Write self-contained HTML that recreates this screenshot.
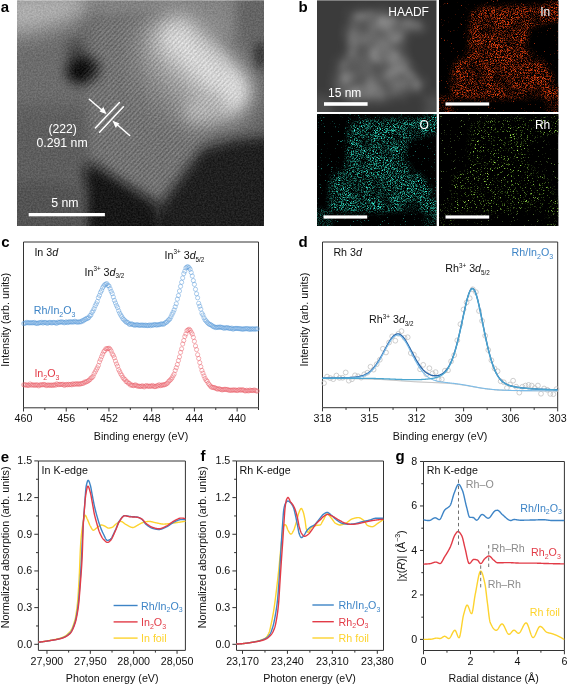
<!DOCTYPE html><html><head><meta charset="utf-8"><style>html,body{margin:0;padding:0;background:#fff;}svg{display:block}</style></head><body><svg width="567" height="685" viewBox="0 0 567 685" font-family="Liberation Sans, Arial, sans-serif"><defs><clipPath id="ca"><rect x="17" y="0" width="247" height="226"/></clipPath><filter id="b6" x="-50%" y="-50%" width="200%" height="200%"><feGaussianBlur stdDeviation="6"/></filter><filter id="b8" x="-50%" y="-50%" width="200%" height="200%"><feGaussianBlur stdDeviation="8"/></filter><filter id="b10" x="-50%" y="-50%" width="200%" height="200%"><feGaussianBlur stdDeviation="10"/></filter><filter id="b2" x="-50%" y="-50%" width="200%" height="200%"><feGaussianBlur stdDeviation="2.2"/></filter><filter id="b3" x="-50%" y="-50%" width="200%" height="200%"><feGaussianBlur stdDeviation="3"/></filter><filter id="b4" x="-50%" y="-50%" width="200%" height="200%"><feGaussianBlur stdDeviation="4"/></filter><filter id="b15" x="-50%" y="-50%" width="200%" height="200%"><feGaussianBlur stdDeviation="15"/></filter><linearGradient id="frg" x1="0" x2="1" y1="0" y2="0"><stop offset="0" stop-color="#fff" stop-opacity="0.2"/><stop offset="0.5" stop-color="#000" stop-opacity="0.2"/><stop offset="1" stop-color="#fff" stop-opacity="0.2"/></linearGradient><pattern id="fr" width="3.45" height="10" patternUnits="userSpaceOnUse" patternTransform="rotate(43.5)"><rect width="3.45" height="10" fill="url(#frg)"/></pattern><filter id="grain" x="0" y="0" width="1" height="1" color-interpolation-filters="sRGB"><feTurbulence type="fractalNoise" baseFrequency="0.6" numOctaves="2" seed="5"/><feColorMatrix type="matrix" values="2 0 0 0 -0.5  2 0 0 0 -0.5  2 0 0 0 -0.5  0 0 0 0 0.09"/></filter></defs><defs><mask id="mcry" maskUnits="userSpaceOnUse" x="0" y="0" width="300" height="240"><path d="M92,20L160,13L205,30L240,92L200,146L161,198L91,167L86,90Z" fill="#fff" filter="url(#b6)"/></mask></defs><g clip-path="url(#ca)"><rect x="17" y="0" width="247" height="226" fill="#5e5e5e"/><path d="M0,25H95V110H0Z" fill="#6a6a6a" filter="url(#b10)"/><path d="M0,110H95V178H0Z" fill="#5a5a5a" filter="url(#b10)"/><path d="M0,-10H100L92,10L70,24L40,32L0,38Z" fill="#b2b2b2" filter="url(#b10)"/><path d="M80,-10H250L250,40L215,40L170,18L100,22Z" fill="#848484" filter="url(#b8)"/><path d="M236,-5H280V145H236Z" fill="#626262" filter="url(#b6)"/><ellipse cx="260" cy="56" rx="7" ry="14" fill="#2e2e2e" filter="url(#b4)"/><path d="M92,20L160,13L205,30L240,92L200,146L161,198L91,167L86,90Z" fill="#6e6e6e" filter="url(#b6)"/><ellipse cx="192" cy="72" rx="64" ry="42" transform="rotate(45 192 72)" fill="#a0a0a0" filter="url(#b15)"/><rect x="-26" y="-60" width="52" height="120" rx="24" transform="translate(200,67) rotate(-45)" fill="#c4c4c4" filter="url(#b10)"/><rect x="-15" y="-52" width="30" height="104" rx="15" transform="translate(203,65) rotate(-45)" fill="#f6f6f6" filter="url(#b8)"/><ellipse cx="203" cy="108" rx="20" ry="13" transform="rotate(-30 203 108)" fill="#c8c8c8" filter="url(#b8)"/><ellipse cx="76" cy="52" rx="10" ry="13" fill="#444" filter="url(#b6)"/><ellipse cx="83" cy="70" rx="17" ry="13.5" transform="rotate(-15 83 70)" fill="#000" filter="url(#b6)"/><path d="M161,206L180,180L202,150L236,140L280,136V240H150Z" fill="#141414" filter="url(#b6)"/><path d="M85,167L93,162L125,184L158,205L165,240H85Z" fill="#101010" filter="url(#b6)"/><path d="M0,182L50,180L84,188L84,240H0Z" fill="#505050" filter="url(#b6)"/><rect x="17" y="0" width="247" height="226" fill="url(#fr)" mask="url(#mcry)"/><rect x="17" y="0" width="247" height="226" filter="url(#grain)"/></g><rect x="17" y="0" width="247" height="1" fill="#fff" fill-opacity="0.3"/><g stroke="#fff" stroke-width="1.5" fill="none" stroke-linecap="round"><path d="M95.3,127.9L119.4,102.5M99.6,132.3L123.4,106.7"/><path d="M89.3,99.3L103.5,111.5M129.7,135.5L115.6,123.3"/></g><path d="M106.6,114.2L99.6,111.4L103.4,107.0Z M112.4,120.6L119.4,123.4L115.6,127.8Z" fill="#fff"/><rect x="28.7" y="213" width="76.2" height="3.3" fill="#fff"/><text x="51.2" y="206.8" font-size="12.3" fill="#fff">5 nm</text><text x="48.4" y="132.6" font-size="12.2" fill="#fff">(222)</text><text x="36.4" y="147" font-size="12.3" fill="#fff">0.291 nm</text><defs><filter id="lfh" x="0" y="0" width="1" height="1" color-interpolation-filters="sRGB"><feTurbulence type="fractalNoise" baseFrequency="0.08" numOctaves="2" seed="8"/><feColorMatrix type="matrix" values="0 0 0 0 0  0 0 0 0 0  0 0 0 0 0  3.0 0 0 0 -1.38"/></filter><mask id="mk0" maskUnits="userSpaceOnUse" x="317" y="1" width="122" height="113"><g transform="translate(317,1)" filter="url(#b4)"><path d="M34,11L66,9L87,18L106,22L105,27L89,31L85,53L92,67L106,82L102,93L66,98L28,99L16,86L22,62L30,49L31,27Z" fill="#fff" fill-opacity="1.0"/><path d="M-5,96H14V118H-5Z" fill="#fff" fill-opacity="0.55"/><path d="M108,95H125V118H108Z" fill="#fff" fill-opacity="0.55"/><ellipse cx="58" cy="74" rx="3.5" ry="12" fill="#000" fill-opacity="0.75"/><ellipse cx="44" cy="52" rx="5" ry="5" fill="#000" fill-opacity="0.5"/><ellipse cx="75" cy="90" rx="8" ry="4" fill="#000" fill-opacity="0.4"/><ellipse cx="38" cy="78" rx="5" ry="6" fill="#000" fill-opacity="0.35"/><ellipse cx="100" cy="88" rx="6" ry="6" fill="#000" fill-opacity="0.3"/><ellipse cx="70" cy="30" rx="6" ry="5" fill="#000" fill-opacity="0.3"/><ellipse cx="52" cy="20" rx="4" ry="5" fill="#000" fill-opacity="0.3"/><ellipse cx="80" cy="62" rx="5" ry="5" fill="#000" fill-opacity="0.35"/><rect x="-5" y="-5" width="130" height="125" filter="url(#lfh)"/></g></mask><mask id="mk1" maskUnits="userSpaceOnUse" x="439" y="1" width="122" height="113"><g transform="translate(439,1)" filter="url(#b2)"><path d="M32,12L45,6L80,5L100,6L110,2L122,0L122,18L104,22L90,27L86,48L98,56L110,70L118,84L122,96L100,97L60,97L25,97L13,95L12,82L15,64L28,56L31,35Z" fill="#fff" fill-opacity="1.0"/><path d="M-5,96H14V118H-5Z" fill="#fff" fill-opacity="0.55"/><path d="M108,95H125V118H108Z" fill="#fff" fill-opacity="0.55"/><ellipse cx="58" cy="74" rx="3.5" ry="12" fill="#000" fill-opacity="0.75"/><ellipse cx="44" cy="52" rx="5" ry="5" fill="#000" fill-opacity="0.5"/><ellipse cx="75" cy="90" rx="8" ry="4" fill="#000" fill-opacity="0.4"/><ellipse cx="38" cy="78" rx="5" ry="6" fill="#000" fill-opacity="0.35"/><ellipse cx="100" cy="88" rx="6" ry="6" fill="#000" fill-opacity="0.3"/><ellipse cx="70" cy="30" rx="6" ry="5" fill="#000" fill-opacity="0.3"/><ellipse cx="52" cy="20" rx="4" ry="5" fill="#000" fill-opacity="0.3"/><ellipse cx="80" cy="62" rx="5" ry="5" fill="#000" fill-opacity="0.35"/><rect x="-5" y="-5" width="130" height="125" filter="url(#lfh)"/></g></mask><mask id="mk2" maskUnits="userSpaceOnUse" x="317" y="114" width="122" height="113"><g transform="translate(317,114)" filter="url(#b2)"><path d="M32,12L45,6L80,5L100,6L110,2L122,0L122,18L104,22L90,27L86,48L98,56L110,70L118,84L122,96L100,97L60,97L25,97L13,95L12,82L15,64L28,56L31,35Z" fill="#fff" fill-opacity="1.0"/><path d="M-5,96H14V118H-5Z" fill="#fff" fill-opacity="0.55"/><path d="M108,95H125V118H108Z" fill="#fff" fill-opacity="0.55"/><ellipse cx="58" cy="74" rx="3.5" ry="12" fill="#000" fill-opacity="0.75"/><ellipse cx="44" cy="52" rx="5" ry="5" fill="#000" fill-opacity="0.5"/><ellipse cx="75" cy="90" rx="8" ry="4" fill="#000" fill-opacity="0.4"/><ellipse cx="38" cy="78" rx="5" ry="6" fill="#000" fill-opacity="0.35"/><ellipse cx="100" cy="88" rx="6" ry="6" fill="#000" fill-opacity="0.3"/><ellipse cx="70" cy="30" rx="6" ry="5" fill="#000" fill-opacity="0.3"/><ellipse cx="52" cy="20" rx="4" ry="5" fill="#000" fill-opacity="0.3"/><ellipse cx="80" cy="62" rx="5" ry="5" fill="#000" fill-opacity="0.35"/><rect x="-5" y="-5" width="130" height="125" filter="url(#lfh)"/></g></mask><mask id="mk3" maskUnits="userSpaceOnUse" x="439" y="114" width="122" height="113"><g transform="translate(439,114)" filter="url(#b2)"><path d="M32,12L45,6L80,5L100,6L110,2L122,0L122,18L104,22L90,27L86,48L98,56L110,70L118,84L122,96L100,97L60,97L25,97L13,95L12,82L15,64L28,56L31,35Z" fill="#fff" fill-opacity="1.0"/><path d="M-5,96H14V118H-5Z" fill="#fff" fill-opacity="0.55"/><path d="M108,95H125V118H108Z" fill="#fff" fill-opacity="0.55"/><ellipse cx="58" cy="74" rx="3.5" ry="12" fill="#000" fill-opacity="0.75"/><ellipse cx="44" cy="52" rx="5" ry="5" fill="#000" fill-opacity="0.5"/><ellipse cx="75" cy="90" rx="8" ry="4" fill="#000" fill-opacity="0.4"/><ellipse cx="38" cy="78" rx="5" ry="6" fill="#000" fill-opacity="0.35"/><ellipse cx="100" cy="88" rx="6" ry="6" fill="#000" fill-opacity="0.3"/><ellipse cx="70" cy="30" rx="6" ry="5" fill="#000" fill-opacity="0.3"/><ellipse cx="52" cy="20" rx="4" ry="5" fill="#000" fill-opacity="0.3"/><ellipse cx="80" cy="62" rx="5" ry="5" fill="#000" fill-opacity="0.35"/><rect x="-5" y="-5" width="130" height="125" filter="url(#lfh)"/></g></mask><filter id="nIn" x="0" y="0" width="1" height="1" color-interpolation-filters="sRGB"><feTurbulence type="fractalNoise" baseFrequency="1.3" numOctaves="2" seed="11"/><feColorMatrix type="matrix" values="3.3 0 0 0 -1.4  0.9 0 0 0 -0.385  0.2 0 0 0 -0.085  0 0 0 0 1"/></filter><filter id="nO" x="0" y="0" width="1" height="1" color-interpolation-filters="sRGB"><feTurbulence type="fractalNoise" baseFrequency="1.3" numOctaves="2" seed="23"/><feColorMatrix type="matrix" values="0.5 0 0 0 -0.2  2.8 0 0 0 -1.2  2.5 0 0 0 -1.08  0 0 0 0 1"/></filter><filter id="nRh" x="0" y="0" width="1" height="1" color-interpolation-filters="sRGB"><feTurbulence type="fractalNoise" baseFrequency="1.7" numOctaves="2" seed="31"/><feColorMatrix type="matrix" values="3.4 0 0 0 -2.04  5.0 0 0 0 -2.98  1.8 0 0 0 -1.1  0 0 0 0 1"/></filter><filter id="nInBg" x="0" y="0" width="1" height="1" color-interpolation-filters="sRGB"><feTurbulence type="fractalNoise" baseFrequency="1.7" numOctaves="2" seed="12"/><feColorMatrix type="matrix" values="0.7 0 0 0 0  0.19 0 0 0 0  0.05 0 0 0 0  9 0 0 0 -6.4"/></filter><filter id="nOBg" x="0" y="0" width="1" height="1" color-interpolation-filters="sRGB"><feTurbulence type="fractalNoise" baseFrequency="1.7" numOctaves="2" seed="24"/><feColorMatrix type="matrix" values="0.12 0 0 0 0  0.55 0 0 0 0  0.5 0 0 0 0  9 0 0 0 -6.2"/></filter><filter id="nRhBg" x="0" y="0" width="1" height="1" color-interpolation-filters="sRGB"><feTurbulence type="fractalNoise" baseFrequency="1.7" numOctaves="2" seed="32"/><feColorMatrix type="matrix" values="0.4 0 0 0 0  0.55 0 0 0 0  0.25 0 0 0 0  9 0 0 0 -6.25"/></filter><filter id="haadf" x="0" y="0" width="1" height="1" color-interpolation-filters="sRGB"><feTurbulence type="fractalNoise" baseFrequency="0.06" numOctaves="1" seed="3"/><feColorMatrix type="matrix" values="0 0 0 0 0.55  0 0 0 0 0.55  0 0 0 0 0.55  1.4 0 0 0 -0.45"/></filter></defs><clipPath id="cb0"><rect x="317" y="0" width="119.7" height="112"/></clipPath><g clip-path="url(#cb0)"><rect x="317" y="0" width="119.7" height="112" fill="#3b3b3b"/><g mask="url(#mk0)"><rect x="317" y="0" width="119.7" height="112" fill="#666666"/><g filter="url(#b3)"><ellipse cx="390.6" cy="76.2" rx="7.1" ry="7.5" fill="rgb(137,137,137)"/><ellipse cx="393.1" cy="56.8" rx="6.4" ry="7.8" fill="rgb(138,138,138)"/><ellipse cx="392.8" cy="90.9" rx="6.1" ry="7.6" fill="rgb(115,115,115)"/><ellipse cx="369.7" cy="17.4" rx="5.0" ry="5.7" fill="rgb(119,119,119)"/><ellipse cx="361.0" cy="92.3" rx="6.2" ry="7.3" fill="rgb(136,136,136)"/><ellipse cx="343.2" cy="64.8" rx="5.4" ry="5.0" fill="rgb(126,126,126)"/><ellipse cx="411.9" cy="27.3" rx="7.9" ry="5.5" fill="rgb(118,118,118)"/><ellipse cx="351.3" cy="36.9" rx="6.6" ry="7.0" fill="rgb(118,118,118)"/><ellipse cx="354.6" cy="94.6" rx="5.6" ry="7.9" fill="rgb(134,134,134)"/><ellipse cx="370.0" cy="10.0" rx="5.5" ry="5.4" fill="rgb(125,125,125)"/><ellipse cx="395.3" cy="39.1" rx="6.1" ry="5.9" fill="rgb(121,121,121)"/><ellipse cx="396.9" cy="25.0" rx="7.1" ry="5.2" fill="rgb(127,127,127)"/><ellipse cx="401.5" cy="85.7" rx="6.6" ry="6.3" fill="rgb(112,112,112)"/><ellipse cx="369.4" cy="85.4" rx="5.1" ry="5.5" fill="rgb(126,126,126)"/><ellipse cx="419.1" cy="26.1" rx="5.7" ry="7.5" fill="rgb(136,136,136)"/><ellipse cx="376.7" cy="55.1" rx="6.6" ry="7.3" fill="rgb(140,140,140)"/><ellipse cx="346.3" cy="76.9" rx="6.1" ry="5.9" fill="rgb(137,137,137)"/><ellipse cx="374.2" cy="98.0" rx="6.0" ry="6.8" fill="rgb(118,118,118)"/><ellipse cx="363.9" cy="37.1" rx="7.4" ry="6.9" fill="rgb(117,117,117)"/><ellipse cx="399.0" cy="36.5" rx="5.5" ry="5.1" fill="rgb(127,127,127)"/><ellipse cx="371.9" cy="29.8" rx="6.0" ry="5.8" fill="rgb(131,131,131)"/><ellipse cx="393.0" cy="21.4" rx="5.1" ry="6.5" fill="rgb(132,132,132)"/><ellipse cx="409.1" cy="20.0" rx="6.7" ry="5.4" fill="rgb(135,135,135)"/><ellipse cx="351.5" cy="42.3" rx="7.5" ry="5.9" fill="rgb(113,113,113)"/><ellipse cx="376.0" cy="52.9" rx="6.0" ry="5.8" fill="rgb(135,135,135)"/><ellipse cx="377.4" cy="91.0" rx="6.1" ry="8.0" fill="rgb(115,115,115)"/><ellipse cx="379.9" cy="39.1" rx="6.5" ry="6.5" fill="rgb(114,114,114)"/><ellipse cx="384.1" cy="54.3" rx="7.4" ry="7.3" fill="rgb(114,114,114)"/><ellipse cx="396.7" cy="69.1" rx="5.9" ry="6.7" fill="rgb(136,136,136)"/><ellipse cx="394.5" cy="84.8" rx="7.3" ry="7.1" fill="rgb(120,120,120)"/><ellipse cx="362.3" cy="95.0" rx="5.5" ry="7.6" fill="rgb(132,132,132)"/><ellipse cx="377.8" cy="79.2" rx="7.0" ry="6.4" fill="rgb(122,122,122)"/><ellipse cx="407.2" cy="67.6" rx="6.1" ry="5.8" fill="rgb(137,137,137)"/><ellipse cx="366.7" cy="94.3" rx="6.1" ry="7.5" fill="rgb(125,125,125)"/><ellipse cx="411.8" cy="71.3" rx="7.9" ry="6.6" fill="rgb(123,123,123)"/><ellipse cx="382.5" cy="23.3" rx="6.1" ry="7.6" fill="rgb(138,138,138)"/><ellipse cx="361.3" cy="15.3" rx="7.2" ry="5.5" fill="rgb(133,133,133)"/><ellipse cx="404.1" cy="61.4" rx="7.8" ry="5.9" fill="rgb(133,133,133)"/><ellipse cx="384.6" cy="87.8" rx="7.2" ry="5.1" fill="rgb(120,120,120)"/><ellipse cx="350.8" cy="48.6" rx="5.5" ry="7.3" fill="rgb(132,132,132)"/><ellipse cx="352.5" cy="74.1" rx="7.9" ry="5.5" fill="rgb(127,127,127)"/><ellipse cx="384.2" cy="46.2" rx="6.1" ry="6.8" fill="rgb(123,123,123)"/><ellipse cx="387.8" cy="29.9" rx="6.1" ry="6.1" fill="rgb(140,140,140)"/><ellipse cx="418.9" cy="86.7" rx="5.3" ry="7.5" fill="rgb(139,139,139)"/><ellipse cx="369.2" cy="11.3" rx="5.9" ry="5.9" fill="rgb(131,131,131)"/><ellipse cx="381.1" cy="95.5" rx="7.9" ry="7.5" fill="rgb(121,121,121)"/><ellipse cx="373.0" cy="82.8" rx="6.6" ry="6.4" fill="rgb(132,132,132)"/><ellipse cx="350.5" cy="43.2" rx="7.9" ry="7.9" fill="rgb(127,127,127)"/><ellipse cx="389.3" cy="40.3" rx="7.0" ry="6.1" fill="rgb(140,140,140)"/><ellipse cx="365.0" cy="92.3" rx="5.4" ry="6.9" fill="rgb(129,129,129)"/></g></g></g><rect x="317" y="0" width="119.7" height="1" fill="#fff" fill-opacity="0.35"/><text x="428.9" y="15.6" font-size="12" fill="#fff" text-anchor="end">HAADF</text><text x="328" y="96.8" font-size="12" fill="#fff">15 nm</text><rect x="324" y="102.2" width="43.6" height="3.6" fill="#fff"/><clipPath id="cb1"><rect x="439" y="0" width="119.5" height="112"/></clipPath><g clip-path="url(#cb1)"><rect x="439" y="0" width="119.5" height="112" fill="#000"/><rect x="439" y="0" width="119.5" height="112" filter="url(#nInBg)"/><rect x="439" y="0" width="119.5" height="112" filter="url(#nIn)" mask="url(#mk1)"/></g><text x="550.3" y="15.8" font-size="12" fill="#fff" text-anchor="end">In</text><rect x="445.5" y="102.4" width="43.7" height="3.2" fill="#fff"/><clipPath id="cb2"><rect x="317" y="114" width="119.7" height="112"/></clipPath><g clip-path="url(#cb2)"><rect x="317" y="114" width="119.7" height="112" fill="#000"/><rect x="317" y="114" width="119.7" height="112" filter="url(#nOBg)"/><rect x="317" y="114" width="119.7" height="112" filter="url(#nO)" mask="url(#mk2)"/></g><text x="428.9" y="128.8" font-size="12" fill="#fff" text-anchor="end">O</text><rect x="323.5" y="215.4" width="43.7" height="3.2" fill="#fff"/><clipPath id="cb3"><rect x="439" y="114" width="119.5" height="112"/></clipPath><g clip-path="url(#cb3)"><rect x="439" y="114" width="119.5" height="112" fill="#000"/><rect x="439" y="114" width="119.5" height="112" filter="url(#nRhBg)"/><rect x="439" y="114" width="119.5" height="112" filter="url(#nRh)" mask="url(#mk3)"/></g><text x="550.3" y="128.8" font-size="12" fill="#fff" text-anchor="end">Rh</text><rect x="445.5" y="215.4" width="43.7" height="3.2" fill="#fff"/><text x="0.8" y="11.6" font-size="15" font-weight="bold" fill="#000">a</text><text x="298.6" y="11.9" font-size="15" font-weight="bold" fill="#000">b</text><text x="1.2" y="246.6" font-size="15" font-weight="bold" fill="#000">c</text><text x="298.4" y="246.6" font-size="15" font-weight="bold" fill="#000">d</text><text x="0.8" y="462" font-size="15" font-weight="bold" fill="#000">e</text><text x="200.6" y="461.2" font-size="15" font-weight="bold" fill="#000">f</text><text x="395.4" y="461.4" font-size="15" font-weight="bold" fill="#000">g</text><path d="M23.5,242V407.8H258.5V242H23.5" fill="none" stroke="#333333" stroke-width="1"/><path d="M23.5,407.8v3.7M66.23,407.8v3.7M108.95,407.8v3.7M151.68,407.8v3.7M194.41,407.8v3.7M237.14,407.8v3.7M44.86,407.8v2.2M87.59,407.8v2.2M130.32,407.8v2.2M173.05,407.8v2.2M215.77,407.8v2.2M258.5,407.8v2.2" stroke="#333333" stroke-width="1" fill="none"/><text x="23.5" y="422.3" font-size="10.7" text-anchor="middle" fill="#111111" >460</text><text x="66.23" y="422.3" font-size="10.7" text-anchor="middle" fill="#111111" >456</text><text x="108.95" y="422.3" font-size="10.7" text-anchor="middle" fill="#111111" >452</text><text x="151.68" y="422.3" font-size="10.7" text-anchor="middle" fill="#111111" >448</text><text x="194.41" y="422.3" font-size="10.7" text-anchor="middle" fill="#111111" >444</text><text x="237.14" y="422.3" font-size="10.7" text-anchor="middle" fill="#111111" >440</text><text x="141" y="439.6" font-size="10.7" text-anchor="middle" fill="#111111" >Binding energy (eV)</text><text transform="translate(8.5,319.8) rotate(-90)" font-size="10.7" text-anchor="middle" fill="#111111">Intensity (arb. units)</text><text x="34.4" y="256.2" font-size="10.7" text-anchor="start" fill="#111111" >In 3<tspan font-style="italic">d</tspan></text><text x="164.6" y="258.9" font-size="10.7" text-anchor="start" fill="#111111" >In<tspan font-size="6.3" dy="-4.6">3+</tspan><tspan dy="4.6"> 3</tspan><tspan font-style="italic">d</tspan><tspan font-size="6.3" dy="2.8">5/2</tspan></text><text x="84.5" y="275.6" font-size="10.7" text-anchor="start" fill="#111111" >In<tspan font-size="6.3" dy="-4.6">3+</tspan><tspan dy="4.6"> 3</tspan><tspan font-style="italic">d</tspan><tspan font-size="6.3" dy="2.8">3/2</tspan></text><text x="33.8" y="314" font-size="10.7" text-anchor="start" fill="#3d84c6" >Rh/In<tspan font-size="7" dy="2.6">2</tspan><tspan dy="-2.6">O</tspan><tspan font-size="7" dy="2.6">3</tspan></text><text x="34.4" y="377" font-size="10.7" text-anchor="start" fill="#e23b47" >In<tspan font-size="7" dy="2.6">2</tspan><tspan dy="-2.6">O</tspan><tspan font-size="7" dy="2.6">3</tspan></text><path d="M21.6,323.58a2.1,2.1 0 1,0 4.2,0a2.1,2.1 0 1,0 -4.2,0M22.67,323.11a2.1,2.1 0 1,0 4.2,0a2.1,2.1 0 1,0 -4.2,0M23.73,322.98a2.1,2.1 0 1,0 4.2,0a2.1,2.1 0 1,0 -4.2,0M24.8,322.29a2.1,2.1 0 1,0 4.2,0a2.1,2.1 0 1,0 -4.2,0M25.87,322.84a2.1,2.1 0 1,0 4.2,0a2.1,2.1 0 1,0 -4.2,0M26.93,322.81a2.1,2.1 0 1,0 4.2,0a2.1,2.1 0 1,0 -4.2,0M28,322.89a2.1,2.1 0 1,0 4.2,0a2.1,2.1 0 1,0 -4.2,0M29.07,322.7a2.1,2.1 0 1,0 4.2,0a2.1,2.1 0 1,0 -4.2,0M30.14,322.89a2.1,2.1 0 1,0 4.2,0a2.1,2.1 0 1,0 -4.2,0M31.2,322.74a2.1,2.1 0 1,0 4.2,0a2.1,2.1 0 1,0 -4.2,0M32.27,322.43a2.1,2.1 0 1,0 4.2,0a2.1,2.1 0 1,0 -4.2,0M33.34,323.2a2.1,2.1 0 1,0 4.2,0a2.1,2.1 0 1,0 -4.2,0M34.4,323.19a2.1,2.1 0 1,0 4.2,0a2.1,2.1 0 1,0 -4.2,0M35.47,323.47a2.1,2.1 0 1,0 4.2,0a2.1,2.1 0 1,0 -4.2,0M36.54,322.88a2.1,2.1 0 1,0 4.2,0a2.1,2.1 0 1,0 -4.2,0M37.6,322.71a2.1,2.1 0 1,0 4.2,0a2.1,2.1 0 1,0 -4.2,0M38.67,322.65a2.1,2.1 0 1,0 4.2,0a2.1,2.1 0 1,0 -4.2,0M39.74,322.29a2.1,2.1 0 1,0 4.2,0a2.1,2.1 0 1,0 -4.2,0M40.81,323.17a2.1,2.1 0 1,0 4.2,0a2.1,2.1 0 1,0 -4.2,0M41.87,322.43a2.1,2.1 0 1,0 4.2,0a2.1,2.1 0 1,0 -4.2,0M42.94,322.39a2.1,2.1 0 1,0 4.2,0a2.1,2.1 0 1,0 -4.2,0M44.01,322.72a2.1,2.1 0 1,0 4.2,0a2.1,2.1 0 1,0 -4.2,0M45.07,323.3a2.1,2.1 0 1,0 4.2,0a2.1,2.1 0 1,0 -4.2,0M46.14,322.85a2.1,2.1 0 1,0 4.2,0a2.1,2.1 0 1,0 -4.2,0M47.21,322.39a2.1,2.1 0 1,0 4.2,0a2.1,2.1 0 1,0 -4.2,0M48.27,322.49a2.1,2.1 0 1,0 4.2,0a2.1,2.1 0 1,0 -4.2,0M49.34,322.94a2.1,2.1 0 1,0 4.2,0a2.1,2.1 0 1,0 -4.2,0M50.41,322.65a2.1,2.1 0 1,0 4.2,0a2.1,2.1 0 1,0 -4.2,0M51.48,322.42a2.1,2.1 0 1,0 4.2,0a2.1,2.1 0 1,0 -4.2,0M52.54,322.59a2.1,2.1 0 1,0 4.2,0a2.1,2.1 0 1,0 -4.2,0M53.61,322.91a2.1,2.1 0 1,0 4.2,0a2.1,2.1 0 1,0 -4.2,0M54.68,323.33a2.1,2.1 0 1,0 4.2,0a2.1,2.1 0 1,0 -4.2,0M55.74,322.18a2.1,2.1 0 1,0 4.2,0a2.1,2.1 0 1,0 -4.2,0M56.81,322.37a2.1,2.1 0 1,0 4.2,0a2.1,2.1 0 1,0 -4.2,0M57.88,322.29a2.1,2.1 0 1,0 4.2,0a2.1,2.1 0 1,0 -4.2,0M58.95,321.7a2.1,2.1 0 1,0 4.2,0a2.1,2.1 0 1,0 -4.2,0M60.01,322.2a2.1,2.1 0 1,0 4.2,0a2.1,2.1 0 1,0 -4.2,0M61.08,322.13a2.1,2.1 0 1,0 4.2,0a2.1,2.1 0 1,0 -4.2,0M62.15,322.86a2.1,2.1 0 1,0 4.2,0a2.1,2.1 0 1,0 -4.2,0M63.21,322.39a2.1,2.1 0 1,0 4.2,0a2.1,2.1 0 1,0 -4.2,0M64.28,321.83a2.1,2.1 0 1,0 4.2,0a2.1,2.1 0 1,0 -4.2,0M65.35,322.59a2.1,2.1 0 1,0 4.2,0a2.1,2.1 0 1,0 -4.2,0M66.41,322.21a2.1,2.1 0 1,0 4.2,0a2.1,2.1 0 1,0 -4.2,0M67.48,321.68a2.1,2.1 0 1,0 4.2,0a2.1,2.1 0 1,0 -4.2,0M68.55,322.04a2.1,2.1 0 1,0 4.2,0a2.1,2.1 0 1,0 -4.2,0M69.62,321.99a2.1,2.1 0 1,0 4.2,0a2.1,2.1 0 1,0 -4.2,0M70.68,321.84a2.1,2.1 0 1,0 4.2,0a2.1,2.1 0 1,0 -4.2,0M71.75,322.09a2.1,2.1 0 1,0 4.2,0a2.1,2.1 0 1,0 -4.2,0M72.82,321.23a2.1,2.1 0 1,0 4.2,0a2.1,2.1 0 1,0 -4.2,0M73.88,321.84a2.1,2.1 0 1,0 4.2,0a2.1,2.1 0 1,0 -4.2,0M74.95,322.19a2.1,2.1 0 1,0 4.2,0a2.1,2.1 0 1,0 -4.2,0M76.02,322.02a2.1,2.1 0 1,0 4.2,0a2.1,2.1 0 1,0 -4.2,0M77.08,321.97a2.1,2.1 0 1,0 4.2,0a2.1,2.1 0 1,0 -4.2,0M78.15,321.81a2.1,2.1 0 1,0 4.2,0a2.1,2.1 0 1,0 -4.2,0M79.22,321.72a2.1,2.1 0 1,0 4.2,0a2.1,2.1 0 1,0 -4.2,0M80.29,320.53a2.1,2.1 0 1,0 4.2,0a2.1,2.1 0 1,0 -4.2,0M81.35,320.87a2.1,2.1 0 1,0 4.2,0a2.1,2.1 0 1,0 -4.2,0M82.42,319.49a2.1,2.1 0 1,0 4.2,0a2.1,2.1 0 1,0 -4.2,0M83.49,319.39a2.1,2.1 0 1,0 4.2,0a2.1,2.1 0 1,0 -4.2,0M84.55,318.25a2.1,2.1 0 1,0 4.2,0a2.1,2.1 0 1,0 -4.2,0M85.62,318.45a2.1,2.1 0 1,0 4.2,0a2.1,2.1 0 1,0 -4.2,0M86.69,317.53a2.1,2.1 0 1,0 4.2,0a2.1,2.1 0 1,0 -4.2,0M87.75,315.77a2.1,2.1 0 1,0 4.2,0a2.1,2.1 0 1,0 -4.2,0M88.82,315.02a2.1,2.1 0 1,0 4.2,0a2.1,2.1 0 1,0 -4.2,0M89.89,312.47a2.1,2.1 0 1,0 4.2,0a2.1,2.1 0 1,0 -4.2,0M90.96,310.83a2.1,2.1 0 1,0 4.2,0a2.1,2.1 0 1,0 -4.2,0M92.02,308.65a2.1,2.1 0 1,0 4.2,0a2.1,2.1 0 1,0 -4.2,0M93.09,305.82a2.1,2.1 0 1,0 4.2,0a2.1,2.1 0 1,0 -4.2,0M94.16,303.75a2.1,2.1 0 1,0 4.2,0a2.1,2.1 0 1,0 -4.2,0M95.22,301.52a2.1,2.1 0 1,0 4.2,0a2.1,2.1 0 1,0 -4.2,0M96.29,297.64a2.1,2.1 0 1,0 4.2,0a2.1,2.1 0 1,0 -4.2,0M97.36,295.45a2.1,2.1 0 1,0 4.2,0a2.1,2.1 0 1,0 -4.2,0M98.42,292.31a2.1,2.1 0 1,0 4.2,0a2.1,2.1 0 1,0 -4.2,0M99.49,290.41a2.1,2.1 0 1,0 4.2,0a2.1,2.1 0 1,0 -4.2,0M100.56,287.7a2.1,2.1 0 1,0 4.2,0a2.1,2.1 0 1,0 -4.2,0M101.63,285.97a2.1,2.1 0 1,0 4.2,0a2.1,2.1 0 1,0 -4.2,0M102.69,284.74a2.1,2.1 0 1,0 4.2,0a2.1,2.1 0 1,0 -4.2,0M103.76,284.05a2.1,2.1 0 1,0 4.2,0a2.1,2.1 0 1,0 -4.2,0M104.83,283.64a2.1,2.1 0 1,0 4.2,0a2.1,2.1 0 1,0 -4.2,0M105.89,285.5a2.1,2.1 0 1,0 4.2,0a2.1,2.1 0 1,0 -4.2,0M106.96,286.07a2.1,2.1 0 1,0 4.2,0a2.1,2.1 0 1,0 -4.2,0M108.03,288.73a2.1,2.1 0 1,0 4.2,0a2.1,2.1 0 1,0 -4.2,0M109.09,291.38a2.1,2.1 0 1,0 4.2,0a2.1,2.1 0 1,0 -4.2,0M110.16,293.68a2.1,2.1 0 1,0 4.2,0a2.1,2.1 0 1,0 -4.2,0M111.23,297a2.1,2.1 0 1,0 4.2,0a2.1,2.1 0 1,0 -4.2,0M112.3,300.4a2.1,2.1 0 1,0 4.2,0a2.1,2.1 0 1,0 -4.2,0M113.36,302.98a2.1,2.1 0 1,0 4.2,0a2.1,2.1 0 1,0 -4.2,0M114.43,305.57a2.1,2.1 0 1,0 4.2,0a2.1,2.1 0 1,0 -4.2,0M115.5,307.58a2.1,2.1 0 1,0 4.2,0a2.1,2.1 0 1,0 -4.2,0M116.56,310.76a2.1,2.1 0 1,0 4.2,0a2.1,2.1 0 1,0 -4.2,0M117.63,313.15a2.1,2.1 0 1,0 4.2,0a2.1,2.1 0 1,0 -4.2,0M118.7,315.18a2.1,2.1 0 1,0 4.2,0a2.1,2.1 0 1,0 -4.2,0M119.76,316.77a2.1,2.1 0 1,0 4.2,0a2.1,2.1 0 1,0 -4.2,0M120.83,318.74a2.1,2.1 0 1,0 4.2,0a2.1,2.1 0 1,0 -4.2,0M121.9,319.68a2.1,2.1 0 1,0 4.2,0a2.1,2.1 0 1,0 -4.2,0M122.97,320.9a2.1,2.1 0 1,0 4.2,0a2.1,2.1 0 1,0 -4.2,0M124.03,322.05a2.1,2.1 0 1,0 4.2,0a2.1,2.1 0 1,0 -4.2,0M125.1,322.23a2.1,2.1 0 1,0 4.2,0a2.1,2.1 0 1,0 -4.2,0M126.17,323a2.1,2.1 0 1,0 4.2,0a2.1,2.1 0 1,0 -4.2,0M127.23,324.32a2.1,2.1 0 1,0 4.2,0a2.1,2.1 0 1,0 -4.2,0M128.3,324.24a2.1,2.1 0 1,0 4.2,0a2.1,2.1 0 1,0 -4.2,0M129.37,323.77a2.1,2.1 0 1,0 4.2,0a2.1,2.1 0 1,0 -4.2,0M130.43,324.43a2.1,2.1 0 1,0 4.2,0a2.1,2.1 0 1,0 -4.2,0M131.5,324.84a2.1,2.1 0 1,0 4.2,0a2.1,2.1 0 1,0 -4.2,0M132.57,325.22a2.1,2.1 0 1,0 4.2,0a2.1,2.1 0 1,0 -4.2,0M133.64,324.96a2.1,2.1 0 1,0 4.2,0a2.1,2.1 0 1,0 -4.2,0M134.7,324.81a2.1,2.1 0 1,0 4.2,0a2.1,2.1 0 1,0 -4.2,0M135.77,324.82a2.1,2.1 0 1,0 4.2,0a2.1,2.1 0 1,0 -4.2,0M136.84,325.36a2.1,2.1 0 1,0 4.2,0a2.1,2.1 0 1,0 -4.2,0M137.9,325.29a2.1,2.1 0 1,0 4.2,0a2.1,2.1 0 1,0 -4.2,0M138.97,325.04a2.1,2.1 0 1,0 4.2,0a2.1,2.1 0 1,0 -4.2,0M140.04,325.19a2.1,2.1 0 1,0 4.2,0a2.1,2.1 0 1,0 -4.2,0M141.1,325.13a2.1,2.1 0 1,0 4.2,0a2.1,2.1 0 1,0 -4.2,0M142.17,325.54a2.1,2.1 0 1,0 4.2,0a2.1,2.1 0 1,0 -4.2,0M143.24,325.05a2.1,2.1 0 1,0 4.2,0a2.1,2.1 0 1,0 -4.2,0M144.31,325.46a2.1,2.1 0 1,0 4.2,0a2.1,2.1 0 1,0 -4.2,0M145.37,325.58a2.1,2.1 0 1,0 4.2,0a2.1,2.1 0 1,0 -4.2,0M146.44,325.44a2.1,2.1 0 1,0 4.2,0a2.1,2.1 0 1,0 -4.2,0M147.51,324.96a2.1,2.1 0 1,0 4.2,0a2.1,2.1 0 1,0 -4.2,0M148.57,325.7a2.1,2.1 0 1,0 4.2,0a2.1,2.1 0 1,0 -4.2,0M149.64,324.95a2.1,2.1 0 1,0 4.2,0a2.1,2.1 0 1,0 -4.2,0M150.71,325.3a2.1,2.1 0 1,0 4.2,0a2.1,2.1 0 1,0 -4.2,0M151.77,324.83a2.1,2.1 0 1,0 4.2,0a2.1,2.1 0 1,0 -4.2,0M152.84,324.42a2.1,2.1 0 1,0 4.2,0a2.1,2.1 0 1,0 -4.2,0M153.91,325.04a2.1,2.1 0 1,0 4.2,0a2.1,2.1 0 1,0 -4.2,0M154.98,324.97a2.1,2.1 0 1,0 4.2,0a2.1,2.1 0 1,0 -4.2,0M156.04,324.73a2.1,2.1 0 1,0 4.2,0a2.1,2.1 0 1,0 -4.2,0M157.11,324.72a2.1,2.1 0 1,0 4.2,0a2.1,2.1 0 1,0 -4.2,0M158.18,324.23a2.1,2.1 0 1,0 4.2,0a2.1,2.1 0 1,0 -4.2,0M159.24,323.99a2.1,2.1 0 1,0 4.2,0a2.1,2.1 0 1,0 -4.2,0M160.31,323.93a2.1,2.1 0 1,0 4.2,0a2.1,2.1 0 1,0 -4.2,0M161.38,324.32a2.1,2.1 0 1,0 4.2,0a2.1,2.1 0 1,0 -4.2,0M162.44,323.5a2.1,2.1 0 1,0 4.2,0a2.1,2.1 0 1,0 -4.2,0M163.51,322.49a2.1,2.1 0 1,0 4.2,0a2.1,2.1 0 1,0 -4.2,0M164.58,322.17a2.1,2.1 0 1,0 4.2,0a2.1,2.1 0 1,0 -4.2,0M165.65,320.93a2.1,2.1 0 1,0 4.2,0a2.1,2.1 0 1,0 -4.2,0M166.71,319.84a2.1,2.1 0 1,0 4.2,0a2.1,2.1 0 1,0 -4.2,0M167.78,318.95a2.1,2.1 0 1,0 4.2,0a2.1,2.1 0 1,0 -4.2,0M168.85,316.81a2.1,2.1 0 1,0 4.2,0a2.1,2.1 0 1,0 -4.2,0M169.91,314.42a2.1,2.1 0 1,0 4.2,0a2.1,2.1 0 1,0 -4.2,0M170.98,312.34a2.1,2.1 0 1,0 4.2,0a2.1,2.1 0 1,0 -4.2,0M172.05,309.95a2.1,2.1 0 1,0 4.2,0a2.1,2.1 0 1,0 -4.2,0M173.11,306.83a2.1,2.1 0 1,0 4.2,0a2.1,2.1 0 1,0 -4.2,0M174.18,303.71a2.1,2.1 0 1,0 4.2,0a2.1,2.1 0 1,0 -4.2,0M175.25,299.16a2.1,2.1 0 1,0 4.2,0a2.1,2.1 0 1,0 -4.2,0M176.32,295.52a2.1,2.1 0 1,0 4.2,0a2.1,2.1 0 1,0 -4.2,0M177.38,291.04a2.1,2.1 0 1,0 4.2,0a2.1,2.1 0 1,0 -4.2,0M178.45,286.37a2.1,2.1 0 1,0 4.2,0a2.1,2.1 0 1,0 -4.2,0M179.52,282.29a2.1,2.1 0 1,0 4.2,0a2.1,2.1 0 1,0 -4.2,0M180.58,277.96a2.1,2.1 0 1,0 4.2,0a2.1,2.1 0 1,0 -4.2,0M181.65,273.67a2.1,2.1 0 1,0 4.2,0a2.1,2.1 0 1,0 -4.2,0M182.72,271.15a2.1,2.1 0 1,0 4.2,0a2.1,2.1 0 1,0 -4.2,0M183.78,267.97a2.1,2.1 0 1,0 4.2,0a2.1,2.1 0 1,0 -4.2,0M184.85,267.04a2.1,2.1 0 1,0 4.2,0a2.1,2.1 0 1,0 -4.2,0M185.92,266.76a2.1,2.1 0 1,0 4.2,0a2.1,2.1 0 1,0 -4.2,0M186.99,267.78a2.1,2.1 0 1,0 4.2,0a2.1,2.1 0 1,0 -4.2,0M188.05,269.33a2.1,2.1 0 1,0 4.2,0a2.1,2.1 0 1,0 -4.2,0M189.12,272.46a2.1,2.1 0 1,0 4.2,0a2.1,2.1 0 1,0 -4.2,0M190.19,276.04a2.1,2.1 0 1,0 4.2,0a2.1,2.1 0 1,0 -4.2,0M191.25,280.57a2.1,2.1 0 1,0 4.2,0a2.1,2.1 0 1,0 -4.2,0M192.32,284.4a2.1,2.1 0 1,0 4.2,0a2.1,2.1 0 1,0 -4.2,0M193.39,289.3a2.1,2.1 0 1,0 4.2,0a2.1,2.1 0 1,0 -4.2,0M194.45,293.75a2.1,2.1 0 1,0 4.2,0a2.1,2.1 0 1,0 -4.2,0M195.52,297.79a2.1,2.1 0 1,0 4.2,0a2.1,2.1 0 1,0 -4.2,0M196.59,303.34a2.1,2.1 0 1,0 4.2,0a2.1,2.1 0 1,0 -4.2,0M197.66,306.2a2.1,2.1 0 1,0 4.2,0a2.1,2.1 0 1,0 -4.2,0M198.72,309.17a2.1,2.1 0 1,0 4.2,0a2.1,2.1 0 1,0 -4.2,0M199.79,313.24a2.1,2.1 0 1,0 4.2,0a2.1,2.1 0 1,0 -4.2,0M200.86,315.04a2.1,2.1 0 1,0 4.2,0a2.1,2.1 0 1,0 -4.2,0M201.92,317.82a2.1,2.1 0 1,0 4.2,0a2.1,2.1 0 1,0 -4.2,0M202.99,319.91a2.1,2.1 0 1,0 4.2,0a2.1,2.1 0 1,0 -4.2,0M204.06,320.98a2.1,2.1 0 1,0 4.2,0a2.1,2.1 0 1,0 -4.2,0M205.12,322.37a2.1,2.1 0 1,0 4.2,0a2.1,2.1 0 1,0 -4.2,0M206.19,323.39a2.1,2.1 0 1,0 4.2,0a2.1,2.1 0 1,0 -4.2,0M207.26,324.39a2.1,2.1 0 1,0 4.2,0a2.1,2.1 0 1,0 -4.2,0M208.33,324.55a2.1,2.1 0 1,0 4.2,0a2.1,2.1 0 1,0 -4.2,0M209.39,325.24a2.1,2.1 0 1,0 4.2,0a2.1,2.1 0 1,0 -4.2,0M210.46,326.06a2.1,2.1 0 1,0 4.2,0a2.1,2.1 0 1,0 -4.2,0M211.53,326.82a2.1,2.1 0 1,0 4.2,0a2.1,2.1 0 1,0 -4.2,0M212.59,326.96a2.1,2.1 0 1,0 4.2,0a2.1,2.1 0 1,0 -4.2,0M213.66,327.58a2.1,2.1 0 1,0 4.2,0a2.1,2.1 0 1,0 -4.2,0M214.73,327.41a2.1,2.1 0 1,0 4.2,0a2.1,2.1 0 1,0 -4.2,0M215.79,327.15a2.1,2.1 0 1,0 4.2,0a2.1,2.1 0 1,0 -4.2,0M216.86,327.42a2.1,2.1 0 1,0 4.2,0a2.1,2.1 0 1,0 -4.2,0M217.93,326.88a2.1,2.1 0 1,0 4.2,0a2.1,2.1 0 1,0 -4.2,0M219,327.36a2.1,2.1 0 1,0 4.2,0a2.1,2.1 0 1,0 -4.2,0M220.06,327.43a2.1,2.1 0 1,0 4.2,0a2.1,2.1 0 1,0 -4.2,0M221.13,327.97a2.1,2.1 0 1,0 4.2,0a2.1,2.1 0 1,0 -4.2,0M222.2,328.18a2.1,2.1 0 1,0 4.2,0a2.1,2.1 0 1,0 -4.2,0M223.26,327.83a2.1,2.1 0 1,0 4.2,0a2.1,2.1 0 1,0 -4.2,0M224.33,327.88a2.1,2.1 0 1,0 4.2,0a2.1,2.1 0 1,0 -4.2,0M225.4,327.61a2.1,2.1 0 1,0 4.2,0a2.1,2.1 0 1,0 -4.2,0M226.46,328.16a2.1,2.1 0 1,0 4.2,0a2.1,2.1 0 1,0 -4.2,0M227.53,328.34a2.1,2.1 0 1,0 4.2,0a2.1,2.1 0 1,0 -4.2,0M228.6,328.46a2.1,2.1 0 1,0 4.2,0a2.1,2.1 0 1,0 -4.2,0M229.67,328.07a2.1,2.1 0 1,0 4.2,0a2.1,2.1 0 1,0 -4.2,0M230.73,329.08a2.1,2.1 0 1,0 4.2,0a2.1,2.1 0 1,0 -4.2,0M231.8,328.84a2.1,2.1 0 1,0 4.2,0a2.1,2.1 0 1,0 -4.2,0M232.87,328.43a2.1,2.1 0 1,0 4.2,0a2.1,2.1 0 1,0 -4.2,0M233.93,328.31a2.1,2.1 0 1,0 4.2,0a2.1,2.1 0 1,0 -4.2,0M235,328.42a2.1,2.1 0 1,0 4.2,0a2.1,2.1 0 1,0 -4.2,0M236.07,328.61a2.1,2.1 0 1,0 4.2,0a2.1,2.1 0 1,0 -4.2,0M237.13,328.58a2.1,2.1 0 1,0 4.2,0a2.1,2.1 0 1,0 -4.2,0M238.2,328.78a2.1,2.1 0 1,0 4.2,0a2.1,2.1 0 1,0 -4.2,0M239.27,328.91a2.1,2.1 0 1,0 4.2,0a2.1,2.1 0 1,0 -4.2,0M240.34,329.14a2.1,2.1 0 1,0 4.2,0a2.1,2.1 0 1,0 -4.2,0M241.4,329.09a2.1,2.1 0 1,0 4.2,0a2.1,2.1 0 1,0 -4.2,0M242.47,328.67a2.1,2.1 0 1,0 4.2,0a2.1,2.1 0 1,0 -4.2,0M243.54,328.86a2.1,2.1 0 1,0 4.2,0a2.1,2.1 0 1,0 -4.2,0M244.6,328.61a2.1,2.1 0 1,0 4.2,0a2.1,2.1 0 1,0 -4.2,0M245.67,328.56a2.1,2.1 0 1,0 4.2,0a2.1,2.1 0 1,0 -4.2,0M246.74,329.45a2.1,2.1 0 1,0 4.2,0a2.1,2.1 0 1,0 -4.2,0M247.8,328.64a2.1,2.1 0 1,0 4.2,0a2.1,2.1 0 1,0 -4.2,0M248.87,329.51a2.1,2.1 0 1,0 4.2,0a2.1,2.1 0 1,0 -4.2,0M249.94,328.71a2.1,2.1 0 1,0 4.2,0a2.1,2.1 0 1,0 -4.2,0M251.01,328.93a2.1,2.1 0 1,0 4.2,0a2.1,2.1 0 1,0 -4.2,0M252.07,329.24a2.1,2.1 0 1,0 4.2,0a2.1,2.1 0 1,0 -4.2,0M253.14,328.88a2.1,2.1 0 1,0 4.2,0a2.1,2.1 0 1,0 -4.2,0M254.21,329.02a2.1,2.1 0 1,0 4.2,0a2.1,2.1 0 1,0 -4.2,0M255.27,328.81a2.1,2.1 0 1,0 4.2,0a2.1,2.1 0 1,0 -4.2,0" fill="none" stroke="#5b9bd8" stroke-width="0.5"/><path d="M21.6,384.8a2.1,2.1 0 1,0 4.2,0a2.1,2.1 0 1,0 -4.2,0M22.67,384.9a2.1,2.1 0 1,0 4.2,0a2.1,2.1 0 1,0 -4.2,0M23.73,384.73a2.1,2.1 0 1,0 4.2,0a2.1,2.1 0 1,0 -4.2,0M24.8,385.52a2.1,2.1 0 1,0 4.2,0a2.1,2.1 0 1,0 -4.2,0M25.87,384.89a2.1,2.1 0 1,0 4.2,0a2.1,2.1 0 1,0 -4.2,0M26.93,385.54a2.1,2.1 0 1,0 4.2,0a2.1,2.1 0 1,0 -4.2,0M28,383.99a2.1,2.1 0 1,0 4.2,0a2.1,2.1 0 1,0 -4.2,0M29.07,384.93a2.1,2.1 0 1,0 4.2,0a2.1,2.1 0 1,0 -4.2,0M30.14,385.12a2.1,2.1 0 1,0 4.2,0a2.1,2.1 0 1,0 -4.2,0M31.2,384.81a2.1,2.1 0 1,0 4.2,0a2.1,2.1 0 1,0 -4.2,0M32.27,385.29a2.1,2.1 0 1,0 4.2,0a2.1,2.1 0 1,0 -4.2,0M33.34,385.12a2.1,2.1 0 1,0 4.2,0a2.1,2.1 0 1,0 -4.2,0M34.4,384.8a2.1,2.1 0 1,0 4.2,0a2.1,2.1 0 1,0 -4.2,0M35.47,385.04a2.1,2.1 0 1,0 4.2,0a2.1,2.1 0 1,0 -4.2,0M36.54,385.86a2.1,2.1 0 1,0 4.2,0a2.1,2.1 0 1,0 -4.2,0M37.6,384.96a2.1,2.1 0 1,0 4.2,0a2.1,2.1 0 1,0 -4.2,0M38.67,384.96a2.1,2.1 0 1,0 4.2,0a2.1,2.1 0 1,0 -4.2,0M39.74,384.7a2.1,2.1 0 1,0 4.2,0a2.1,2.1 0 1,0 -4.2,0M40.81,384.89a2.1,2.1 0 1,0 4.2,0a2.1,2.1 0 1,0 -4.2,0M41.87,384.38a2.1,2.1 0 1,0 4.2,0a2.1,2.1 0 1,0 -4.2,0M42.94,384.75a2.1,2.1 0 1,0 4.2,0a2.1,2.1 0 1,0 -4.2,0M44.01,385.67a2.1,2.1 0 1,0 4.2,0a2.1,2.1 0 1,0 -4.2,0M45.07,385.17a2.1,2.1 0 1,0 4.2,0a2.1,2.1 0 1,0 -4.2,0M46.14,385.01a2.1,2.1 0 1,0 4.2,0a2.1,2.1 0 1,0 -4.2,0M47.21,385.16a2.1,2.1 0 1,0 4.2,0a2.1,2.1 0 1,0 -4.2,0M48.27,385.42a2.1,2.1 0 1,0 4.2,0a2.1,2.1 0 1,0 -4.2,0M49.34,384.95a2.1,2.1 0 1,0 4.2,0a2.1,2.1 0 1,0 -4.2,0M50.41,385.46a2.1,2.1 0 1,0 4.2,0a2.1,2.1 0 1,0 -4.2,0M51.48,385.09a2.1,2.1 0 1,0 4.2,0a2.1,2.1 0 1,0 -4.2,0M52.54,384.76a2.1,2.1 0 1,0 4.2,0a2.1,2.1 0 1,0 -4.2,0M53.61,385.29a2.1,2.1 0 1,0 4.2,0a2.1,2.1 0 1,0 -4.2,0M54.68,383.84a2.1,2.1 0 1,0 4.2,0a2.1,2.1 0 1,0 -4.2,0M55.74,384.45a2.1,2.1 0 1,0 4.2,0a2.1,2.1 0 1,0 -4.2,0M56.81,384.72a2.1,2.1 0 1,0 4.2,0a2.1,2.1 0 1,0 -4.2,0M57.88,384.29a2.1,2.1 0 1,0 4.2,0a2.1,2.1 0 1,0 -4.2,0M58.95,384.53a2.1,2.1 0 1,0 4.2,0a2.1,2.1 0 1,0 -4.2,0M60.01,384.34a2.1,2.1 0 1,0 4.2,0a2.1,2.1 0 1,0 -4.2,0M61.08,384.31a2.1,2.1 0 1,0 4.2,0a2.1,2.1 0 1,0 -4.2,0M62.15,385.46a2.1,2.1 0 1,0 4.2,0a2.1,2.1 0 1,0 -4.2,0M63.21,384.7a2.1,2.1 0 1,0 4.2,0a2.1,2.1 0 1,0 -4.2,0M64.28,384.43a2.1,2.1 0 1,0 4.2,0a2.1,2.1 0 1,0 -4.2,0M65.35,384.88a2.1,2.1 0 1,0 4.2,0a2.1,2.1 0 1,0 -4.2,0M66.41,384.3a2.1,2.1 0 1,0 4.2,0a2.1,2.1 0 1,0 -4.2,0M67.48,384.66a2.1,2.1 0 1,0 4.2,0a2.1,2.1 0 1,0 -4.2,0M68.55,384.43a2.1,2.1 0 1,0 4.2,0a2.1,2.1 0 1,0 -4.2,0M69.62,384.84a2.1,2.1 0 1,0 4.2,0a2.1,2.1 0 1,0 -4.2,0M70.68,383.72a2.1,2.1 0 1,0 4.2,0a2.1,2.1 0 1,0 -4.2,0M71.75,384.44a2.1,2.1 0 1,0 4.2,0a2.1,2.1 0 1,0 -4.2,0M72.82,384.15a2.1,2.1 0 1,0 4.2,0a2.1,2.1 0 1,0 -4.2,0M73.88,383.64a2.1,2.1 0 1,0 4.2,0a2.1,2.1 0 1,0 -4.2,0M74.95,384.34a2.1,2.1 0 1,0 4.2,0a2.1,2.1 0 1,0 -4.2,0M76.02,383.57a2.1,2.1 0 1,0 4.2,0a2.1,2.1 0 1,0 -4.2,0M77.08,384.33a2.1,2.1 0 1,0 4.2,0a2.1,2.1 0 1,0 -4.2,0M78.15,383.8a2.1,2.1 0 1,0 4.2,0a2.1,2.1 0 1,0 -4.2,0M79.22,383.7a2.1,2.1 0 1,0 4.2,0a2.1,2.1 0 1,0 -4.2,0M80.29,383.28a2.1,2.1 0 1,0 4.2,0a2.1,2.1 0 1,0 -4.2,0M81.35,383.31a2.1,2.1 0 1,0 4.2,0a2.1,2.1 0 1,0 -4.2,0M82.42,382.02a2.1,2.1 0 1,0 4.2,0a2.1,2.1 0 1,0 -4.2,0M83.49,382.29a2.1,2.1 0 1,0 4.2,0a2.1,2.1 0 1,0 -4.2,0M84.55,381.54a2.1,2.1 0 1,0 4.2,0a2.1,2.1 0 1,0 -4.2,0M85.62,381.24a2.1,2.1 0 1,0 4.2,0a2.1,2.1 0 1,0 -4.2,0M86.69,380.36a2.1,2.1 0 1,0 4.2,0a2.1,2.1 0 1,0 -4.2,0M87.75,379.67a2.1,2.1 0 1,0 4.2,0a2.1,2.1 0 1,0 -4.2,0M88.82,378.05a2.1,2.1 0 1,0 4.2,0a2.1,2.1 0 1,0 -4.2,0M89.89,377.69a2.1,2.1 0 1,0 4.2,0a2.1,2.1 0 1,0 -4.2,0M90.96,376.34a2.1,2.1 0 1,0 4.2,0a2.1,2.1 0 1,0 -4.2,0M92.02,373.72a2.1,2.1 0 1,0 4.2,0a2.1,2.1 0 1,0 -4.2,0M93.09,371.83a2.1,2.1 0 1,0 4.2,0a2.1,2.1 0 1,0 -4.2,0M94.16,369.78a2.1,2.1 0 1,0 4.2,0a2.1,2.1 0 1,0 -4.2,0M95.22,367.77a2.1,2.1 0 1,0 4.2,0a2.1,2.1 0 1,0 -4.2,0M96.29,365.5a2.1,2.1 0 1,0 4.2,0a2.1,2.1 0 1,0 -4.2,0M97.36,361.82a2.1,2.1 0 1,0 4.2,0a2.1,2.1 0 1,0 -4.2,0M98.42,359.4a2.1,2.1 0 1,0 4.2,0a2.1,2.1 0 1,0 -4.2,0M99.49,356.66a2.1,2.1 0 1,0 4.2,0a2.1,2.1 0 1,0 -4.2,0M100.56,354.19a2.1,2.1 0 1,0 4.2,0a2.1,2.1 0 1,0 -4.2,0M101.63,351.81a2.1,2.1 0 1,0 4.2,0a2.1,2.1 0 1,0 -4.2,0M102.69,350.66a2.1,2.1 0 1,0 4.2,0a2.1,2.1 0 1,0 -4.2,0M103.76,348.75a2.1,2.1 0 1,0 4.2,0a2.1,2.1 0 1,0 -4.2,0M104.83,348.86a2.1,2.1 0 1,0 4.2,0a2.1,2.1 0 1,0 -4.2,0M105.89,348.46a2.1,2.1 0 1,0 4.2,0a2.1,2.1 0 1,0 -4.2,0M106.96,348.23a2.1,2.1 0 1,0 4.2,0a2.1,2.1 0 1,0 -4.2,0M108.03,349.3a2.1,2.1 0 1,0 4.2,0a2.1,2.1 0 1,0 -4.2,0M109.09,351.06a2.1,2.1 0 1,0 4.2,0a2.1,2.1 0 1,0 -4.2,0M110.16,353.83a2.1,2.1 0 1,0 4.2,0a2.1,2.1 0 1,0 -4.2,0M111.23,355.43a2.1,2.1 0 1,0 4.2,0a2.1,2.1 0 1,0 -4.2,0M112.3,357.81a2.1,2.1 0 1,0 4.2,0a2.1,2.1 0 1,0 -4.2,0M113.36,361.04a2.1,2.1 0 1,0 4.2,0a2.1,2.1 0 1,0 -4.2,0M114.43,363.94a2.1,2.1 0 1,0 4.2,0a2.1,2.1 0 1,0 -4.2,0M115.5,366.27a2.1,2.1 0 1,0 4.2,0a2.1,2.1 0 1,0 -4.2,0M116.56,369.64a2.1,2.1 0 1,0 4.2,0a2.1,2.1 0 1,0 -4.2,0M117.63,371.58a2.1,2.1 0 1,0 4.2,0a2.1,2.1 0 1,0 -4.2,0M118.7,373.87a2.1,2.1 0 1,0 4.2,0a2.1,2.1 0 1,0 -4.2,0M119.76,375.41a2.1,2.1 0 1,0 4.2,0a2.1,2.1 0 1,0 -4.2,0M120.83,377.47a2.1,2.1 0 1,0 4.2,0a2.1,2.1 0 1,0 -4.2,0M121.9,378.97a2.1,2.1 0 1,0 4.2,0a2.1,2.1 0 1,0 -4.2,0M122.97,379.56a2.1,2.1 0 1,0 4.2,0a2.1,2.1 0 1,0 -4.2,0M124.03,381.58a2.1,2.1 0 1,0 4.2,0a2.1,2.1 0 1,0 -4.2,0M125.1,381.8a2.1,2.1 0 1,0 4.2,0a2.1,2.1 0 1,0 -4.2,0M126.17,383.19a2.1,2.1 0 1,0 4.2,0a2.1,2.1 0 1,0 -4.2,0M127.23,383.32a2.1,2.1 0 1,0 4.2,0a2.1,2.1 0 1,0 -4.2,0M128.3,385.06a2.1,2.1 0 1,0 4.2,0a2.1,2.1 0 1,0 -4.2,0M129.37,384.88a2.1,2.1 0 1,0 4.2,0a2.1,2.1 0 1,0 -4.2,0M130.43,385.4a2.1,2.1 0 1,0 4.2,0a2.1,2.1 0 1,0 -4.2,0M131.5,385.68a2.1,2.1 0 1,0 4.2,0a2.1,2.1 0 1,0 -4.2,0M132.57,385.11a2.1,2.1 0 1,0 4.2,0a2.1,2.1 0 1,0 -4.2,0M133.64,384.94a2.1,2.1 0 1,0 4.2,0a2.1,2.1 0 1,0 -4.2,0M134.7,385.75a2.1,2.1 0 1,0 4.2,0a2.1,2.1 0 1,0 -4.2,0M135.77,386.29a2.1,2.1 0 1,0 4.2,0a2.1,2.1 0 1,0 -4.2,0M136.84,386.09a2.1,2.1 0 1,0 4.2,0a2.1,2.1 0 1,0 -4.2,0M137.9,386.4a2.1,2.1 0 1,0 4.2,0a2.1,2.1 0 1,0 -4.2,0M138.97,386.5a2.1,2.1 0 1,0 4.2,0a2.1,2.1 0 1,0 -4.2,0M140.04,385.69a2.1,2.1 0 1,0 4.2,0a2.1,2.1 0 1,0 -4.2,0M141.1,386.34a2.1,2.1 0 1,0 4.2,0a2.1,2.1 0 1,0 -4.2,0M142.17,386.95a2.1,2.1 0 1,0 4.2,0a2.1,2.1 0 1,0 -4.2,0M143.24,386.08a2.1,2.1 0 1,0 4.2,0a2.1,2.1 0 1,0 -4.2,0M144.31,385.57a2.1,2.1 0 1,0 4.2,0a2.1,2.1 0 1,0 -4.2,0M145.37,386.2a2.1,2.1 0 1,0 4.2,0a2.1,2.1 0 1,0 -4.2,0M146.44,386.12a2.1,2.1 0 1,0 4.2,0a2.1,2.1 0 1,0 -4.2,0M147.51,386.41a2.1,2.1 0 1,0 4.2,0a2.1,2.1 0 1,0 -4.2,0M148.57,385.93a2.1,2.1 0 1,0 4.2,0a2.1,2.1 0 1,0 -4.2,0M149.64,386.25a2.1,2.1 0 1,0 4.2,0a2.1,2.1 0 1,0 -4.2,0M150.71,385.41a2.1,2.1 0 1,0 4.2,0a2.1,2.1 0 1,0 -4.2,0M151.77,386.44a2.1,2.1 0 1,0 4.2,0a2.1,2.1 0 1,0 -4.2,0M152.84,386.65a2.1,2.1 0 1,0 4.2,0a2.1,2.1 0 1,0 -4.2,0M153.91,386.48a2.1,2.1 0 1,0 4.2,0a2.1,2.1 0 1,0 -4.2,0M154.98,385.42a2.1,2.1 0 1,0 4.2,0a2.1,2.1 0 1,0 -4.2,0M156.04,385.97a2.1,2.1 0 1,0 4.2,0a2.1,2.1 0 1,0 -4.2,0M157.11,384.7a2.1,2.1 0 1,0 4.2,0a2.1,2.1 0 1,0 -4.2,0M158.18,385.71a2.1,2.1 0 1,0 4.2,0a2.1,2.1 0 1,0 -4.2,0M159.24,385.41a2.1,2.1 0 1,0 4.2,0a2.1,2.1 0 1,0 -4.2,0M160.31,384.86a2.1,2.1 0 1,0 4.2,0a2.1,2.1 0 1,0 -4.2,0M161.38,385.05a2.1,2.1 0 1,0 4.2,0a2.1,2.1 0 1,0 -4.2,0M162.44,384.63a2.1,2.1 0 1,0 4.2,0a2.1,2.1 0 1,0 -4.2,0M163.51,384.46a2.1,2.1 0 1,0 4.2,0a2.1,2.1 0 1,0 -4.2,0M164.58,383.6a2.1,2.1 0 1,0 4.2,0a2.1,2.1 0 1,0 -4.2,0M165.65,382.92a2.1,2.1 0 1,0 4.2,0a2.1,2.1 0 1,0 -4.2,0M166.71,381.26a2.1,2.1 0 1,0 4.2,0a2.1,2.1 0 1,0 -4.2,0M167.78,380.42a2.1,2.1 0 1,0 4.2,0a2.1,2.1 0 1,0 -4.2,0M168.85,379.29a2.1,2.1 0 1,0 4.2,0a2.1,2.1 0 1,0 -4.2,0M169.91,377.91a2.1,2.1 0 1,0 4.2,0a2.1,2.1 0 1,0 -4.2,0M170.98,375.83a2.1,2.1 0 1,0 4.2,0a2.1,2.1 0 1,0 -4.2,0M172.05,374.05a2.1,2.1 0 1,0 4.2,0a2.1,2.1 0 1,0 -4.2,0M173.11,370.54a2.1,2.1 0 1,0 4.2,0a2.1,2.1 0 1,0 -4.2,0M174.18,367.72a2.1,2.1 0 1,0 4.2,0a2.1,2.1 0 1,0 -4.2,0M175.25,364.51a2.1,2.1 0 1,0 4.2,0a2.1,2.1 0 1,0 -4.2,0M176.32,360.63a2.1,2.1 0 1,0 4.2,0a2.1,2.1 0 1,0 -4.2,0M177.38,356.91a2.1,2.1 0 1,0 4.2,0a2.1,2.1 0 1,0 -4.2,0M178.45,352.38a2.1,2.1 0 1,0 4.2,0a2.1,2.1 0 1,0 -4.2,0M179.52,348.83a2.1,2.1 0 1,0 4.2,0a2.1,2.1 0 1,0 -4.2,0M180.58,344.03a2.1,2.1 0 1,0 4.2,0a2.1,2.1 0 1,0 -4.2,0M181.65,340.53a2.1,2.1 0 1,0 4.2,0a2.1,2.1 0 1,0 -4.2,0M182.72,336.51a2.1,2.1 0 1,0 4.2,0a2.1,2.1 0 1,0 -4.2,0M183.78,333.99a2.1,2.1 0 1,0 4.2,0a2.1,2.1 0 1,0 -4.2,0M184.85,330.68a2.1,2.1 0 1,0 4.2,0a2.1,2.1 0 1,0 -4.2,0M185.92,329.97a2.1,2.1 0 1,0 4.2,0a2.1,2.1 0 1,0 -4.2,0M186.99,329.28a2.1,2.1 0 1,0 4.2,0a2.1,2.1 0 1,0 -4.2,0M188.05,330.22a2.1,2.1 0 1,0 4.2,0a2.1,2.1 0 1,0 -4.2,0M189.12,332.28a2.1,2.1 0 1,0 4.2,0a2.1,2.1 0 1,0 -4.2,0M190.19,334.08a2.1,2.1 0 1,0 4.2,0a2.1,2.1 0 1,0 -4.2,0M191.25,337.35a2.1,2.1 0 1,0 4.2,0a2.1,2.1 0 1,0 -4.2,0M192.32,341.34a2.1,2.1 0 1,0 4.2,0a2.1,2.1 0 1,0 -4.2,0M193.39,345.98a2.1,2.1 0 1,0 4.2,0a2.1,2.1 0 1,0 -4.2,0M194.45,349.61a2.1,2.1 0 1,0 4.2,0a2.1,2.1 0 1,0 -4.2,0M195.52,354.7a2.1,2.1 0 1,0 4.2,0a2.1,2.1 0 1,0 -4.2,0M196.59,358.5a2.1,2.1 0 1,0 4.2,0a2.1,2.1 0 1,0 -4.2,0M197.66,362.62a2.1,2.1 0 1,0 4.2,0a2.1,2.1 0 1,0 -4.2,0M198.72,366.69a2.1,2.1 0 1,0 4.2,0a2.1,2.1 0 1,0 -4.2,0M199.79,370.41a2.1,2.1 0 1,0 4.2,0a2.1,2.1 0 1,0 -4.2,0M200.86,373.16a2.1,2.1 0 1,0 4.2,0a2.1,2.1 0 1,0 -4.2,0M201.92,375.93a2.1,2.1 0 1,0 4.2,0a2.1,2.1 0 1,0 -4.2,0M202.99,378.45a2.1,2.1 0 1,0 4.2,0a2.1,2.1 0 1,0 -4.2,0M204.06,380.39a2.1,2.1 0 1,0 4.2,0a2.1,2.1 0 1,0 -4.2,0M205.12,381.24a2.1,2.1 0 1,0 4.2,0a2.1,2.1 0 1,0 -4.2,0M206.19,383.43a2.1,2.1 0 1,0 4.2,0a2.1,2.1 0 1,0 -4.2,0M207.26,384.77a2.1,2.1 0 1,0 4.2,0a2.1,2.1 0 1,0 -4.2,0M208.33,386.06a2.1,2.1 0 1,0 4.2,0a2.1,2.1 0 1,0 -4.2,0M209.39,387.15a2.1,2.1 0 1,0 4.2,0a2.1,2.1 0 1,0 -4.2,0M210.46,387.28a2.1,2.1 0 1,0 4.2,0a2.1,2.1 0 1,0 -4.2,0M211.53,387.57a2.1,2.1 0 1,0 4.2,0a2.1,2.1 0 1,0 -4.2,0M212.59,387.6a2.1,2.1 0 1,0 4.2,0a2.1,2.1 0 1,0 -4.2,0M213.66,388.29a2.1,2.1 0 1,0 4.2,0a2.1,2.1 0 1,0 -4.2,0M214.73,388.79a2.1,2.1 0 1,0 4.2,0a2.1,2.1 0 1,0 -4.2,0M215.79,389.18a2.1,2.1 0 1,0 4.2,0a2.1,2.1 0 1,0 -4.2,0M216.86,388.61a2.1,2.1 0 1,0 4.2,0a2.1,2.1 0 1,0 -4.2,0M217.93,389.15a2.1,2.1 0 1,0 4.2,0a2.1,2.1 0 1,0 -4.2,0M219,389.49a2.1,2.1 0 1,0 4.2,0a2.1,2.1 0 1,0 -4.2,0M220.06,389.97a2.1,2.1 0 1,0 4.2,0a2.1,2.1 0 1,0 -4.2,0M221.13,389.51a2.1,2.1 0 1,0 4.2,0a2.1,2.1 0 1,0 -4.2,0M222.2,389.32a2.1,2.1 0 1,0 4.2,0a2.1,2.1 0 1,0 -4.2,0M223.26,389.35a2.1,2.1 0 1,0 4.2,0a2.1,2.1 0 1,0 -4.2,0M224.33,389.54a2.1,2.1 0 1,0 4.2,0a2.1,2.1 0 1,0 -4.2,0M225.4,389.51a2.1,2.1 0 1,0 4.2,0a2.1,2.1 0 1,0 -4.2,0M226.46,390.09a2.1,2.1 0 1,0 4.2,0a2.1,2.1 0 1,0 -4.2,0M227.53,390.23a2.1,2.1 0 1,0 4.2,0a2.1,2.1 0 1,0 -4.2,0M228.6,390.17a2.1,2.1 0 1,0 4.2,0a2.1,2.1 0 1,0 -4.2,0M229.67,390.38a2.1,2.1 0 1,0 4.2,0a2.1,2.1 0 1,0 -4.2,0M230.73,389.85a2.1,2.1 0 1,0 4.2,0a2.1,2.1 0 1,0 -4.2,0M231.8,390.19a2.1,2.1 0 1,0 4.2,0a2.1,2.1 0 1,0 -4.2,0M232.87,389.96a2.1,2.1 0 1,0 4.2,0a2.1,2.1 0 1,0 -4.2,0M233.93,390.15a2.1,2.1 0 1,0 4.2,0a2.1,2.1 0 1,0 -4.2,0M235,390.6a2.1,2.1 0 1,0 4.2,0a2.1,2.1 0 1,0 -4.2,0M236.07,390.19a2.1,2.1 0 1,0 4.2,0a2.1,2.1 0 1,0 -4.2,0M237.13,389.58a2.1,2.1 0 1,0 4.2,0a2.1,2.1 0 1,0 -4.2,0M238.2,390.18a2.1,2.1 0 1,0 4.2,0a2.1,2.1 0 1,0 -4.2,0M239.27,390.04a2.1,2.1 0 1,0 4.2,0a2.1,2.1 0 1,0 -4.2,0M240.34,389.79a2.1,2.1 0 1,0 4.2,0a2.1,2.1 0 1,0 -4.2,0M241.4,390.07a2.1,2.1 0 1,0 4.2,0a2.1,2.1 0 1,0 -4.2,0M242.47,390.7a2.1,2.1 0 1,0 4.2,0a2.1,2.1 0 1,0 -4.2,0M243.54,390.98a2.1,2.1 0 1,0 4.2,0a2.1,2.1 0 1,0 -4.2,0M244.6,390.24a2.1,2.1 0 1,0 4.2,0a2.1,2.1 0 1,0 -4.2,0M245.67,390.78a2.1,2.1 0 1,0 4.2,0a2.1,2.1 0 1,0 -4.2,0M246.74,390.86a2.1,2.1 0 1,0 4.2,0a2.1,2.1 0 1,0 -4.2,0M247.8,390.06a2.1,2.1 0 1,0 4.2,0a2.1,2.1 0 1,0 -4.2,0M248.87,390.47a2.1,2.1 0 1,0 4.2,0a2.1,2.1 0 1,0 -4.2,0M249.94,390.48a2.1,2.1 0 1,0 4.2,0a2.1,2.1 0 1,0 -4.2,0M251.01,390.57a2.1,2.1 0 1,0 4.2,0a2.1,2.1 0 1,0 -4.2,0M252.07,389.97a2.1,2.1 0 1,0 4.2,0a2.1,2.1 0 1,0 -4.2,0M253.14,390.42a2.1,2.1 0 1,0 4.2,0a2.1,2.1 0 1,0 -4.2,0M254.21,390.93a2.1,2.1 0 1,0 4.2,0a2.1,2.1 0 1,0 -4.2,0M255.27,391.01a2.1,2.1 0 1,0 4.2,0a2.1,2.1 0 1,0 -4.2,0" fill="none" stroke="#e8606a" stroke-width="0.5"/><path d="M322.5,242V407.7H557.7V242H322.5" fill="none" stroke="#333333" stroke-width="1"/><path d="M322.5,407.7v3.7M369.54,407.7v3.7M416.58,407.7v3.7M463.62,407.7v3.7M510.66,407.7v3.7M557.7,407.7v3.7M346.02,407.7v2.2M393.06,407.7v2.2M440.1,407.7v2.2M487.14,407.7v2.2M534.18,407.7v2.2" stroke="#333333" stroke-width="1" fill="none"/><text x="322.5" y="422.3" font-size="10.7" text-anchor="middle" fill="#111111" >318</text><text x="369.54" y="422.3" font-size="10.7" text-anchor="middle" fill="#111111" >315</text><text x="416.58" y="422.3" font-size="10.7" text-anchor="middle" fill="#111111" >312</text><text x="463.62" y="422.3" font-size="10.7" text-anchor="middle" fill="#111111" >309</text><text x="510.66" y="422.3" font-size="10.7" text-anchor="middle" fill="#111111" >306</text><text x="557.7" y="422.3" font-size="10.7" text-anchor="middle" fill="#111111" >303</text><text x="440.1" y="439.6" font-size="10.7" text-anchor="middle" fill="#111111" >Binding energy (eV)</text><text transform="translate(307.6,319.6) rotate(-90)" font-size="10.7" text-anchor="middle" fill="#111111">Intensity (arb. units)</text><text x="333.4" y="256.2" font-size="10.7" text-anchor="start" fill="#111111" >Rh 3<tspan font-style="italic">d</tspan></text><text x="553.2" y="256" font-size="10.7" text-anchor="end" fill="#3d84c6" >Rh/In<tspan font-size="7" dy="2.6">2</tspan><tspan dy="-2.6">O</tspan><tspan font-size="7" dy="2.6">3</tspan></text><text x="445.3" y="271.7" font-size="10.7" text-anchor="start" fill="#111111" >Rh<tspan font-size="6.3" dy="-4.2">3+</tspan><tspan dy="4.2"> 3</tspan><tspan font-style="italic">d</tspan><tspan font-size="6.3" dy="3.4">5/2</tspan></text><text x="369.1" y="322.5" font-size="10.7" text-anchor="start" fill="#111111" >Rh<tspan font-size="6.3" dy="-4.0">3+</tspan><tspan dy="4.0"> 3</tspan><tspan font-style="italic">d</tspan><tspan font-size="6.3" dy="3.6">3/2</tspan></text><path d="M322.5,378.62L323,378.62L323.5,378.62L324,378.62L324.5,378.62L325,378.62L325.5,378.62L326,378.62L326.5,378.62L327,378.62L327.5,378.62L328,378.63L328.5,378.63L329,378.63L329.5,378.63L330,378.63L330.5,378.63L331,378.63L331.5,378.63L332,378.63L332.5,378.64L333,378.64L333.5,378.64L334,378.64L334.5,378.64L335,378.64L335.5,378.64L336,378.65L336.5,378.65L337,378.65L337.5,378.65L338,378.65L338.5,378.65L339,378.66L339.5,378.66L340,378.66L340.5,378.66L341,378.66L341.5,378.67L342,378.67L342.5,378.67L343,378.67L343.5,378.68L344,378.68L344.5,378.68L345,378.69L345.5,378.69L346,378.69L346.5,378.7L347,378.7L347.5,378.7L348,378.71L348.5,378.71L349,378.71L349.5,378.72L350,378.72L350.5,378.73L351,378.73L351.5,378.74L352,378.74L352.5,378.74L353,378.75L353.5,378.76L354,378.76L354.5,378.77L355,378.77L355.5,378.78L356,378.78L356.5,378.79L357,378.8L357.5,378.8L358,378.81L358.5,378.82L359,378.83L359.5,378.83L360,378.84L360.5,378.85L361,378.86L361.5,378.87L362,378.88L362.5,378.89L363,378.9L363.5,378.91L364,378.92L364.5,378.93L365,378.94L365.5,378.95L366,378.96L366.5,378.97L367,378.99L367.5,379L368,379.01L368.5,379.03L369,379.04L369.5,379.05L370,379.07L370.5,379.08L371,379.1L371.5,379.12L372,379.13L372.5,379.15L373,379.17L373.5,379.18L374,379.2L374.5,379.22L375,379.24L375.5,379.26L376,379.28L376.5,379.3L377,379.32L377.5,379.34L378,379.37L378.5,379.39L379,379.41L379.5,379.44L380,379.46L380.5,379.48L381,379.51L381.5,379.54L382,379.56L382.5,379.59L383,379.62L383.5,379.64L384,379.67L384.5,379.7L385,379.73L385.5,379.76L386,379.79L386.5,379.82L387,379.85L387.5,379.88L388,379.91L388.5,379.95L389,379.98L389.5,380.01L390,380.04L390.5,380.08L391,380.11L391.5,380.15L392,380.18L392.5,380.22L393,380.25L393.5,380.29L394,380.32L394.5,380.36L395,380.39L395.5,380.43L396,380.47L396.5,380.5L397,380.54L397.5,380.57L398,380.61L398.5,380.65L399,380.68L399.5,380.72L400,380.76L400.5,380.79L401,380.83L401.5,380.87L402,380.9L402.5,380.94L403,380.97L403.5,381.01L404,381.05L404.5,381.08L405,381.12L405.5,381.15L406,381.18L406.5,381.22L407,381.25L407.5,381.29L408,381.32L408.5,381.35L409,381.38L409.5,381.42L410,381.45L410.5,381.48L411,381.51L411.5,381.54L412,381.57L412.5,381.6L413,381.63L413.5,381.66L414,381.69L414.5,381.72L415,381.74L415.5,381.77L416,381.8L416.5,381.82L417,381.85L417.5,381.88L418,381.9L418.5,381.93L419,381.95L419.5,381.98L420,382L420.5,382.02L421,382.05L421.5,382.07L422,382.09L422.5,382.11L423,382.14L423.5,382.16L424,382.18L424.5,382.2L425,382.22L425.5,382.24L426,382.26L426.5,382.28L427,382.31L427.5,382.33L428,382.35L428.5,382.37L429,382.39L429.5,382.41L430,382.43L430.5,382.45L431,382.47L431.5,382.49L432,382.51L432.5,382.53L433,382.55L433.5,382.57L434,382.59L434.5,382.61L435,382.63L435.5,382.65L436,382.67L436.5,382.69L437,382.71L437.5,382.74L438,382.76L438.5,382.78L439,382.81L439.5,382.83L440,382.85L440.5,382.88L441,382.9L441.5,382.93L442,382.96L442.5,382.98L443,383.01L443.5,383.04L444,383.07L444.5,383.1L445,383.13L445.5,383.16L446,383.2L446.5,383.23L447,383.26L447.5,383.3L448,383.34L448.5,383.37L449,383.41L449.5,383.45L450,383.49L450.5,383.53L451,383.58L451.5,383.62L452,383.67L452.5,383.71L453,383.76L453.5,383.81L454,383.86L454.5,383.92L455,383.97L455.5,384.02L456,384.08L456.5,384.14L457,384.2L457.5,384.26L458,384.32L458.5,384.39L459,384.45L459.5,384.52L460,384.59L460.5,384.66L461,384.73L461.5,384.8L462,384.87L462.5,384.95L463,385.02L463.5,385.1L464,385.18L464.5,385.26L465,385.34L465.5,385.43L466,385.51L466.5,385.59L467,385.68L467.5,385.77L468,385.85L468.5,385.94L469,386.03L469.5,386.12L470,386.21L470.5,386.3L471,386.39L471.5,386.48L472,386.57L472.5,386.66L473,386.75L473.5,386.85L474,386.94L474.5,387.03L475,387.12L475.5,387.21L476,387.3L476.5,387.38L477,387.47L477.5,387.56L478,387.65L478.5,387.73L479,387.82L479.5,387.9L480,387.98L480.5,388.06L481,388.14L481.5,388.22L482,388.3L482.5,388.38L483,388.45L483.5,388.52L484,388.6L484.5,388.67L485,388.73L485.5,388.8L486,388.87L486.5,388.93L487,389L487.5,389.06L488,389.12L488.5,389.17L489,389.23L489.5,389.29L490,389.34L490.5,389.39L491,389.44L491.5,389.49L492,389.54L492.5,389.59L493,389.63L493.5,389.68L494,389.72L494.5,389.76L495,389.8L495.5,389.84L496,389.87L496.5,389.91L497,389.94L497.5,389.98L498,390.01L498.5,390.04L499,390.07L499.5,390.1L500,390.13L500.5,390.15L501,390.18L501.5,390.2L502,390.23L502.5,390.25L503,390.27L503.5,390.29L504,390.31L504.5,390.33L505,390.35L505.5,390.37L506,390.39L506.5,390.41L507,390.42L507.5,390.44L508,390.45L508.5,390.47L509,390.48L509.5,390.49L510,390.51L510.5,390.52L511,390.53L511.5,390.54L512,390.55L512.5,390.56L513,390.57L513.5,390.58L514,390.59L514.5,390.6L515,390.61L515.5,390.62L516,390.62L516.5,390.63L517,390.64L517.5,390.65L518,390.65L518.5,390.66L519,390.66L519.5,390.67L520,390.68L520.5,390.68L521,390.69L521.5,390.69L522,390.7L522.5,390.7L523,390.7L523.5,390.71L524,390.71L524.5,390.72L525,390.72L525.5,390.72L526,390.73L526.5,390.73L527,390.73L527.5,390.74L528,390.74L528.5,390.74L529,390.74L529.5,390.75L530,390.75L530.5,390.75L531,390.75L531.5,390.75L532,390.76L532.5,390.76L533,390.76L533.5,390.76L534,390.76L534.5,390.77L535,390.77L535.5,390.77L536,390.77L536.5,390.77L537,390.77L537.5,390.77L538,390.77L538.5,390.78L539,390.78L539.5,390.78L540,390.78L540.5,390.78L541,390.78L541.5,390.78L542,390.78L542.5,390.78L543,390.78L543.5,390.78L544,390.78L544.5,390.79L545,390.79L545.5,390.79L546,390.79L546.5,390.79L547,390.79L547.5,390.79L548,390.79L548.5,390.79L549,390.79L549.5,390.79L550,390.79L550.5,390.79L551,390.79L551.5,390.79L552,390.79L552.5,390.79L553,390.79L553.5,390.79L554,390.79L554.5,390.79L555,390.79L555.5,390.79L556,390.79L556.5,390.79L557,390.8L557.5,390.8" fill="none" stroke="#b4b4b4" stroke-width="1"/><path d="M321.6,383.11a2.4,2.4 0 1,0 4.8,0a2.4,2.4 0 1,0 -4.8,0M324.7,376.61a2.4,2.4 0 1,0 4.8,0a2.4,2.4 0 1,0 -4.8,0M327.8,378.07a2.4,2.4 0 1,0 4.8,0a2.4,2.4 0 1,0 -4.8,0M330.9,379.16a2.4,2.4 0 1,0 4.8,0a2.4,2.4 0 1,0 -4.8,0M334,375.53a2.4,2.4 0 1,0 4.8,0a2.4,2.4 0 1,0 -4.8,0M337.1,377.86a2.4,2.4 0 1,0 4.8,0a2.4,2.4 0 1,0 -4.8,0M340.2,377.79a2.4,2.4 0 1,0 4.8,0a2.4,2.4 0 1,0 -4.8,0M343.3,372.45a2.4,2.4 0 1,0 4.8,0a2.4,2.4 0 1,0 -4.8,0M346.4,380.67a2.4,2.4 0 1,0 4.8,0a2.4,2.4 0 1,0 -4.8,0M349.5,379.26a2.4,2.4 0 1,0 4.8,0a2.4,2.4 0 1,0 -4.8,0M352.6,375.32a2.4,2.4 0 1,0 4.8,0a2.4,2.4 0 1,0 -4.8,0M355.7,376.27a2.4,2.4 0 1,0 4.8,0a2.4,2.4 0 1,0 -4.8,0M358.8,377.62a2.4,2.4 0 1,0 4.8,0a2.4,2.4 0 1,0 -4.8,0M361.9,374.26a2.4,2.4 0 1,0 4.8,0a2.4,2.4 0 1,0 -4.8,0M365,372.71a2.4,2.4 0 1,0 4.8,0a2.4,2.4 0 1,0 -4.8,0M368.1,366.77a2.4,2.4 0 1,0 4.8,0a2.4,2.4 0 1,0 -4.8,0M371.2,369.63a2.4,2.4 0 1,0 4.8,0a2.4,2.4 0 1,0 -4.8,0M374.3,364.26a2.4,2.4 0 1,0 4.8,0a2.4,2.4 0 1,0 -4.8,0M377.4,359.77a2.4,2.4 0 1,0 4.8,0a2.4,2.4 0 1,0 -4.8,0M380.5,348.78a2.4,2.4 0 1,0 4.8,0a2.4,2.4 0 1,0 -4.8,0M383.6,352.49a2.4,2.4 0 1,0 4.8,0a2.4,2.4 0 1,0 -4.8,0M386.7,342.49a2.4,2.4 0 1,0 4.8,0a2.4,2.4 0 1,0 -4.8,0M389.8,336.35a2.4,2.4 0 1,0 4.8,0a2.4,2.4 0 1,0 -4.8,0M392.9,340.72a2.4,2.4 0 1,0 4.8,0a2.4,2.4 0 1,0 -4.8,0M396,333.77a2.4,2.4 0 1,0 4.8,0a2.4,2.4 0 1,0 -4.8,0M399.1,331.12a2.4,2.4 0 1,0 4.8,0a2.4,2.4 0 1,0 -4.8,0M402.2,337.84a2.4,2.4 0 1,0 4.8,0a2.4,2.4 0 1,0 -4.8,0M405.3,337.24a2.4,2.4 0 1,0 4.8,0a2.4,2.4 0 1,0 -4.8,0M408.4,353.07a2.4,2.4 0 1,0 4.8,0a2.4,2.4 0 1,0 -4.8,0M411.5,354.6a2.4,2.4 0 1,0 4.8,0a2.4,2.4 0 1,0 -4.8,0M414.6,359.12a2.4,2.4 0 1,0 4.8,0a2.4,2.4 0 1,0 -4.8,0M417.7,369.29a2.4,2.4 0 1,0 4.8,0a2.4,2.4 0 1,0 -4.8,0M420.8,364.87a2.4,2.4 0 1,0 4.8,0a2.4,2.4 0 1,0 -4.8,0M423.9,374.2a2.4,2.4 0 1,0 4.8,0a2.4,2.4 0 1,0 -4.8,0M427,368.24a2.4,2.4 0 1,0 4.8,0a2.4,2.4 0 1,0 -4.8,0M430.1,373.47a2.4,2.4 0 1,0 4.8,0a2.4,2.4 0 1,0 -4.8,0M433.2,372.14a2.4,2.4 0 1,0 4.8,0a2.4,2.4 0 1,0 -4.8,0M436.3,379.71a2.4,2.4 0 1,0 4.8,0a2.4,2.4 0 1,0 -4.8,0M439.4,379.35a2.4,2.4 0 1,0 4.8,0a2.4,2.4 0 1,0 -4.8,0M442.5,370.69a2.4,2.4 0 1,0 4.8,0a2.4,2.4 0 1,0 -4.8,0M445.6,370.29a2.4,2.4 0 1,0 4.8,0a2.4,2.4 0 1,0 -4.8,0M448.7,361.31a2.4,2.4 0 1,0 4.8,0a2.4,2.4 0 1,0 -4.8,0M451.8,355.2a2.4,2.4 0 1,0 4.8,0a2.4,2.4 0 1,0 -4.8,0M454.9,340.28a2.4,2.4 0 1,0 4.8,0a2.4,2.4 0 1,0 -4.8,0M458,324.2a2.4,2.4 0 1,0 4.8,0a2.4,2.4 0 1,0 -4.8,0M461.1,309.5a2.4,2.4 0 1,0 4.8,0a2.4,2.4 0 1,0 -4.8,0M464.2,302.45a2.4,2.4 0 1,0 4.8,0a2.4,2.4 0 1,0 -4.8,0M467.3,298.2a2.4,2.4 0 1,0 4.8,0a2.4,2.4 0 1,0 -4.8,0M470.4,289.29a2.4,2.4 0 1,0 4.8,0a2.4,2.4 0 1,0 -4.8,0M473.5,292.07a2.4,2.4 0 1,0 4.8,0a2.4,2.4 0 1,0 -4.8,0M476.6,311.01a2.4,2.4 0 1,0 4.8,0a2.4,2.4 0 1,0 -4.8,0M479.7,320.89a2.4,2.4 0 1,0 4.8,0a2.4,2.4 0 1,0 -4.8,0M482.8,335.78a2.4,2.4 0 1,0 4.8,0a2.4,2.4 0 1,0 -4.8,0M485.9,350.04a2.4,2.4 0 1,0 4.8,0a2.4,2.4 0 1,0 -4.8,0M489,360.25a2.4,2.4 0 1,0 4.8,0a2.4,2.4 0 1,0 -4.8,0M492.1,368.39a2.4,2.4 0 1,0 4.8,0a2.4,2.4 0 1,0 -4.8,0M495.2,371.22a2.4,2.4 0 1,0 4.8,0a2.4,2.4 0 1,0 -4.8,0M498.3,381.26a2.4,2.4 0 1,0 4.8,0a2.4,2.4 0 1,0 -4.8,0M501.4,382.26a2.4,2.4 0 1,0 4.8,0a2.4,2.4 0 1,0 -4.8,0M504.5,387.95a2.4,2.4 0 1,0 4.8,0a2.4,2.4 0 1,0 -4.8,0M507.6,384.48a2.4,2.4 0 1,0 4.8,0a2.4,2.4 0 1,0 -4.8,0M510.7,380.71a2.4,2.4 0 1,0 4.8,0a2.4,2.4 0 1,0 -4.8,0M513.8,386.75a2.4,2.4 0 1,0 4.8,0a2.4,2.4 0 1,0 -4.8,0M516.9,392.63a2.4,2.4 0 1,0 4.8,0a2.4,2.4 0 1,0 -4.8,0M520,386.77a2.4,2.4 0 1,0 4.8,0a2.4,2.4 0 1,0 -4.8,0M523.1,385.57a2.4,2.4 0 1,0 4.8,0a2.4,2.4 0 1,0 -4.8,0M526.2,384.92a2.4,2.4 0 1,0 4.8,0a2.4,2.4 0 1,0 -4.8,0M529.3,385.58a2.4,2.4 0 1,0 4.8,0a2.4,2.4 0 1,0 -4.8,0M532.4,388.02a2.4,2.4 0 1,0 4.8,0a2.4,2.4 0 1,0 -4.8,0M535.5,385.55a2.4,2.4 0 1,0 4.8,0a2.4,2.4 0 1,0 -4.8,0M538.6,393.73a2.4,2.4 0 1,0 4.8,0a2.4,2.4 0 1,0 -4.8,0M541.7,388.52a2.4,2.4 0 1,0 4.8,0a2.4,2.4 0 1,0 -4.8,0M544.8,389.81a2.4,2.4 0 1,0 4.8,0a2.4,2.4 0 1,0 -4.8,0M547.9,393.89a2.4,2.4 0 1,0 4.8,0a2.4,2.4 0 1,0 -4.8,0M551,394.18a2.4,2.4 0 1,0 4.8,0a2.4,2.4 0 1,0 -4.8,0M554.1,389.11a2.4,2.4 0 1,0 4.8,0a2.4,2.4 0 1,0 -4.8,0" fill="none" stroke="#c2c2c2" stroke-width="0.8"/><path d="M322.5,378.05L323,378.05L323.5,378.04L324,378.04L324.5,378.03L325,378.03L325.5,378.02L326,378.02L326.5,378.01L327,378.01L327.5,378L328,378L328.5,377.99L329,377.99L329.5,377.98L330,377.98L330.5,377.97L331,377.97L331.5,377.96L332,377.95L332.5,377.95L333,377.94L333.5,377.94L334,377.93L334.5,377.92L335,377.92L335.5,377.91L336,377.9L336.5,377.9L337,377.89L337.5,377.88L338,377.87L338.5,377.87L339,377.86L339.5,377.85L340,377.84L340.5,377.83L341,377.82L341.5,377.81L342,377.81L342.5,377.8L343,377.78L343.5,377.77L344,377.76L344.5,377.75L345,377.74L345.5,377.72L346,377.71L346.5,377.7L347,377.68L347.5,377.66L348,377.65L348.5,377.63L349,377.61L349.5,377.58L350,377.56L350.5,377.54L351,377.51L351.5,377.48L352,377.45L352.5,377.42L353,377.38L353.5,377.34L354,377.3L354.5,377.25L355,377.2L355.5,377.15L356,377.09L356.5,377.02L357,376.95L357.5,376.88L358,376.8L358.5,376.71L359,376.62L359.5,376.52L360,376.41L360.5,376.29L361,376.16L361.5,376.02L362,375.88L362.5,375.72L363,375.55L363.5,375.37L364,375.17L364.5,374.96L365,374.74L365.5,374.5L366,374.24L366.5,373.97L367,373.68L367.5,373.38L368,373.05L368.5,372.71L369,372.34L369.5,371.96L370,371.55L370.5,371.13L371,370.68L371.5,370.2L372,369.71L372.5,369.19L373,368.65L373.5,368.08L374,367.49L374.5,366.88L375,366.24L375.5,365.57L376,364.89L376.5,364.18L377,363.44L377.5,362.69L378,361.91L378.5,361.11L379,360.29L379.5,359.46L380,358.6L380.5,357.73L381,356.84L381.5,355.94L382,355.03L382.5,354.11L383,353.18L383.5,352.24L384,351.3L384.5,350.35L385,349.41L385.5,348.47L386,347.54L386.5,346.61L387,345.69L387.5,344.79L388,343.91L388.5,343.04L389,342.19L389.5,341.38L390,340.58L390.5,339.82L391,339.1L391.5,338.41L392,337.76L392.5,337.15L393,336.58L393.5,336.07L394,335.6L394.5,335.18L395,334.82L395.5,334.52L396,334.27L396.5,334.08L397,333.95L397.5,333.88L398,333.87L398.5,333.92L399,334.03L399.5,334.2L400,334.43L400.5,334.72L401,335.07L401.5,335.47L402,335.92L402.5,336.43L403,336.98L403.5,337.58L404,338.23L404.5,338.92L405,339.64L405.5,340.4L406,341.2L406.5,342.02L407,342.87L407.5,343.75L408,344.65L408.5,345.56L409,346.49L409.5,347.43L410,348.38L410.5,349.34L411,350.31L411.5,351.27L412,352.23L412.5,353.19L413,354.15L413.5,355.1L414,356.03L414.5,356.96L415,357.87L415.5,358.77L416,359.65L416.5,360.51L417,361.35L417.5,362.17L418,362.97L418.5,363.75L419,364.5L419.5,365.23L420,365.93L420.5,366.61L421,367.26L421.5,367.89L422,368.49L422.5,369.07L423,369.62L423.5,370.14L424,370.63L424.5,371.11L425,371.55L425.5,371.97L426,372.37L426.5,372.74L427,373.08L427.5,373.41L428,373.71L428.5,373.99L429,374.24L429.5,374.48L430,374.69L430.5,374.88L431,375.05L431.5,375.21L432,375.34L432.5,375.45L433,375.55L433.5,375.63L434,375.69L434.5,375.73L435,375.75L435.5,375.75L436,375.74L436.5,375.7L437,375.65L437.5,375.58L438,375.49L438.5,375.37L439,375.24L439.5,375.08L440,374.9L440.5,374.7L441,374.47L441.5,374.22L442,373.94L442.5,373.63L443,373.28L443.5,372.91L444,372.5L444.5,372.06L445,371.57L445.5,371.05L446,370.49L446.5,369.88L447,369.23L447.5,368.52L448,367.77L448.5,366.97L449,366.11L449.5,365.19L450,364.21L450.5,363.18L451,362.08L451.5,360.92L452,359.69L452.5,358.4L453,357.04L453.5,355.61L454,354.11L454.5,352.55L455,350.91L455.5,349.21L456,347.44L456.5,345.61L457,343.71L457.5,341.75L458,339.73L458.5,337.65L459,335.52L459.5,333.34L460,331.12L460.5,328.87L461,326.58L461.5,324.26L462,321.93L462.5,319.59L463,317.24L463.5,314.91L464,312.59L464.5,310.31L465,308.06L465.5,305.87L466,303.75L466.5,301.7L467,299.75L467.5,297.91L468,296.19L468.5,294.61L469,293.18L469.5,291.92L470,290.83L470.5,289.94L471,289.24L471.5,288.75L472,288.47L472.5,288.41L473,288.57L473.5,288.95L474,289.54L474.5,290.35L475,291.35L475.5,292.55L476,293.93L476.5,295.48L477,297.18L477.5,299.03L478,301L478.5,303.09L479,305.27L479.5,307.54L480,309.88L480.5,312.28L481,314.72L481.5,317.19L482,319.68L482.5,322.18L483,324.68L483.5,327.17L484,329.65L484.5,332.1L485,334.52L485.5,336.9L486,339.23L486.5,341.52L487,343.75L487.5,345.93L488,348.05L488.5,350.1L489,352.08L489.5,354L490,355.85L490.5,357.63L491,359.33L491.5,360.97L492,362.54L492.5,364.03L493,365.45L493.5,366.81L494,368.1L494.5,369.32L495,370.48L495.5,371.57L496,372.61L496.5,373.58L497,374.5L497.5,375.36L498,376.17L498.5,376.94L499,377.65L499.5,378.32L500,378.95L500.5,379.53L501,380.08L501.5,380.59L502,381.07L502.5,381.52L503,381.93L503.5,382.32L504,382.69L504.5,383.03L505,383.34L505.5,383.64L506,383.91L506.5,384.17L507,384.42L507.5,384.64L508,384.85L508.5,385.05L509,385.24L509.5,385.42L510,385.58L510.5,385.74L511,385.89L511.5,386.03L512,386.16L512.5,386.29L513,386.41L513.5,386.52L514,386.63L514.5,386.73L515,386.83L515.5,386.93L516,387.02L516.5,387.1L517,387.19L517.5,387.27L518,387.34L518.5,387.42L519,387.49L519.5,387.56L520,387.63L520.5,387.69L521,387.75L521.5,387.81L522,387.87L522.5,387.93L523,387.98L523.5,388.04L524,388.09L524.5,388.14L525,388.19L525.5,388.23L526,388.28L526.5,388.33L527,388.37L527.5,388.41L528,388.45L528.5,388.49L529,388.53L529.5,388.57L530,388.61L530.5,388.65L531,388.68L531.5,388.72L532,388.75L532.5,388.78L533,388.81L533.5,388.85L534,388.88L534.5,388.91L535,388.94L535.5,388.96L536,388.99L536.5,389.02L537,389.05L537.5,389.07L538,389.1L538.5,389.12L539,389.15L539.5,389.17L540,389.19L540.5,389.22L541,389.24L541.5,389.26L542,389.28L542.5,389.3L543,389.32L543.5,389.34L544,389.36L544.5,389.38L545,389.4L545.5,389.42L546,389.44L546.5,389.46L547,389.47L547.5,389.49L548,389.51L548.5,389.52L549,389.54L549.5,389.55L550,389.57L550.5,389.59L551,389.6L551.5,389.61L552,389.63L552.5,389.64L553,389.66L553.5,389.67L554,389.68L554.5,389.7L555,389.71L555.5,389.72L556,389.73L556.5,389.75L557,389.76L557.5,389.77" fill="none" stroke="#2b68ab" stroke-width="1.4"/><path d="M322.5,378.37L323,378.37L323.5,378.36L324,378.36L324.5,378.36L325,378.36L325.5,378.35L326,378.35L326.5,378.35L327,378.34L327.5,378.34L328,378.34L328.5,378.33L329,378.33L329.5,378.33L330,378.33L330.5,378.32L331,378.32L331.5,378.32L332,378.31L332.5,378.31L333,378.31L333.5,378.3L334,378.3L334.5,378.29L335,378.29L335.5,378.29L336,378.28L336.5,378.28L337,378.27L337.5,378.27L338,378.26L338.5,378.26L339,378.25L339.5,378.25L340,378.24L340.5,378.24L341,378.23L341.5,378.23L342,378.22L342.5,378.21L343,378.21L343.5,378.2L344,378.19L344.5,378.18L345,378.17L345.5,378.16L346,378.15L346.5,378.14L347,378.13L347.5,378.11L348,378.1L348.5,378.09L349,378.07L349.5,378.05L350,378.03L350.5,378.01L351,377.99L351.5,377.96L352,377.93L352.5,377.9L353,377.87L353.5,377.84L354,377.8L354.5,377.76L355,377.71L355.5,377.66L356,377.61L356.5,377.55L357,377.48L357.5,377.41L358,377.34L358.5,377.25L359,377.16L359.5,377.07L360,376.96L360.5,376.85L361,376.73L361.5,376.59L362,376.45L362.5,376.3L363,376.13L363.5,375.96L364,375.77L364.5,375.56L365,375.34L365.5,375.11L366,374.86L366.5,374.6L367,374.31L367.5,374.01L368,373.7L368.5,373.36L369,373L369.5,372.62L370,372.22L370.5,371.8L371,371.36L371.5,370.89L372,370.4L372.5,369.89L373,369.35L373.5,368.8L374,368.21L374.5,367.6L375,366.97L375.5,366.32L376,365.64L376.5,364.94L377,364.21L377.5,363.46L378,362.69L378.5,361.9L379,361.09L379.5,360.26L380,359.42L380.5,358.55L381,357.68L381.5,356.79L382,355.88L382.5,354.97L383,354.05L383.5,353.12L384,352.19L384.5,351.25L385,350.32L385.5,349.39L386,348.47L386.5,347.55L387,346.65L387.5,345.75L388,344.88L388.5,344.02L389,343.19L389.5,342.38L390,341.6L390.5,340.85L391,340.14L391.5,339.46L392,338.82L392.5,338.23L393,337.68L393.5,337.18L394,336.72L394.5,336.32L395,335.97L395.5,335.68L396,335.45L396.5,335.28L397,335.16L397.5,335.11L398,335.11L398.5,335.18L399,335.31L399.5,335.49L400,335.74L400.5,336.05L401,336.41L401.5,336.83L402,337.3L402.5,337.83L403,338.4L403.5,339.02L404,339.69L404.5,340.4L405,341.14L405.5,341.93L406,342.74L406.5,343.59L407,344.47L407.5,345.37L408,346.29L408.5,347.23L409,348.18L409.5,349.15L410,350.13L410.5,351.11L411,352.1L411.5,353.09L412,354.09L412.5,355.08L413,356.06L413.5,357.04L414,358.01L414.5,358.97L415,359.91L415.5,360.84L416,361.76L416.5,362.65L417,363.53L417.5,364.39L418,365.23L418.5,366.05L419,366.84L419.5,367.61L420,368.36L420.5,369.08L421,369.78L421.5,370.45L422,371.1L422.5,371.73L423,372.32L423.5,372.9L424,373.45L424.5,373.98L425,374.48L425.5,374.96L426,375.42L426.5,375.85L427,376.26L427.5,376.66L428,377.03L428.5,377.38L429,377.71L429.5,378.03L430,378.33L430.5,378.61L431,378.87L431.5,379.12L432,379.35L432.5,379.58L433,379.78L433.5,379.98L434,380.16L434.5,380.33L435,380.5L435.5,380.65L436,380.79L436.5,380.93L437,381.05L437.5,381.17L438,381.28L438.5,381.39L439,381.49L439.5,381.58L440,381.67L440.5,381.76L441,381.84L441.5,381.92L442,381.99L442.5,382.07L443,382.13L443.5,382.2L444,382.26L444.5,382.33L445,382.39L445.5,382.45L446,382.5L446.5,382.56L447,382.62L447.5,382.67L448,382.73L448.5,382.79L449,382.84L449.5,382.9L450,382.95L450.5,383.01L451,383.06L451.5,383.12L452,383.18L452.5,383.23L453,383.29L453.5,383.35L454,383.41L454.5,383.47L455,383.54L455.5,383.6L456,383.66L456.5,383.73L457,383.8L457.5,383.86L458,383.93L458.5,384L459,384.08L459.5,384.15L460,384.22L460.5,384.3L461,384.37L461.5,384.45L462,384.53L462.5,384.61L463,384.69L463.5,384.78L464,384.86L464.5,384.95L465,385.03L465.5,385.12L466,385.21L466.5,385.3L467,385.38L467.5,385.48L468,385.57L468.5,385.66L469,385.75L469.5,385.84L470,385.94L470.5,386.03L471,386.13L471.5,386.22L472,386.31L472.5,386.41L473,386.5L473.5,386.6L474,386.69L474.5,386.78L475,386.88L475.5,386.97L476,387.06L476.5,387.15L477,387.24L477.5,387.33L478,387.42L478.5,387.51L479,387.6L479.5,387.68L480,387.77L480.5,387.85L481,387.94L481.5,388.02L482,388.1L482.5,388.17L483,388.25L483.5,388.33L484,388.4L484.5,388.47L485,388.55L485.5,388.61L486,388.68L486.5,388.75L487,388.81L487.5,388.88L488,388.94L488.5,389L489,389.06L489.5,389.11L490,389.17L490.5,389.22L491,389.28L491.5,389.33L492,389.38L492.5,389.43L493,389.47L493.5,389.52L494,389.56L494.5,389.6L495,389.64L495.5,389.68L496,389.72L496.5,389.76L497,389.8L497.5,389.83L498,389.86L498.5,389.9L499,389.93L499.5,389.96L500,389.99L500.5,390.01L501,390.04L501.5,390.07L502,390.09L502.5,390.12L503,390.14L503.5,390.16L504,390.18L504.5,390.21L505,390.23L505.5,390.25L506,390.26L506.5,390.28L507,390.3L507.5,390.32L508,390.33L508.5,390.35L509,390.36L509.5,390.38L510,390.39L510.5,390.4L511,390.42L511.5,390.43L512,390.44L512.5,390.45L513,390.46L513.5,390.47L514,390.48L514.5,390.49L515,390.5L515.5,390.51L516,390.52L516.5,390.53L517,390.54L517.5,390.54L518,390.55L518.5,390.56L519,390.56L519.5,390.57L520,390.58L520.5,390.58L521,390.59L521.5,390.6L522,390.6L522.5,390.61L523,390.61L523.5,390.62L524,390.62L524.5,390.62L525,390.63L525.5,390.63L526,390.64L526.5,390.64L527,390.64L527.5,390.65L528,390.65L528.5,390.65L529,390.66L529.5,390.66L530,390.66L530.5,390.67L531,390.67L531.5,390.67L532,390.67L532.5,390.68L533,390.68L533.5,390.68L534,390.68L534.5,390.69L535,390.69L535.5,390.69L536,390.69L536.5,390.69L537,390.7L537.5,390.7L538,390.7L538.5,390.7L539,390.7L539.5,390.7L540,390.71L540.5,390.71L541,390.71L541.5,390.71L542,390.71L542.5,390.71L543,390.71L543.5,390.71L544,390.72L544.5,390.72L545,390.72L545.5,390.72L546,390.72L546.5,390.72L547,390.72L547.5,390.72L548,390.72L548.5,390.72L549,390.73L549.5,390.73L550,390.73L550.5,390.73L551,390.73L551.5,390.73L552,390.73L552.5,390.73L553,390.73L553.5,390.73L554,390.73L554.5,390.73L555,390.73L555.5,390.74L556,390.74L556.5,390.74L557,390.74L557.5,390.74" fill="none" stroke="#7dbde9" stroke-width="1.1"/><path d="M322.5,378.3L323,378.3L323.5,378.3L324,378.3L324.5,378.3L325,378.3L325.5,378.29L326,378.29L326.5,378.29L327,378.29L327.5,378.29L328,378.29L328.5,378.29L329,378.28L329.5,378.28L330,378.28L330.5,378.28L331,378.28L331.5,378.28L332,378.28L332.5,378.27L333,378.27L333.5,378.27L334,378.27L334.5,378.27L335,378.27L335.5,378.27L336,378.27L336.5,378.26L337,378.26L337.5,378.26L338,378.26L338.5,378.26L339,378.26L339.5,378.26L340,378.26L340.5,378.26L341,378.26L341.5,378.26L342,378.25L342.5,378.25L343,378.25L343.5,378.25L344,378.25L344.5,378.25L345,378.25L345.5,378.25L346,378.25L346.5,378.25L347,378.25L347.5,378.25L348,378.25L348.5,378.25L349,378.25L349.5,378.25L350,378.25L350.5,378.25L351,378.25L351.5,378.25L352,378.25L352.5,378.26L353,378.26L353.5,378.26L354,378.26L354.5,378.26L355,378.26L355.5,378.26L356,378.27L356.5,378.27L357,378.27L357.5,378.27L358,378.28L358.5,378.28L359,378.28L359.5,378.28L360,378.29L360.5,378.29L361,378.29L361.5,378.3L362,378.3L362.5,378.31L363,378.31L363.5,378.32L364,378.32L364.5,378.33L365,378.33L365.5,378.34L366,378.34L366.5,378.35L367,378.36L367.5,378.36L368,378.37L368.5,378.38L369,378.39L369.5,378.39L370,378.4L370.5,378.41L371,378.42L371.5,378.43L372,378.44L372.5,378.45L373,378.46L373.5,378.47L374,378.48L374.5,378.49L375,378.5L375.5,378.52L376,378.53L376.5,378.54L377,378.56L377.5,378.57L378,378.58L378.5,378.6L379,378.61L379.5,378.63L380,378.64L380.5,378.66L381,378.68L381.5,378.69L382,378.71L382.5,378.73L383,378.75L383.5,378.76L384,378.78L384.5,378.8L385,378.82L385.5,378.84L386,378.86L386.5,378.88L387,378.9L387.5,378.92L388,378.94L388.5,378.96L389,378.98L389.5,379L390,379.02L390.5,379.05L391,379.07L391.5,379.09L392,379.11L392.5,379.13L393,379.15L393.5,379.18L394,379.2L394.5,379.22L395,379.24L395.5,379.26L396,379.28L396.5,379.31L397,379.33L397.5,379.35L398,379.37L398.5,379.39L399,379.41L399.5,379.43L400,379.45L400.5,379.47L401,379.48L401.5,379.5L402,379.52L402.5,379.54L403,379.55L403.5,379.57L404,379.58L404.5,379.6L405,379.61L405.5,379.63L406,379.64L406.5,379.65L407,379.66L407.5,379.67L408,379.68L408.5,379.69L409,379.69L409.5,379.7L410,379.71L410.5,379.71L411,379.71L411.5,379.72L412,379.72L412.5,379.72L413,379.72L413.5,379.72L414,379.71L414.5,379.71L415,379.7L415.5,379.7L416,379.69L416.5,379.68L417,379.67L417.5,379.66L418,379.64L418.5,379.63L419,379.61L419.5,379.59L420,379.58L420.5,379.55L421,379.53L421.5,379.51L422,379.48L422.5,379.46L423,379.43L423.5,379.4L424,379.36L424.5,379.33L425,379.29L425.5,379.25L426,379.21L426.5,379.17L427,379.12L427.5,379.08L428,379.02L428.5,378.97L429,378.91L429.5,378.85L430,378.79L430.5,378.72L431,378.65L431.5,378.57L432,378.49L432.5,378.41L433,378.31L433.5,378.22L434,378.11L434.5,378L435,377.88L435.5,377.75L436,377.62L436.5,377.47L437,377.31L437.5,377.14L438,376.96L438.5,376.76L439,376.55L439.5,376.33L440,376.08L440.5,375.82L441,375.54L441.5,375.23L442,374.9L442.5,374.54L443,374.16L443.5,373.75L444,373.31L444.5,372.83L445,372.32L445.5,371.77L446,371.18L446.5,370.55L447,369.87L447.5,369.15L448,368.38L448.5,367.55L449,366.68L449.5,365.74L450,364.75L450.5,363.71L451,362.59L451.5,361.42L452,360.18L452.5,358.88L453,357.51L453.5,356.07L454,354.56L454.5,352.99L455,351.35L455.5,349.64L456,347.86L456.5,346.02L457,344.11L457.5,342.14L458,340.11L458.5,338.03L459,335.9L459.5,333.71L460,331.49L460.5,329.22L461,326.93L461.5,324.61L462,322.27L462.5,319.92L463,317.58L463.5,315.24L464,312.91L464.5,310.62L465,308.37L465.5,306.18L466,304.05L466.5,302L467,300.05L467.5,298.2L468,296.48L468.5,294.89L469,293.46L469.5,292.19L470,291.1L470.5,290.2L471,289.5L471.5,289.01L472,288.73L472.5,288.67L473,288.82L473.5,289.2L474,289.79L474.5,290.59L475,291.59L475.5,292.79L476,294.16L476.5,295.71L477,297.41L477.5,299.25L478,301.23L478.5,303.31L479,305.49L479.5,307.76L480,310.09L480.5,312.49L481,314.92L481.5,317.39L482,319.88L482.5,322.38L483,324.88L483.5,327.37L484,329.84L484.5,332.29L485,334.71L485.5,337.09L486,339.42L486.5,341.7L487,343.94L487.5,346.11L488,348.22L488.5,350.27L489,352.26L489.5,354.17L490,356.02L490.5,357.8L491,359.5L491.5,361.14L492,362.7L492.5,364.19L493,365.61L493.5,366.97L494,368.26L494.5,369.48L495,370.63L495.5,371.72L496,372.76L496.5,373.73L497,374.65L497.5,375.51L498,376.32L498.5,377.08L499,377.79L499.5,378.46L500,379.09L500.5,379.67L501,380.22L501.5,380.73L502,381.2L502.5,381.65L503,382.07L503.5,382.45L504,382.82L504.5,383.15L505,383.47L505.5,383.76L506,384.04L506.5,384.3L507,384.54L507.5,384.76L508,384.97L508.5,385.17L509,385.36L509.5,385.53L510,385.7L510.5,385.86L511,386L511.5,386.14L512,386.27L512.5,386.4L513,386.52L513.5,386.63L514,386.74L514.5,386.84L515,386.94L515.5,387.03L516,387.12L516.5,387.21L517,387.29L517.5,387.37L518,387.44L518.5,387.52L519,387.59L519.5,387.66L520,387.72L520.5,387.79L521,387.85L521.5,387.91L522,387.97L522.5,388.02L523,388.08L523.5,388.13L524,388.18L524.5,388.23L525,388.28L525.5,388.32L526,388.37L526.5,388.41L527,388.46L527.5,388.5L528,388.54L528.5,388.58L529,388.62L529.5,388.66L530,388.69L530.5,388.73L531,388.76L531.5,388.8L532,388.83L532.5,388.86L533,388.89L533.5,388.93L534,388.96L534.5,388.99L535,389.01L535.5,389.04L536,389.07L536.5,389.1L537,389.12L537.5,389.15L538,389.17L538.5,389.2L539,389.22L539.5,389.24L540,389.27L540.5,389.29L541,389.31L541.5,389.33L542,389.35L542.5,389.37L543,389.39L543.5,389.41L544,389.43L544.5,389.45L545,389.47L545.5,389.49L546,389.5L546.5,389.52L547,389.54L547.5,389.56L548,389.57L548.5,389.59L549,389.6L549.5,389.62L550,389.63L550.5,389.65L551,389.66L551.5,389.68L552,389.69L552.5,389.7L553,389.72L553.5,389.73L554,389.74L554.5,389.76L555,389.77L555.5,389.78L556,389.79L556.5,389.81L557,389.82L557.5,389.83" fill="none" stroke="#4ba6d0" stroke-width="1.3"/><path d="M38.4,461V650.4H185.4V461H38.4" fill="none" stroke="#333333" stroke-width="1"/><path d="M38.4,644.3h-4.1M38.4,607.62h-4.1M38.4,570.95h-4.1M38.4,534.27h-4.1M38.4,497.6h-4.1M38.4,460.92h-4.1M38.4,625.96h-2.4M38.4,589.29h-2.4M38.4,552.61h-2.4M38.4,515.94h-2.4M38.4,479.26h-2.4" stroke="#333333" stroke-width="1" fill="none"/><path d="M46.97,650.4v3.4M90.33,650.4v3.4M133.7,650.4v3.4M177.06,650.4v3.4M68.65,650.4v2.2M112.02,650.4v2.2M155.38,650.4v2.2" stroke="#333333" stroke-width="1" fill="none"/><text x="32.2" y="647.7" font-size="10.7" text-anchor="end" fill="#111111" >0.0</text><text x="32.2" y="611.02" font-size="10.7" text-anchor="end" fill="#111111" >0.3</text><text x="32.2" y="574.35" font-size="10.7" text-anchor="end" fill="#111111" >0.6</text><text x="32.2" y="537.67" font-size="10.7" text-anchor="end" fill="#111111" >0.9</text><text x="32.2" y="501" font-size="10.7" text-anchor="end" fill="#111111" >1.2</text><text x="32.2" y="464.32" font-size="10.7" text-anchor="end" fill="#111111" >1.5</text><text x="46.97" y="665" font-size="10.7" text-anchor="middle" fill="#111111" >27,900</text><text x="90.33" y="665" font-size="10.7" text-anchor="middle" fill="#111111" >27,950</text><text x="133.7" y="665" font-size="10.7" text-anchor="middle" fill="#111111" >28,000</text><text x="177.06" y="665" font-size="10.7" text-anchor="middle" fill="#111111" >28,050</text><text x="112.2" y="681.9" font-size="10.7" text-anchor="middle" fill="#111111" >Photon energy (eV)</text><text transform="translate(8.5,547.4) rotate(-90)" font-size="10.75" text-anchor="middle" fill="#111111">Normalized absorption (arb. units)</text><text x="41.6" y="474.3" font-size="10.7" text-anchor="start" fill="#111111" >In K-edge</text><path d="M38.4,642.2L38.65,642.17L38.9,642.14L39.15,642.11L39.4,642.08L39.65,642.05L39.9,642.02L40.15,641.99L40.4,641.96L40.65,641.92L40.9,641.89L41.15,641.86L41.4,641.82L41.65,641.79L41.9,641.75L42.15,641.72L42.4,641.68L42.65,641.64L42.9,641.61L43.15,641.57L43.4,641.53L43.65,641.49L43.9,641.45L44.15,641.42L44.4,641.38L44.65,641.34L44.9,641.3L45.15,641.26L45.4,641.21L45.65,641.17L45.9,641.13L46.15,641.09L46.4,641.05L46.65,641L46.9,640.96L47.15,640.92L47.4,640.87L47.65,640.83L47.9,640.79L48.15,640.74L48.4,640.7L48.65,640.65L48.9,640.6L49.15,640.56L49.4,640.51L49.65,640.47L49.9,640.42L50.15,640.37L50.4,640.33L50.65,640.28L50.9,640.23L51.15,640.19L51.4,640.14L51.65,640.09L51.9,640.05L52.15,640L52.4,639.96L52.65,639.91L52.9,639.86L53.15,639.82L53.4,639.77L53.65,639.72L53.9,639.67L54.15,639.63L54.4,639.58L54.65,639.53L54.9,639.48L55.15,639.43L55.4,639.37L55.65,639.32L55.9,639.27L56.15,639.21L56.4,639.16L56.65,639.1L56.9,639.04L57.15,638.98L57.4,638.92L57.65,638.86L57.9,638.8L58.15,638.74L58.4,638.67L58.65,638.6L58.9,638.54L59.15,638.47L59.4,638.39L59.65,638.32L59.9,638.25L60.15,638.17L60.4,638.09L60.65,638.01L60.9,637.93L61.15,637.84L61.4,637.75L61.65,637.67L61.9,637.57L62.15,637.48L62.4,637.38L62.65,637.28L62.9,637.17L63.15,637.06L63.4,636.94L63.65,636.82L63.9,636.69L64.15,636.56L64.4,636.42L64.65,636.28L64.9,636.13L65.15,635.97L65.4,635.81L65.65,635.64L65.9,635.46L66.15,635.28L66.4,635.09L66.65,634.9L66.9,634.7L67.15,634.49L67.4,634.28L67.65,634.06L67.9,633.83L68.15,633.59L68.4,633.35L68.65,633.1L68.9,632.84L69.15,632.58L69.4,632.3L69.65,632.02L69.9,631.74L70.15,631.44L70.4,631.12L70.65,630.77L70.9,630.39L71.15,629.98L71.4,629.54L71.65,629.07L71.9,628.57L72.15,628.04L72.4,627.47L72.65,626.88L72.9,626.25L73.15,625.58L73.4,624.89L73.65,624.16L73.9,623.4L74.15,622.6L74.4,621.77L74.65,620.9L74.9,620L75.15,619.01L75.4,617.89L75.65,616.63L75.9,615.23L76.15,613.7L76.4,612.02L76.65,610.21L76.9,608.26L77.15,606.17L77.4,603.93L77.65,601.47L77.9,598.48L78.15,594.99L78.4,591.1L78.65,586.88L78.9,582.43L79.15,577.81L79.4,573L79.65,567.15L79.9,560.65L80.15,554.21L80.4,548.53L80.65,544.27L80.9,540.88L81.15,537.86L81.4,535.17L81.65,532.76L81.9,530.59L82.15,528.62L82.4,526.78L82.65,525.07L82.9,523.5L83.15,522.09L83.4,520.85L83.65,519.8L83.9,518.78L84.15,517.78L84.4,516.86L84.65,516.09L84.9,515.55L85.15,515.31L85.4,515.36L85.65,515.61L85.9,516L86.15,516.49L86.4,517.06L86.65,517.66L86.9,518.25L87.15,518.8L87.4,519.31L87.65,519.87L87.9,520.45L88.15,521.05L88.4,521.67L88.65,522.3L88.9,522.93L89.15,523.54L89.4,524.14L89.65,524.71L89.9,525.24L90.15,525.73L90.4,526.18L90.65,526.63L90.9,527.1L91.15,527.58L91.4,528.05L91.65,528.49L91.9,528.91L92.15,529.29L92.4,529.62L92.65,529.89L92.9,530.08L93.15,530.18L93.4,530.2L93.65,530.15L93.9,530.05L94.15,529.92L94.4,529.76L94.65,529.57L94.9,529.36L95.15,529.14L95.4,528.91L95.65,528.69L95.9,528.47L96.15,528.27L96.4,528.1L96.65,527.93L96.9,527.75L97.15,527.57L97.4,527.37L97.65,527.17L97.9,526.97L98.15,526.77L98.4,526.57L98.65,526.37L98.9,526.18L99.15,525.99L99.4,525.82L99.65,525.65L99.9,525.5L100.15,525.37L100.4,525.25L100.65,525.15L100.9,525.08L101.15,525.03L101.4,525L101.65,525L101.9,525.03L102.15,525.07L102.4,525.13L102.65,525.2L102.9,525.29L103.15,525.39L103.4,525.49L103.65,525.6L103.9,525.7L104.15,525.81L104.4,525.92L104.65,526.02L104.9,526.14L105.15,526.27L105.4,526.42L105.65,526.58L105.9,526.76L106.15,526.93L106.4,527.11L106.65,527.28L106.9,527.45L107.15,527.6L107.4,527.75L107.65,527.87L107.9,527.97L108.15,528.04L108.4,528.09L108.65,528.1L108.9,528.09L109.15,528.08L109.4,528.05L109.65,528.01L109.9,527.97L110.15,527.92L110.4,527.87L110.65,527.8L110.9,527.74L111.15,527.67L111.4,527.59L111.65,527.51L111.9,527.43L112.15,527.34L112.4,527.22L112.65,527.07L112.9,526.89L113.15,526.69L113.4,526.46L113.65,526.23L113.9,525.98L114.15,525.72L114.4,525.46L114.65,525.2L114.9,524.95L115.15,524.7L115.4,524.47L115.65,524.26L115.9,524.07L116.15,523.9L116.4,523.72L116.65,523.54L116.9,523.35L117.15,523.17L117.4,522.98L117.65,522.8L117.9,522.61L118.15,522.44L118.4,522.27L118.65,522.11L118.9,521.97L119.15,521.83L119.4,521.71L119.65,521.61L119.9,521.52L120.15,521.46L120.4,521.42L120.65,521.4L120.9,521.41L121.15,521.45L121.4,521.51L121.65,521.59L121.9,521.7L122.15,521.82L122.4,521.96L122.65,522.12L122.9,522.29L123.15,522.47L123.4,522.65L123.65,522.84L123.9,523.04L124.15,523.23L124.4,523.43L124.65,523.62L124.9,523.81L125.15,523.98L125.4,524.15L125.65,524.31L125.9,524.45L126.15,524.58L126.4,524.71L126.65,524.85L126.9,524.99L127.15,525.13L127.4,525.28L127.65,525.42L127.9,525.57L128.15,525.72L128.4,525.87L128.65,526.01L128.9,526.15L129.15,526.29L129.4,526.43L129.65,526.56L129.9,526.69L130.15,526.81L130.4,526.92L130.65,527.03L130.9,527.12L131.15,527.21L131.4,527.29L131.65,527.35L131.9,527.41L132.15,527.45L132.4,527.48L132.65,527.5L132.9,527.5L133.15,527.48L133.4,527.44L133.65,527.38L133.9,527.3L134.15,527.21L134.4,527.11L134.65,526.99L134.9,526.86L135.15,526.72L135.4,526.58L135.65,526.42L135.9,526.27L136.15,526.11L136.4,525.95L136.65,525.79L136.9,525.63L137.15,525.48L137.4,525.33L137.65,525.19L137.9,525.05L138.15,524.92L138.4,524.79L138.65,524.65L138.9,524.51L139.15,524.36L139.4,524.21L139.65,524.06L139.9,523.92L140.15,523.77L140.4,523.63L140.65,523.49L140.9,523.35L141.15,523.23L141.4,523.11L141.65,523L141.9,522.9L142.15,522.82L142.4,522.74L142.65,522.66L142.9,522.58L143.15,522.51L143.4,522.43L143.65,522.36L143.9,522.28L144.15,522.21L144.4,522.14L144.65,522.07L144.9,522L145.15,521.94L145.4,521.88L145.65,521.82L145.9,521.76L146.15,521.71L146.4,521.66L146.65,521.61L146.9,521.57L147.15,521.53L147.4,521.5L147.65,521.47L147.9,521.45L148.15,521.43L148.4,521.41L148.65,521.4L148.9,521.4L149.15,521.4L149.4,521.41L149.65,521.43L149.9,521.45L150.15,521.48L150.4,521.52L150.65,521.55L150.9,521.6L151.15,521.64L151.4,521.69L151.65,521.75L151.9,521.8L152.15,521.86L152.4,521.92L152.65,521.99L152.9,522.05L153.15,522.12L153.4,522.18L153.65,522.25L153.9,522.31L154.15,522.38L154.4,522.44L154.65,522.51L154.9,522.57L155.15,522.62L155.4,522.68L155.65,522.73L155.9,522.78L156.15,522.83L156.4,522.88L156.65,522.93L156.9,522.98L157.15,523.03L157.4,523.09L157.65,523.14L157.9,523.2L158.15,523.26L158.4,523.31L158.65,523.37L158.9,523.43L159.15,523.48L159.4,523.54L159.65,523.59L159.9,523.65L160.15,523.7L160.4,523.75L160.65,523.79L160.9,523.84L161.15,523.88L161.4,523.92L161.65,523.96L161.9,523.99L162.15,524.02L162.4,524.04L162.65,524.06L162.9,524.08L163.15,524.09L163.4,524.1L163.65,524.1L163.9,524.1L164.15,524.09L164.4,524.09L164.65,524.08L164.9,524.06L165.15,524.05L165.4,524.03L165.65,524.01L165.9,523.99L166.15,523.97L166.4,523.95L166.65,523.92L166.9,523.9L167.15,523.87L167.4,523.84L167.65,523.81L167.9,523.78L168.15,523.75L168.4,523.72L168.65,523.69L168.9,523.66L169.15,523.63L169.4,523.6L169.65,523.57L169.9,523.54L170.15,523.52L170.4,523.49L170.65,523.46L170.9,523.43L171.15,523.4L171.4,523.37L171.65,523.34L171.9,523.31L172.15,523.27L172.4,523.24L172.65,523.21L172.9,523.17L173.15,523.14L173.4,523.1L173.65,523.06L173.9,523.03L174.15,522.99L174.4,522.95L174.65,522.92L174.9,522.88L175.15,522.84L175.4,522.8L175.65,522.76L175.9,522.72L176.15,522.69L176.4,522.65L176.65,522.61L176.9,522.57L177.15,522.53L177.4,522.49L177.65,522.45L177.9,522.42L178.15,522.38L178.4,522.34L178.65,522.3L178.9,522.26L179.15,522.22L179.4,522.18L179.65,522.15L179.9,522.11L180.15,522.07L180.4,522.03L180.65,521.99L180.9,521.95L181.15,521.91L181.4,521.87L181.65,521.83L181.9,521.79L182.15,521.74L182.4,521.7L182.65,521.66L182.9,521.62L183.15,521.58L183.4,521.54L183.65,521.5L183.9,521.45L184.15,521.41L184.4,521.37L184.65,521.33L184.9,521.29L185.15,521.24L185.4,521.2" fill="none" stroke="#fdd32e" stroke-width="1.4" stroke-linejoin="round"/><path d="M38.4,642.2L38.65,642.17L38.9,642.15L39.15,642.12L39.4,642.1L39.65,642.07L39.9,642.04L40.15,642.01L40.4,641.98L40.65,641.96L40.9,641.93L41.15,641.9L41.4,641.87L41.65,641.83L41.9,641.8L42.15,641.77L42.4,641.74L42.65,641.71L42.9,641.67L43.15,641.64L43.4,641.61L43.65,641.57L43.9,641.54L44.15,641.5L44.4,641.47L44.65,641.43L44.9,641.4L45.15,641.36L45.4,641.33L45.65,641.29L45.9,641.25L46.15,641.21L46.4,641.18L46.65,641.14L46.9,641.1L47.15,641.06L47.4,641.02L47.65,640.98L47.9,640.94L48.15,640.9L48.4,640.86L48.65,640.82L48.9,640.78L49.15,640.74L49.4,640.7L49.65,640.66L49.9,640.62L50.15,640.57L50.4,640.53L50.65,640.49L50.9,640.45L51.15,640.41L51.4,640.37L51.65,640.33L51.9,640.29L52.15,640.24L52.4,640.2L52.65,640.16L52.9,640.12L53.15,640.08L53.4,640.03L53.65,639.99L53.9,639.95L54.15,639.9L54.4,639.86L54.65,639.82L54.9,639.77L55.15,639.72L55.4,639.68L55.65,639.63L55.9,639.58L56.15,639.53L56.4,639.48L56.65,639.43L56.9,639.38L57.15,639.33L57.4,639.27L57.65,639.22L57.9,639.16L58.15,639.1L58.4,639.05L58.65,638.99L58.9,638.92L59.15,638.86L59.4,638.8L59.65,638.73L59.9,638.66L60.15,638.6L60.4,638.53L60.65,638.45L60.9,638.38L61.15,638.3L61.4,638.23L61.65,638.15L61.9,638.07L62.15,637.98L62.4,637.9L62.65,637.81L62.9,637.71L63.15,637.61L63.4,637.51L63.65,637.41L63.9,637.29L64.15,637.18L64.4,637.06L64.65,636.93L64.9,636.8L65.15,636.67L65.4,636.53L65.65,636.38L65.9,636.23L66.15,636.08L66.4,635.92L66.65,635.75L66.9,635.58L67.15,635.4L67.4,635.21L67.65,635.02L67.9,634.82L68.15,634.62L68.4,634.41L68.65,634.19L68.9,633.97L69.15,633.74L69.4,633.5L69.65,633.26L69.9,633.01L70.15,632.75L70.4,632.46L70.65,632.15L70.9,631.81L71.15,631.43L71.4,631.03L71.65,630.6L71.9,630.14L72.15,629.65L72.4,629.13L72.65,628.59L72.9,628.01L73.15,627.41L73.4,626.79L73.65,626.14L73.9,625.46L74.15,624.76L74.4,624.03L74.65,623.28L74.9,622.5L75.15,621.67L75.4,620.75L75.65,619.74L75.9,618.65L76.15,617.47L76.4,616.2L76.65,614.84L76.9,613.4L77.15,611.87L77.4,610.25L77.65,608.54L77.9,606.74L78.15,604.81L78.4,602.57L78.65,600.03L78.9,597.24L79.15,594.22L79.4,591.02L79.65,587.68L79.9,584.23L80.15,580.71L80.4,577.07L80.65,573.15L80.9,568.96L81.15,564.53L81.4,559.87L81.65,554.99L81.9,549.41L82.15,543.97L82.4,538.88L82.65,533.97L82.9,529.37L83.15,525.21L83.4,521.42L83.65,517.89L83.9,514.54L84.15,511.32L84.4,508.15L84.65,504.95L84.9,501.49L85.15,497.86L85.4,494.31L85.65,491.06L85.9,488.37L86.15,486.46L86.4,485.25L86.65,484.13L86.9,483.1L87.15,482.2L87.4,481.44L87.65,480.86L87.9,480.47L88.15,480.3L88.4,480.37L88.65,480.64L88.9,481.07L89.15,481.65L89.4,482.33L89.65,483.09L89.9,483.89L90.15,484.71L90.4,485.54L90.65,486.54L90.9,487.7L91.15,489L91.4,490.39L91.65,491.82L91.9,493.24L92.15,494.62L92.4,495.91L92.65,497.22L92.9,498.54L93.15,499.86L93.4,501.18L93.65,502.47L93.9,503.72L94.15,504.91L94.4,506.05L94.65,507.14L94.9,508.2L95.15,509.24L95.4,510.25L95.65,511.24L95.9,512.2L96.15,513.15L96.4,514.08L96.65,515L96.9,515.9L97.15,516.79L97.4,517.68L97.65,518.56L97.9,519.42L98.15,520.28L98.4,521.11L98.65,521.94L98.9,522.74L99.15,523.52L99.4,524.28L99.65,525.02L99.9,525.72L100.15,526.41L100.4,527.08L100.65,527.73L100.9,528.37L101.15,529L101.4,529.62L101.65,530.22L101.9,530.8L102.15,531.37L102.4,531.93L102.65,532.47L102.9,533L103.15,533.51L103.4,534.01L103.65,534.5L103.9,535.01L104.15,535.54L104.4,536.09L104.65,536.64L104.9,537.18L105.15,537.71L105.4,538.22L105.65,538.69L105.9,539.12L106.15,539.51L106.4,539.84L106.65,540.1L106.9,540.28L107.15,540.38L107.4,540.4L107.65,540.38L107.9,540.35L108.15,540.3L108.4,540.23L108.65,540.16L108.9,540.07L109.15,539.98L109.4,539.87L109.65,539.76L109.9,539.65L110.15,539.52L110.4,539.34L110.65,539.12L110.9,538.84L111.15,538.53L111.4,538.17L111.65,537.78L111.9,537.36L112.15,536.91L112.4,536.43L112.65,535.93L112.9,535.42L113.15,534.88L113.4,534.34L113.65,533.79L113.9,533.23L114.15,532.68L114.4,532.12L114.65,531.57L114.9,531.03L115.15,530.51L115.4,530L115.65,529.48L115.9,528.93L116.15,528.34L116.4,527.74L116.65,527.12L116.9,526.48L117.15,525.85L117.4,525.21L117.65,524.59L117.9,523.98L118.15,523.39L118.4,522.83L118.65,522.31L118.9,521.82L119.15,521.39L119.4,521L119.65,520.64L119.9,520.28L120.15,519.92L120.4,519.56L120.65,519.2L120.9,518.85L121.15,518.5L121.4,518.17L121.65,517.84L121.9,517.53L122.15,517.24L122.4,516.96L122.65,516.7L122.9,516.47L123.15,516.26L123.4,516.07L123.65,515.91L123.9,515.79L124.15,515.69L124.4,515.63L124.65,515.6L124.9,515.6L125.15,515.61L125.4,515.63L125.65,515.66L125.9,515.69L126.15,515.73L126.4,515.77L126.65,515.82L126.9,515.87L127.15,515.92L127.4,515.98L127.65,516.04L127.9,516.09L128.15,516.15L128.4,516.21L128.65,516.26L128.9,516.31L129.15,516.36L129.4,516.4L129.65,516.44L129.9,516.48L130.15,516.51L130.4,516.53L130.65,516.55L130.9,516.57L131.15,516.59L131.4,516.61L131.65,516.63L131.9,516.64L132.15,516.66L132.4,516.67L132.65,516.68L132.9,516.7L133.15,516.71L133.4,516.72L133.65,516.74L133.9,516.75L134.15,516.77L134.4,516.78L134.65,516.8L134.9,516.81L135.15,516.83L135.4,516.85L135.65,516.87L135.9,516.9L136.15,516.92L136.4,516.95L136.65,516.98L136.9,517.01L137.15,517.06L137.4,517.11L137.65,517.17L137.9,517.24L138.15,517.32L138.4,517.41L138.65,517.5L138.9,517.6L139.15,517.71L139.4,517.83L139.65,517.95L139.9,518.08L140.15,518.21L140.4,518.35L140.65,518.49L140.9,518.63L141.15,518.78L141.4,518.94L141.65,519.1L141.9,519.3L142.15,519.53L142.4,519.78L142.65,520.06L142.9,520.37L143.15,520.69L143.4,521.02L143.65,521.36L143.9,521.71L144.15,522.06L144.4,522.41L144.65,522.75L144.9,523.08L145.15,523.4L145.4,523.7L145.65,523.98L145.9,524.23L146.15,524.46L146.4,524.66L146.65,524.86L146.9,525.06L147.15,525.25L147.4,525.45L147.65,525.64L147.9,525.82L148.15,526.01L148.4,526.19L148.65,526.36L148.9,526.53L149.15,526.7L149.4,526.86L149.65,527.02L149.9,527.17L150.15,527.32L150.4,527.46L150.65,527.6L150.9,527.73L151.15,527.85L151.4,527.97L151.65,528.07L151.9,528.17L152.15,528.27L152.4,528.35L152.65,528.43L152.9,528.5L153.15,528.56L153.4,528.63L153.65,528.69L153.9,528.75L154.15,528.81L154.4,528.87L154.65,528.93L154.9,528.99L155.15,529.04L155.4,529.1L155.65,529.15L155.9,529.19L156.15,529.24L156.4,529.28L156.65,529.32L156.9,529.36L157.15,529.39L157.4,529.42L157.65,529.44L157.9,529.46L158.15,529.48L158.4,529.49L158.65,529.5L158.9,529.5L159.15,529.5L159.4,529.48L159.65,529.46L159.9,529.43L160.15,529.39L160.4,529.34L160.65,529.28L160.9,529.22L161.15,529.16L161.4,529.08L161.65,529L161.9,528.92L162.15,528.83L162.4,528.73L162.65,528.63L162.9,528.53L163.15,528.43L163.4,528.32L163.65,528.21L163.9,528.1L164.15,527.98L164.4,527.87L164.65,527.75L164.9,527.64L165.15,527.52L165.4,527.41L165.65,527.29L165.9,527.18L166.15,527.07L166.4,526.96L166.65,526.84L166.9,526.71L167.15,526.58L167.4,526.44L167.65,526.3L167.9,526.15L168.15,525.99L168.4,525.83L168.65,525.67L168.9,525.5L169.15,525.33L169.4,525.15L169.65,524.98L169.9,524.8L170.15,524.62L170.4,524.44L170.65,524.26L170.9,524.09L171.15,523.91L171.4,523.73L171.65,523.56L171.9,523.39L172.15,523.22L172.4,523.06L172.65,522.9L172.9,522.75L173.15,522.6L173.4,522.46L173.65,522.32L173.9,522.19L174.15,522.07L174.4,521.95L174.65,521.84L174.9,521.72L175.15,521.6L175.4,521.48L175.65,521.36L175.9,521.24L176.15,521.11L176.4,520.99L176.65,520.87L176.9,520.76L177.15,520.64L177.4,520.53L177.65,520.42L177.9,520.32L178.15,520.22L178.4,520.12L178.65,520.04L178.9,519.96L179.15,519.88L179.4,519.81L179.65,519.75L179.9,519.7L180.15,519.66L180.4,519.63L180.65,519.61L180.9,519.6L181.15,519.6L181.4,519.6L181.65,519.6L181.9,519.6L182.15,519.6L182.4,519.6L182.65,519.6L182.9,519.6L183.15,519.6L183.4,519.6L183.65,519.6L183.9,519.6L184.15,519.6L184.4,519.6L184.65,519.6L184.9,519.6L185.15,519.6L185.4,519.6" fill="none" stroke="#3d84c6" stroke-width="1.4" stroke-linejoin="round"/><path d="M38.4,642.2L38.65,642.17L38.9,642.15L39.15,642.12L39.4,642.09L39.65,642.06L39.9,642.03L40.15,642L40.4,641.97L40.65,641.94L40.9,641.91L41.15,641.88L41.4,641.85L41.65,641.82L41.9,641.79L42.15,641.75L42.4,641.72L42.65,641.69L42.9,641.66L43.15,641.62L43.4,641.59L43.65,641.55L43.9,641.52L44.15,641.49L44.4,641.45L44.65,641.42L44.9,641.38L45.15,641.34L45.4,641.31L45.65,641.27L45.9,641.24L46.15,641.2L46.4,641.16L46.65,641.12L46.9,641.09L47.15,641.05L47.4,641.01L47.65,640.97L47.9,640.93L48.15,640.89L48.4,640.86L48.65,640.82L48.9,640.78L49.15,640.74L49.4,640.7L49.65,640.66L49.9,640.62L50.15,640.58L50.4,640.54L50.65,640.5L50.9,640.46L51.15,640.42L51.4,640.38L51.65,640.34L51.9,640.3L52.15,640.26L52.4,640.22L52.65,640.18L52.9,640.14L53.15,640.1L53.4,640.06L53.65,640.02L53.9,639.98L54.15,639.94L54.4,639.9L54.65,639.86L54.9,639.82L55.15,639.78L55.4,639.73L55.65,639.69L55.9,639.65L56.15,639.6L56.4,639.55L56.65,639.51L56.9,639.46L57.15,639.41L57.4,639.36L57.65,639.31L57.9,639.26L58.15,639.21L58.4,639.16L58.65,639.1L58.9,639.04L59.15,638.99L59.4,638.93L59.65,638.87L59.9,638.81L60.15,638.75L60.4,638.68L60.65,638.62L60.9,638.55L61.15,638.48L61.4,638.41L61.65,638.34L61.9,638.26L62.15,638.18L62.4,638.11L62.65,638.02L62.9,637.94L63.15,637.85L63.4,637.76L63.65,637.66L63.9,637.56L64.15,637.46L64.4,637.35L64.65,637.24L64.9,637.12L65.15,637L65.4,636.87L65.65,636.74L65.9,636.61L66.15,636.47L66.4,636.32L66.65,636.17L66.9,636.02L67.15,635.86L67.4,635.69L67.65,635.52L67.9,635.34L68.15,635.16L68.4,634.96L68.65,634.77L68.9,634.57L69.15,634.36L69.4,634.14L69.65,633.92L69.9,633.69L70.15,633.45L70.4,633.19L70.65,632.9L70.9,632.58L71.15,632.22L71.4,631.84L71.65,631.43L71.9,630.99L72.15,630.53L72.4,630.04L72.65,629.52L72.9,628.98L73.15,628.41L73.4,627.82L73.65,627.2L73.9,626.56L74.15,625.9L74.4,625.22L74.65,624.52L74.9,623.8L75.15,623.03L75.4,622.2L75.65,621.3L75.9,620.33L76.15,619.28L76.4,618.16L76.65,616.97L76.9,615.7L77.15,614.35L77.4,612.92L77.65,611.41L77.9,609.82L78.15,608.15L78.4,606.3L78.65,604.12L78.9,601.65L79.15,598.94L79.4,596.02L79.65,592.94L79.9,589.74L80.15,586.46L80.4,583.15L80.65,579.84L80.9,576.58L81.15,573.27L81.4,569.79L81.65,566L81.9,561.79L82.15,557.03L82.4,550.97L82.65,543.39L82.9,534.07L83.15,526.96L83.4,522.41L83.65,518.73L83.9,515.58L84.15,512.62L84.4,509.54L84.65,506.35L84.9,503.21L85.15,500.3L85.4,497.75L85.65,495.73L85.9,494.15L86.15,492.62L86.4,491.16L86.65,489.81L86.9,488.62L87.15,487.62L87.4,486.86L87.65,486.37L87.9,486.2L88.15,486.31L88.4,486.61L88.65,487.08L88.9,487.69L89.15,488.41L89.4,489.22L89.65,490.08L89.9,490.98L90.15,491.87L90.4,492.76L90.65,493.78L90.9,494.95L91.15,496.23L91.4,497.58L91.65,498.98L91.9,500.39L92.15,501.79L92.4,503.14L92.65,504.55L92.9,506.01L93.15,507.49L93.4,508.97L93.65,510.42L93.9,511.8L94.15,513.08L94.4,514.26L94.65,515.35L94.9,516.4L95.15,517.4L95.4,518.36L95.65,519.29L95.9,520.2L96.15,521.1L96.4,522L96.65,522.9L96.9,523.81L97.15,524.73L97.4,525.63L97.65,526.53L97.9,527.41L98.15,528.26L98.4,529.08L98.65,529.87L98.9,530.62L99.15,531.32L99.4,531.96L99.65,532.55L99.9,533.13L100.15,533.69L100.4,534.24L100.65,534.77L100.9,535.29L101.15,535.79L101.4,536.27L101.65,536.73L101.9,537.17L102.15,537.59L102.4,537.98L102.65,538.35L102.9,538.69L103.15,539.01L103.4,539.29L103.65,539.56L103.9,539.82L104.15,540.08L104.4,540.34L104.65,540.6L104.9,540.84L105.15,541.08L105.4,541.31L105.65,541.52L105.9,541.71L106.15,541.89L106.4,542.04L106.65,542.17L106.9,542.27L107.15,542.35L107.4,542.39L107.65,542.4L107.9,542.37L108.15,542.29L108.4,542.19L108.65,542.05L108.9,541.88L109.15,541.7L109.4,541.5L109.65,541.29L109.9,541.08L110.15,540.87L110.4,540.61L110.65,540.32L110.9,539.99L111.15,539.62L111.4,539.22L111.65,538.8L111.9,538.35L112.15,537.87L112.4,537.38L112.65,536.86L112.9,536.33L113.15,535.79L113.4,535.24L113.65,534.68L113.9,534.12L114.15,533.56L114.4,532.99L114.65,532.43L114.9,531.88L115.15,531.33L115.4,530.8L115.65,530.25L115.9,529.67L116.15,529.06L116.4,528.43L116.65,527.77L116.9,527.11L117.15,526.45L117.4,525.79L117.65,525.14L117.9,524.5L118.15,523.89L118.4,523.31L118.65,522.76L118.9,522.26L119.15,521.8L119.4,521.4L119.65,521.03L119.9,520.65L120.15,520.28L120.4,519.9L120.65,519.53L120.9,519.16L121.15,518.81L121.4,518.46L121.65,518.12L121.9,517.8L122.15,517.5L122.4,517.21L122.65,516.94L122.9,516.7L123.15,516.48L123.4,516.29L123.65,516.12L123.9,515.99L124.15,515.89L124.4,515.83L124.65,515.8L124.9,515.8L125.15,515.82L125.4,515.84L125.65,515.87L125.9,515.91L126.15,515.95L126.4,516L126.65,516.06L126.9,516.11L127.15,516.17L127.4,516.24L127.65,516.3L127.9,516.37L128.15,516.43L128.4,516.49L128.65,516.55L128.9,516.61L129.15,516.66L129.4,516.71L129.65,516.75L129.9,516.78L130.15,516.8L130.4,516.83L130.65,516.85L130.9,516.86L131.15,516.88L131.4,516.9L131.65,516.91L131.9,516.92L132.15,516.93L132.4,516.95L132.65,516.96L132.9,516.97L133.15,516.98L133.4,516.99L133.65,517L133.9,517.01L134.15,517.02L134.4,517.03L134.65,517.04L134.9,517.05L135.15,517.07L135.4,517.08L135.65,517.1L135.9,517.12L136.15,517.14L136.4,517.16L136.65,517.18L136.9,517.21L137.15,517.24L137.4,517.29L137.65,517.33L137.9,517.39L138.15,517.45L138.4,517.52L138.65,517.6L138.9,517.68L139.15,517.76L139.4,517.86L139.65,517.95L139.9,518.05L140.15,518.16L140.4,518.27L140.65,518.39L140.9,518.5L141.15,518.62L141.4,518.75L141.65,518.88L141.9,519.04L142.15,519.23L142.4,519.44L142.65,519.68L142.9,519.93L143.15,520.2L143.4,520.48L143.65,520.77L143.9,521.06L144.15,521.36L144.4,521.66L144.65,521.95L144.9,522.24L145.15,522.51L145.4,522.78L145.65,523.03L145.9,523.25L146.15,523.46L146.4,523.65L146.65,523.84L146.9,524.03L147.15,524.21L147.4,524.4L147.65,524.58L147.9,524.76L148.15,524.94L148.4,525.11L148.65,525.28L148.9,525.45L149.15,525.62L149.4,525.78L149.65,525.93L149.9,526.09L150.15,526.24L150.4,526.38L150.65,526.52L150.9,526.65L151.15,526.78L151.4,526.9L151.65,527.02L151.9,527.13L152.15,527.23L152.4,527.33L152.65,527.42L152.9,527.5L153.15,527.58L153.4,527.66L153.65,527.74L153.9,527.82L154.15,527.89L154.4,527.97L154.65,528.04L154.9,528.12L155.15,528.19L155.4,528.26L155.65,528.32L155.9,528.39L156.15,528.45L156.4,528.5L156.65,528.55L156.9,528.6L157.15,528.65L157.4,528.69L157.65,528.72L157.9,528.75L158.15,528.77L158.4,528.79L158.65,528.8L158.9,528.8L159.15,528.79L159.4,528.78L159.65,528.75L159.9,528.72L160.15,528.68L160.4,528.63L160.65,528.57L160.9,528.5L161.15,528.43L161.4,528.35L161.65,528.26L161.9,528.17L162.15,528.07L162.4,527.97L162.65,527.86L162.9,527.75L163.15,527.64L163.4,527.52L163.65,527.4L163.9,527.28L164.15,527.16L164.4,527.03L164.65,526.91L164.9,526.78L165.15,526.66L165.4,526.54L165.65,526.41L165.9,526.29L166.15,526.17L166.4,526.05L166.65,525.93L166.9,525.8L167.15,525.66L167.4,525.51L167.65,525.36L167.9,525.2L168.15,525.03L168.4,524.86L168.65,524.69L168.9,524.51L169.15,524.33L169.4,524.15L169.65,523.97L169.9,523.78L170.15,523.59L170.4,523.4L170.65,523.22L170.9,523.03L171.15,522.84L171.4,522.66L171.65,522.47L171.9,522.29L172.15,522.12L172.4,521.94L172.65,521.77L172.9,521.61L173.15,521.45L173.4,521.3L173.65,521.15L173.9,521.01L174.15,520.88L174.4,520.75L174.65,520.62L174.9,520.49L175.15,520.36L175.4,520.22L175.65,520.09L175.9,519.95L176.15,519.81L176.4,519.68L176.65,519.54L176.9,519.41L177.15,519.28L177.4,519.16L177.65,519.03L177.9,518.92L178.15,518.8L178.4,518.7L178.65,518.6L178.9,518.5L179.15,518.42L179.4,518.34L179.65,518.28L179.9,518.22L180.15,518.17L180.4,518.14L180.65,518.11L180.9,518.1L181.15,518.1L181.4,518.1L181.65,518.11L181.9,518.12L182.15,518.13L182.4,518.15L182.65,518.17L182.9,518.2L183.15,518.23L183.4,518.27L183.65,518.31L183.9,518.36L184.15,518.42L184.4,518.48L184.65,518.55L184.9,518.62L185.15,518.71L185.4,518.8" fill="none" stroke="#e23b47" stroke-width="1.4" stroke-linejoin="round"/><path d="M113.6,605.5H137.6" stroke="#3d84c6" stroke-width="1.4"/><text x="141" y="609.5" font-size="10.7" text-anchor="start" fill="#3d84c6" >Rh/In<tspan font-size="7" dy="2.6">2</tspan><tspan dy="-2.6">O</tspan><tspan font-size="7" dy="2.6">3</tspan></text><path d="M113.6,621.9H137.6" stroke="#e23b47" stroke-width="1.4"/><text x="141" y="625.9" font-size="10.7" text-anchor="start" fill="#e23b47" >In<tspan font-size="7" dy="2.6">2</tspan><tspan dy="-2.6">O</tspan><tspan font-size="7" dy="2.6">3</tspan></text><path d="M113.6,638.1H137.6" stroke="#fdd32e" stroke-width="1.4"/><text x="141" y="642.1" font-size="10.7" text-anchor="start" fill="#fdd32e" >In foil</text><path d="M236.5,461V650.4H383.5V461H236.5" fill="none" stroke="#333333" stroke-width="1"/><path d="M236.5,644.3h-4.1M236.5,607.62h-4.1M236.5,570.95h-4.1M236.5,534.27h-4.1M236.5,497.6h-4.1M236.5,460.92h-4.1M236.5,625.96h-2.4M236.5,589.29h-2.4M236.5,552.61h-2.4M236.5,515.94h-2.4M236.5,479.26h-2.4" stroke="#333333" stroke-width="1" fill="none"/><path d="M242.5,650.4v3.4M287.43,650.4v3.4M332.37,650.4v3.4M377.3,650.4v3.4M264.97,650.4v2.2M309.9,650.4v2.2M354.83,650.4v2.2" stroke="#333333" stroke-width="1" fill="none"/><text x="230.3" y="647.7" font-size="10.7" text-anchor="end" fill="#111111" >0.0</text><text x="230.3" y="611.02" font-size="10.7" text-anchor="end" fill="#111111" >0.3</text><text x="230.3" y="574.35" font-size="10.7" text-anchor="end" fill="#111111" >0.6</text><text x="230.3" y="537.67" font-size="10.7" text-anchor="end" fill="#111111" >0.9</text><text x="230.3" y="501" font-size="10.7" text-anchor="end" fill="#111111" >1.2</text><text x="230.3" y="464.32" font-size="10.7" text-anchor="end" fill="#111111" >1.5</text><text x="242.5" y="665" font-size="10.7" text-anchor="middle" fill="#111111" >23,170</text><text x="287.43" y="665" font-size="10.7" text-anchor="middle" fill="#111111" >23,240</text><text x="332.37" y="665" font-size="10.7" text-anchor="middle" fill="#111111" >23,310</text><text x="377.3" y="665" font-size="10.7" text-anchor="middle" fill="#111111" >23,380</text><text x="309.5" y="681.9" font-size="10.7" text-anchor="middle" fill="#111111" >Photon energy (eV)</text><text transform="translate(206.2,547.4) rotate(-90)" font-size="10.75" text-anchor="middle" fill="#111111">Normalized absorption (arb. units)</text><text x="239.6" y="474.3" font-size="10.7" text-anchor="start" fill="#111111" >Rh K-edge</text><path d="M236.3,644L236.55,644L236.8,644L237.05,643.99L237.3,643.99L237.55,643.98L237.8,643.98L238.05,643.97L238.3,643.96L238.55,643.95L238.8,643.94L239.05,643.93L239.3,643.92L239.55,643.9L239.8,643.89L240.05,643.87L240.3,643.85L240.55,643.83L240.8,643.82L241.05,643.8L241.3,643.77L241.55,643.75L241.8,643.73L242.05,643.71L242.3,643.68L242.55,643.66L242.8,643.63L243.05,643.6L243.3,643.57L243.55,643.54L243.8,643.52L244.05,643.48L244.3,643.45L244.55,643.42L244.8,643.39L245.05,643.36L245.3,643.32L245.55,643.29L245.8,643.25L246.05,643.22L246.3,643.18L246.55,643.14L246.8,643.1L247.05,643.07L247.3,643.03L247.55,642.99L247.8,642.95L248.05,642.91L248.3,642.87L248.55,642.83L248.8,642.78L249.05,642.74L249.3,642.7L249.55,642.66L249.8,642.61L250.05,642.57L250.3,642.52L250.55,642.48L250.8,642.43L251.05,642.39L251.3,642.34L251.55,642.3L251.8,642.25L252.05,642.2L252.3,642.16L252.55,642.11L252.8,642.06L253.05,642.01L253.3,641.97L253.55,641.92L253.8,641.87L254.05,641.82L254.3,641.77L254.55,641.73L254.8,641.68L255.05,641.63L255.3,641.58L255.55,641.53L255.8,641.48L256.05,641.43L256.3,641.38L256.55,641.33L256.8,641.27L257.05,641.22L257.3,641.16L257.55,641.1L257.8,641.05L258.05,640.99L258.3,640.92L258.55,640.86L258.8,640.79L259.05,640.72L259.3,640.65L259.55,640.58L259.8,640.51L260.05,640.43L260.3,640.35L260.55,640.27L260.8,640.18L261.05,640.09L261.3,640L261.55,639.91L261.8,639.81L262.05,639.71L262.3,639.61L262.55,639.5L262.8,639.39L263.05,639.27L263.3,639.15L263.55,639.03L263.8,638.91L264.05,638.78L264.3,638.64L264.55,638.5L264.8,638.36L265.05,638.21L265.3,638.04L265.55,637.84L265.8,637.62L266.05,637.38L266.3,637.12L266.55,636.83L266.8,636.52L267.05,636.19L267.3,635.84L267.55,635.46L267.8,635.05L268.05,634.63L268.3,634.18L268.55,633.7L268.8,633.21L269.05,632.66L269.3,631.97L269.55,631.14L269.8,630.2L270.05,629.16L270.3,628.06L270.55,626.91L270.8,625.74L271.05,624.56L271.3,623.4L271.55,622.24L271.8,621.04L272.05,619.81L272.3,618.53L272.55,617.22L272.8,615.86L273.05,614.46L273.3,613.01L273.55,611.52L273.8,609.97L274.05,608.35L274.3,606.64L274.55,604.87L274.8,603.03L275.05,601.15L275.3,599.22L275.55,597.27L275.8,595.29L276.05,593.3L276.3,591.29L276.55,589.25L276.8,587.17L277.05,585.05L277.3,582.9L277.55,580.71L277.8,578.49L278.05,576.24L278.3,573.95L278.55,571.63L278.8,569.24L279.05,566.77L279.3,564.25L279.55,561.68L279.8,559.1L280.05,556.51L280.3,553.95L280.55,551.43L280.8,548.96L281.05,546.56L281.3,544.17L281.55,541.81L281.8,539.5L282.05,537.28L282.3,535.14L282.55,532.87L282.8,530.65L283.05,528.77L283.3,527.5L283.55,526.65L283.8,525.88L284.05,525.25L284.3,524.8L284.55,524.61L284.8,524.62L285.05,524.67L285.3,524.77L285.55,524.88L285.8,525.05L286.05,525.39L286.3,525.87L286.55,526.45L286.8,527.1L287.05,527.79L287.3,528.49L287.55,529.17L287.8,529.79L288.05,530.33L288.3,530.77L288.55,531.19L288.8,531.63L289.05,532.07L289.3,532.5L289.55,532.9L289.8,533.26L290.05,533.58L290.3,533.83L290.55,534L290.8,534.09L291.05,534.08L291.3,533.97L291.55,533.78L291.8,533.51L292.05,533.18L292.3,532.79L292.55,532.37L292.8,531.91L293.05,531.45L293.3,530.97L293.55,530.51L293.8,529.99L294.05,529.39L294.3,528.73L294.55,528.01L294.8,527.25L295.05,526.45L295.3,525.63L295.55,524.79L295.8,523.94L296.05,523.1L296.3,522.26L296.55,521.35L296.8,520.37L297.05,519.34L297.3,518.29L297.55,517.24L297.8,516.22L298.05,515.25L298.3,514.36L298.55,513.57L298.8,512.9L299.05,512.29L299.3,511.68L299.55,511.07L299.8,510.49L300.05,509.95L300.3,509.48L300.55,509.07L300.8,508.77L301.05,508.57L301.3,508.5L301.55,508.59L301.8,508.85L302.05,509.24L302.3,509.74L302.55,510.32L302.8,510.95L303.05,511.61L303.3,512.28L303.55,513.09L303.8,514.05L304.05,515.14L304.3,516.33L304.55,517.6L304.8,518.92L305.05,520.28L305.3,521.99L305.55,523.97L305.8,525.95L306.05,527.65L306.3,528.8L306.55,529.56L306.8,530.27L307.05,530.91L307.3,531.46L307.55,531.88L307.8,532.17L308.05,532.3L308.3,532.24L308.55,532L308.8,531.62L309.05,531.15L309.3,530.62L309.55,530.08L309.8,529.57L310.05,529.13L310.3,528.8L310.55,528.54L310.8,528.3L311.05,528.06L311.3,527.83L311.55,527.61L311.8,527.41L312.05,527.21L312.3,527.03L312.55,526.86L312.8,526.7L313.05,526.55L313.3,526.42L313.55,526.3L313.8,526.2L314.05,526.11L314.3,526.02L314.55,525.94L314.8,525.86L315.05,525.78L315.3,525.71L315.55,525.65L315.8,525.59L316.05,525.53L316.3,525.48L316.55,525.43L316.8,525.38L317.05,525.34L317.3,525.3L317.55,525.27L317.8,525.24L318.05,525.21L318.3,525.19L318.55,525.17L318.8,525.15L319.05,525.13L319.3,525.11L319.55,525.08L319.8,525.04L320.05,524.99L320.3,524.87L320.55,524.67L320.8,524.39L321.05,524.06L321.3,523.66L321.55,523.23L321.8,522.77L322.05,522.29L322.3,521.8L322.55,521.32L322.8,520.85L323.05,520.41L323.3,520L323.55,519.59L323.8,519.14L324.05,518.66L324.3,518.15L324.55,517.63L324.8,517.11L325.05,516.6L325.3,516.1L325.55,515.63L325.8,515.2L326.05,514.81L326.3,514.48L326.55,514.21L326.8,514.02L327.05,513.92L327.3,513.9L327.55,513.96L327.8,514.06L328.05,514.22L328.3,514.41L328.55,514.64L328.8,514.91L329.05,515.19L329.3,515.5L329.55,515.82L329.8,516.15L330.05,516.49L330.3,516.82L330.55,517.14L330.8,517.45L331.05,517.74L331.3,518.03L331.55,518.33L331.8,518.65L332.05,518.99L332.3,519.34L332.55,519.69L332.8,520.05L333.05,520.41L333.3,520.77L333.55,521.12L333.8,521.46L334.05,521.79L334.3,522.1L334.55,522.39L334.8,522.65L335.05,522.89L335.3,523.1L335.55,523.27L335.8,523.42L336.05,523.56L336.3,523.71L336.55,523.85L336.8,523.98L337.05,524.11L337.3,524.24L337.55,524.36L337.8,524.47L338.05,524.58L338.3,524.67L338.55,524.76L338.8,524.83L339.05,524.89L339.3,524.94L339.55,524.97L339.8,524.99L340.05,525L340.3,524.99L340.55,524.97L340.8,524.95L341.05,524.91L341.3,524.86L341.55,524.81L341.8,524.75L342.05,524.68L342.3,524.61L342.55,524.52L342.8,524.44L343.05,524.35L343.3,524.25L343.55,524.16L343.8,524.06L344.05,523.95L344.3,523.85L344.55,523.74L344.8,523.64L345.05,523.53L345.3,523.43L345.55,523.32L345.8,523.21L346.05,523.09L346.3,522.95L346.55,522.8L346.8,522.64L347.05,522.47L347.3,522.29L347.55,522.11L347.8,521.91L348.05,521.71L348.3,521.51L348.55,521.31L348.8,521.11L349.05,520.9L349.3,520.7L349.55,520.5L349.8,520.3L350.05,520.12L350.3,519.93L350.55,519.76L350.8,519.59L351.05,519.44L351.3,519.29L351.55,519.17L351.8,519.05L352.05,518.95L352.3,518.87L352.55,518.79L352.8,518.71L353.05,518.63L353.3,518.55L353.55,518.47L353.8,518.4L354.05,518.33L354.3,518.25L354.55,518.18L354.8,518.12L355.05,518.05L355.3,517.99L355.55,517.94L355.8,517.88L356.05,517.83L356.3,517.79L356.55,517.74L356.8,517.71L357.05,517.68L357.3,517.65L357.55,517.63L357.8,517.61L358.05,517.6L358.3,517.6L358.55,517.61L358.8,517.64L359.05,517.68L359.3,517.74L359.55,517.81L359.8,517.9L360.05,518L360.3,518.11L360.55,518.23L360.8,518.36L361.05,518.5L361.3,518.65L361.55,518.81L361.8,518.97L362.05,519.13L362.3,519.3L362.55,519.48L362.8,519.65L363.05,519.83L363.3,520L363.55,520.2L363.8,520.45L364.05,520.74L364.3,521.06L364.55,521.41L364.8,521.78L365.05,522.17L365.3,522.56L365.55,522.96L365.8,523.35L366.05,523.74L366.3,524.1L366.55,524.45L366.8,524.76L367.05,525.04L367.3,525.28L367.55,525.47L367.8,525.6L368.05,525.7L368.3,525.8L368.55,525.9L368.8,525.99L369.05,526.08L369.3,526.17L369.55,526.25L369.8,526.32L370.05,526.39L370.3,526.46L370.55,526.51L370.8,526.56L371.05,526.61L371.3,526.64L371.55,526.67L371.8,526.69L372.05,526.7L372.3,526.7L372.55,526.67L372.8,526.63L373.05,526.56L373.3,526.47L373.55,526.36L373.8,526.23L374.05,526.09L374.3,525.94L374.55,525.77L374.8,525.59L375.05,525.41L375.3,525.21L375.55,525.02L375.8,524.82L376.05,524.61L376.3,524.41L376.55,524.21L376.8,524.02L377.05,523.82L377.3,523.64L377.55,523.46L377.8,523.3L378.05,523.14L378.3,522.98L378.55,522.82L378.8,522.66L379.05,522.5L379.3,522.33L379.55,522.17L379.8,522.01L380.05,521.84L380.3,521.68L380.55,521.51L380.8,521.34L381.05,521.18L381.3,521.01L381.55,520.84L381.8,520.67L382.05,520.5L382.3,520.33L382.55,520.16L382.8,519.99L383.05,519.81L383.3,519.64" fill="none" stroke="#fdd32e" stroke-width="1.4" stroke-linejoin="round"/><path d="M236.3,644L236.55,644L236.8,644L237.05,643.99L237.3,643.99L237.55,643.98L237.8,643.97L238.05,643.96L238.3,643.96L238.55,643.94L238.8,643.93L239.05,643.92L239.3,643.91L239.55,643.89L239.8,643.88L240.05,643.86L240.3,643.84L240.55,643.83L240.8,643.81L241.05,643.79L241.3,643.77L241.55,643.74L241.8,643.72L242.05,643.7L242.3,643.67L242.55,643.65L242.8,643.62L243.05,643.6L243.3,643.57L243.55,643.54L243.8,643.51L244.05,643.48L244.3,643.45L244.55,643.42L244.8,643.39L245.05,643.36L245.3,643.33L245.55,643.29L245.8,643.26L246.05,643.23L246.3,643.19L246.55,643.16L246.8,643.12L247.05,643.08L247.3,643.05L247.55,643.01L247.8,642.97L248.05,642.93L248.3,642.89L248.55,642.85L248.8,642.81L249.05,642.77L249.3,642.73L249.55,642.69L249.8,642.65L250.05,642.61L250.3,642.57L250.55,642.52L250.8,642.48L251.05,642.44L251.3,642.4L251.55,642.35L251.8,642.31L252.05,642.26L252.3,642.22L252.55,642.18L252.8,642.13L253.05,642.09L253.3,642.04L253.55,642L253.8,641.95L254.05,641.91L254.3,641.86L254.55,641.82L254.8,641.77L255.05,641.73L255.3,641.68L255.55,641.64L255.8,641.59L256.05,641.54L256.3,641.49L256.55,641.44L256.8,641.39L257.05,641.34L257.3,641.29L257.55,641.23L257.8,641.17L258.05,641.12L258.3,641.06L258.55,641L258.8,640.94L259.05,640.87L259.3,640.81L259.55,640.74L259.8,640.67L260.05,640.6L260.3,640.53L260.55,640.46L260.8,640.38L261.05,640.3L261.3,640.22L261.55,640.14L261.8,640.05L262.05,639.97L262.3,639.88L262.55,639.79L262.8,639.69L263.05,639.6L263.3,639.5L263.55,639.4L263.8,639.29L264.05,639.18L264.3,639.07L264.55,638.96L264.8,638.85L265.05,638.73L265.3,638.6L265.55,638.46L265.8,638.32L266.05,638.16L266.3,637.99L266.55,637.82L266.8,637.63L267.05,637.43L267.3,637.22L267.55,637L267.8,636.77L268.05,636.52L268.3,636.27L268.55,636L268.8,635.72L269.05,635.43L269.3,635.12L269.55,634.8L269.8,634.46L270.05,634.07L270.3,633.63L270.55,633.14L270.8,632.6L271.05,632.01L271.3,631.39L271.55,630.72L271.8,630.02L272.05,629.29L272.3,628.52L272.55,627.74L272.8,626.93L273.05,626.09L273.3,625.16L273.55,624.15L273.8,623.07L274.05,621.92L274.3,620.71L274.55,619.44L274.8,618.13L275.05,616.78L275.3,615.4L275.55,613.99L275.8,612.53L276.05,611.01L276.3,609.42L276.55,607.72L276.8,605.91L277.05,603.97L277.3,601.88L277.55,599.59L277.8,596.99L278.05,594.09L278.3,590.95L278.55,587.61L278.8,584.12L279.05,580.54L279.3,576.9L279.55,573.05L279.8,568.89L280.05,564.55L280.3,560.16L280.55,555.84L280.8,551.63L281.05,547.44L281.3,543.4L281.55,539.43L281.8,535.52L282.05,531.73L282.3,528.08L282.55,524.62L282.8,521.04L283.05,517.44L283.3,514.09L283.55,511.32L283.8,509.4L284.05,508.09L284.3,506.94L284.55,505.94L284.8,505.08L285.05,504.35L285.3,503.76L285.55,503.28L285.8,502.89L286.05,502.51L286.3,502.16L286.55,501.84L286.8,501.56L287.05,501.33L287.3,501.15L287.55,501.04L287.8,501L288.05,501.02L288.3,501.08L288.55,501.18L288.8,501.32L289.05,501.48L289.3,501.67L289.55,501.88L289.8,502.1L290.05,502.34L290.3,502.59L290.55,502.84L290.8,503.1L291.05,503.36L291.3,503.64L291.55,503.96L291.8,504.31L292.05,504.7L292.3,505.12L292.55,505.57L292.8,506.05L293.05,506.57L293.3,507.13L293.55,507.72L293.8,508.43L294.05,509.28L294.3,510.23L294.55,511.28L294.8,512.38L295.05,513.52L295.3,514.68L295.55,515.83L295.8,516.95L296.05,518.11L296.3,519.31L296.55,520.55L296.8,521.8L297.05,523.06L297.3,524.31L297.55,525.55L297.8,526.87L298.05,528.27L298.3,529.69L298.55,531.06L298.8,532.29L299.05,533.33L299.3,534.1L299.55,534.7L299.8,535.29L300.05,535.84L300.3,536.34L300.55,536.77L300.8,537.13L301.05,537.4L301.3,537.56L301.55,537.6L301.8,537.54L302.05,537.41L302.3,537.22L302.55,536.97L302.8,536.69L303.05,536.37L303.3,536.04L303.55,535.71L303.8,535.38L304.05,535.06L304.3,534.75L304.55,534.41L304.8,534.04L305.05,533.65L305.3,533.24L305.55,532.82L305.8,532.39L306.05,531.97L306.3,531.55L306.55,531.15L306.8,530.76L307.05,530.39L307.3,530.06L307.55,529.76L307.8,529.48L308.05,529.22L308.3,528.96L308.55,528.72L308.8,528.48L309.05,528.25L309.3,528.02L309.55,527.81L309.8,527.6L310.05,527.4L310.3,527.21L310.55,527.03L310.8,526.86L311.05,526.7L311.3,526.54L311.55,526.4L311.8,526.27L312.05,526.16L312.3,526.05L312.55,525.94L312.8,525.83L313.05,525.72L313.3,525.59L313.55,525.46L313.8,525.3L314.05,525.12L314.3,524.93L314.55,524.71L314.8,524.48L315.05,524.24L315.3,523.98L315.55,523.71L315.8,523.43L316.05,523.15L316.3,522.86L316.55,522.57L316.8,522.28L317.05,521.99L317.3,521.7L317.55,521.41L317.8,521.11L318.05,520.8L318.3,520.48L318.55,520.16L318.8,519.83L319.05,519.51L319.3,519.18L319.55,518.86L319.8,518.55L320.05,518.24L320.3,517.92L320.55,517.6L320.8,517.27L321.05,516.94L321.3,516.6L321.55,516.27L321.8,515.95L322.05,515.64L322.3,515.35L322.55,515.08L322.8,514.82L323.05,514.6L323.3,514.4L323.55,514.22L323.8,514.03L324.05,513.85L324.3,513.67L324.55,513.5L324.8,513.33L325.05,513.17L325.3,513.02L325.55,512.88L325.8,512.76L326.05,512.65L326.3,512.55L326.55,512.48L326.8,512.43L327.05,512.4L327.3,512.4L327.55,512.44L327.8,512.51L328.05,512.61L328.3,512.74L328.55,512.89L328.8,513.06L329.05,513.25L329.3,513.45L329.55,513.67L329.8,513.89L330.05,514.11L330.3,514.33L330.55,514.55L330.8,514.76L331.05,514.96L331.3,515.15L331.55,515.36L331.8,515.57L332.05,515.78L332.3,516.01L332.55,516.24L332.8,516.47L333.05,516.71L333.3,516.95L333.55,517.19L333.8,517.43L334.05,517.67L334.3,517.91L334.55,518.15L334.8,518.39L335.05,518.62L335.3,518.85L335.55,519.08L335.8,519.29L336.05,519.5L336.3,519.7L336.55,519.89L336.8,520.07L337.05,520.25L337.3,520.44L337.55,520.62L337.8,520.8L338.05,520.99L338.3,521.17L338.55,521.35L338.8,521.53L339.05,521.7L339.3,521.87L339.55,522.03L339.8,522.19L340.05,522.35L340.3,522.49L340.55,522.63L340.8,522.76L341.05,522.88L341.3,522.99L341.55,523.09L341.8,523.18L342.05,523.26L342.3,523.33L342.55,523.39L342.8,523.45L343.05,523.51L343.3,523.57L343.55,523.63L343.8,523.69L344.05,523.74L344.3,523.79L344.55,523.84L344.8,523.89L345.05,523.94L345.3,523.98L345.55,524.02L345.8,524.05L346.05,524.09L346.3,524.12L346.55,524.14L346.8,524.16L347.05,524.18L347.3,524.19L347.55,524.2L347.8,524.2L348.05,524.2L348.3,524.2L348.55,524.19L348.8,524.19L349.05,524.18L349.3,524.17L349.55,524.16L349.8,524.15L350.05,524.14L350.3,524.12L350.55,524.11L350.8,524.09L351.05,524.08L351.3,524.06L351.55,524.04L351.8,524.02L352.05,524L352.3,523.98L352.55,523.96L352.8,523.94L353.05,523.92L353.3,523.9L353.55,523.88L353.8,523.85L354.05,523.82L354.3,523.78L354.55,523.74L354.8,523.69L355.05,523.65L355.3,523.59L355.55,523.54L355.8,523.48L356.05,523.42L356.3,523.36L356.55,523.3L356.8,523.23L357.05,523.16L357.3,523.09L357.55,523.02L357.8,522.95L358.05,522.87L358.3,522.8L358.55,522.73L358.8,522.65L359.05,522.57L359.3,522.5L359.55,522.42L359.8,522.35L360.05,522.28L360.3,522.2L360.55,522.13L360.8,522.06L361.05,521.99L361.3,521.92L361.55,521.86L361.8,521.8L362.05,521.74L362.3,521.68L362.55,521.62L362.8,521.56L363.05,521.51L363.3,521.45L363.55,521.4L363.8,521.35L364.05,521.3L364.3,521.24L364.55,521.19L364.8,521.14L365.05,521.09L365.3,521.04L365.55,520.99L365.8,520.94L366.05,520.88L366.3,520.83L366.55,520.78L366.8,520.73L367.05,520.68L367.3,520.62L367.55,520.57L367.8,520.52L368.05,520.46L368.3,520.41L368.55,520.35L368.8,520.29L369.05,520.23L369.3,520.17L369.55,520.11L369.8,520.05L370.05,519.99L370.3,519.92L370.55,519.84L370.8,519.76L371.05,519.67L371.3,519.57L371.55,519.47L371.8,519.37L372.05,519.27L372.3,519.17L372.55,519.07L372.8,518.97L373.05,518.87L373.3,518.78L373.55,518.69L373.8,518.61L374.05,518.54L374.3,518.47L374.55,518.42L374.8,518.37L375.05,518.33L375.3,518.31L375.55,518.3L375.8,518.3L376.05,518.3L376.3,518.3L376.55,518.3L376.8,518.3L377.05,518.3L377.3,518.3L377.55,518.3L377.8,518.3L378.05,518.3L378.3,518.3L378.55,518.3L378.8,518.3L379.05,518.3L379.3,518.3L379.55,518.3L379.8,518.3L380.05,518.3L380.3,518.3L380.55,518.3L380.8,518.3L381.05,518.3L381.3,518.3L381.55,518.3L381.8,518.3L382.05,518.3L382.3,518.3L382.55,518.3L382.8,518.3L383.05,518.3L383.3,518.3" fill="none" stroke="#3d84c6" stroke-width="1.4" stroke-linejoin="round"/><path d="M236.3,644L236.55,643.99L236.8,643.99L237.05,643.98L237.3,643.97L237.55,643.96L237.8,643.95L238.05,643.94L238.3,643.93L238.55,643.92L238.8,643.91L239.05,643.89L239.3,643.88L239.55,643.86L239.8,643.85L240.05,643.83L240.3,643.81L240.55,643.79L240.8,643.78L241.05,643.76L241.3,643.74L241.55,643.71L241.8,643.69L242.05,643.67L242.3,643.65L242.55,643.63L242.8,643.6L243.05,643.58L243.3,643.55L243.55,643.53L243.8,643.5L244.05,643.47L244.3,643.45L244.55,643.42L244.8,643.39L245.05,643.36L245.3,643.33L245.55,643.3L245.8,643.27L246.05,643.24L246.3,643.21L246.55,643.18L246.8,643.15L247.05,643.11L247.3,643.08L247.55,643.05L247.8,643.01L248.05,642.98L248.3,642.95L248.55,642.91L248.8,642.88L249.05,642.84L249.3,642.81L249.55,642.77L249.8,642.73L250.05,642.7L250.3,642.66L250.55,642.62L250.8,642.59L251.05,642.55L251.3,642.51L251.55,642.47L251.8,642.43L252.05,642.4L252.3,642.36L252.55,642.32L252.8,642.28L253.05,642.24L253.3,642.2L253.55,642.16L253.8,642.12L254.05,642.08L254.3,642.04L254.55,642L254.8,641.96L255.05,641.92L255.3,641.88L255.55,641.84L255.8,641.8L256.05,641.76L256.3,641.72L256.55,641.68L256.8,641.63L257.05,641.59L257.3,641.54L257.55,641.5L257.8,641.45L258.05,641.4L258.3,641.35L258.55,641.3L258.8,641.25L259.05,641.2L259.3,641.14L259.55,641.09L259.8,641.03L260.05,640.98L260.3,640.92L260.55,640.86L260.8,640.79L261.05,640.73L261.3,640.66L261.55,640.6L261.8,640.53L262.05,640.46L262.3,640.38L262.55,640.31L262.8,640.23L263.05,640.15L263.3,640.07L263.55,639.99L263.8,639.9L264.05,639.81L264.3,639.73L264.55,639.63L264.8,639.54L265.05,639.44L265.3,639.34L265.55,639.22L265.8,639.1L266.05,638.97L266.3,638.83L266.55,638.69L266.8,638.54L267.05,638.38L267.3,638.21L267.55,638.03L267.8,637.85L268.05,637.66L268.3,637.46L268.55,637.26L268.8,637.04L269.05,636.82L269.3,636.6L269.55,636.36L269.8,636.12L270.05,635.87L270.3,635.61L270.55,635.35L270.8,635.07L271.05,634.77L271.3,634.45L271.55,634.11L271.8,633.75L272.05,633.37L272.3,632.96L272.55,632.53L272.8,632.07L273.05,631.58L273.3,631.07L273.55,630.53L273.8,629.96L274.05,629.36L274.3,628.73L274.55,628.06L274.8,627.3L275.05,626.41L275.3,625.4L275.55,624.3L275.8,623.1L276.05,621.82L276.3,620.47L276.55,619.06L276.8,617.6L277.05,616.08L277.3,614.43L277.55,612.64L277.8,610.69L278.05,608.55L278.3,606.22L278.55,603.66L278.8,600.59L279.05,597.01L279.3,593.07L279.55,588.96L279.8,584.83L280.05,580.86L280.3,577.07L280.55,573.25L280.8,569.43L281.05,565.62L281.3,561.85L281.55,558.17L281.8,554.59L282.05,551.18L282.3,547.8L282.55,544.28L282.8,540.55L283.05,536.7L283.3,532.82L283.55,528.99L283.8,525.3L284.05,521.56L284.3,517.69L284.55,513.97L284.8,510.65L285.05,508.02L285.3,506.04L285.55,504.24L285.8,502.66L286.05,501.32L286.3,500.29L286.55,499.58L286.8,499.02L287.05,498.51L287.3,498.08L287.55,497.75L287.8,497.55L288.05,497.5L288.3,497.62L288.55,497.88L288.8,498.26L289.05,498.73L289.3,499.25L289.55,499.8L289.8,500.36L290.05,500.88L290.3,501.34L290.55,501.73L290.8,502.09L291.05,502.43L291.3,502.76L291.55,503.08L291.8,503.4L292.05,503.72L292.3,504.05L292.55,504.4L292.8,504.76L293.05,505.14L293.3,505.55L293.55,505.99L293.8,506.47L294.05,506.98L294.3,507.52L294.55,508.1L294.8,508.72L295.05,509.36L295.3,510.04L295.55,510.76L295.8,511.51L296.05,512.33L296.3,513.24L296.55,514.2L296.8,515.21L297.05,516.26L297.3,517.33L297.55,518.42L297.8,519.6L298.05,520.89L298.3,522.23L298.55,523.56L298.8,524.83L299.05,526L299.3,527L299.55,527.89L299.8,528.76L300.05,529.58L300.3,530.37L300.55,531.1L300.8,531.76L301.05,532.35L301.3,532.86L301.55,533.28L301.8,533.66L302.05,534.04L302.3,534.41L302.55,534.76L302.8,535.09L303.05,535.39L303.3,535.65L303.55,535.88L303.8,536.07L304.05,536.2L304.3,536.28L304.55,536.3L304.8,536.28L305.05,536.24L305.3,536.17L305.55,536.08L305.8,535.97L306.05,535.85L306.3,535.71L306.55,535.55L306.8,535.39L307.05,535.21L307.3,535.03L307.55,534.84L307.8,534.65L308.05,534.45L308.3,534.26L308.55,534.06L308.8,533.85L309.05,533.6L309.3,533.33L309.55,533.04L309.8,532.74L310.05,532.41L310.3,532.07L310.55,531.73L310.8,531.38L311.05,531.02L311.3,530.67L311.55,530.31L311.8,529.97L312.05,529.63L312.3,529.29L312.55,528.94L312.8,528.59L313.05,528.22L313.3,527.85L313.55,527.48L313.8,527.11L314.05,526.73L314.3,526.36L314.55,525.99L314.8,525.62L315.05,525.26L315.3,524.91L315.55,524.57L315.8,524.24L316.05,523.92L316.3,523.62L316.55,523.33L316.8,523.05L317.05,522.78L317.3,522.52L317.55,522.27L317.8,522.02L318.05,521.77L318.3,521.54L318.55,521.3L318.8,521.07L319.05,520.84L319.3,520.61L319.55,520.38L319.8,520.15L320.05,519.91L320.3,519.68L320.55,519.44L320.8,519.2L321.05,518.95L321.3,518.69L321.55,518.41L321.8,518.14L322.05,517.87L322.3,517.6L322.55,517.35L322.8,517.11L323.05,516.89L323.3,516.7L323.55,516.52L323.8,516.34L324.05,516.17L324.3,515.99L324.55,515.81L324.8,515.64L325.05,515.47L325.3,515.31L325.55,515.16L325.8,515.01L326.05,514.88L326.3,514.76L326.55,514.66L326.8,514.57L327.05,514.5L327.3,514.44L327.55,514.41L327.8,514.4L328.05,514.41L328.3,514.44L328.55,514.48L328.8,514.54L329.05,514.62L329.3,514.7L329.55,514.8L329.8,514.91L330.05,515.02L330.3,515.14L330.55,515.27L330.8,515.4L331.05,515.52L331.3,515.65L331.55,515.78L331.8,515.91L332.05,516.03L332.3,516.15L332.55,516.27L332.8,516.39L333.05,516.52L333.3,516.65L333.55,516.79L333.8,516.93L334.05,517.07L334.3,517.22L334.55,517.37L334.8,517.52L335.05,517.68L335.3,517.83L335.55,517.99L335.8,518.14L336.05,518.3L336.3,518.46L336.55,518.61L336.8,518.77L337.05,518.92L337.3,519.08L337.55,519.23L337.8,519.38L338.05,519.52L338.3,519.67L338.55,519.81L338.8,519.95L339.05,520.08L339.3,520.22L339.55,520.35L339.8,520.49L340.05,520.63L340.3,520.77L340.55,520.92L340.8,521.06L341.05,521.2L341.3,521.34L341.55,521.48L341.8,521.62L342.05,521.75L342.3,521.89L342.55,522.02L342.8,522.15L343.05,522.28L343.3,522.4L343.55,522.52L343.8,522.63L344.05,522.74L344.3,522.85L344.55,522.95L344.8,523.04L345.05,523.13L345.3,523.21L345.55,523.29L345.8,523.36L346.05,523.43L346.3,523.5L346.55,523.57L346.8,523.64L347.05,523.71L347.3,523.78L347.55,523.84L347.8,523.91L348.05,523.97L348.3,524.03L348.55,524.09L348.8,524.14L349.05,524.19L349.3,524.23L349.55,524.28L349.8,524.31L350.05,524.34L350.3,524.36L350.55,524.38L350.8,524.39L351.05,524.4L351.3,524.4L351.55,524.39L351.8,524.39L352.05,524.38L352.3,524.37L352.55,524.35L352.8,524.33L353.05,524.32L353.3,524.29L353.55,524.27L353.8,524.25L354.05,524.22L354.3,524.19L354.55,524.17L354.8,524.14L355.05,524.11L355.3,524.08L355.55,524.04L355.8,524.01L356.05,523.98L356.3,523.95L356.55,523.92L356.8,523.89L357.05,523.85L357.3,523.82L357.55,523.78L357.8,523.73L358.05,523.69L358.3,523.64L358.55,523.59L358.8,523.54L359.05,523.49L359.3,523.43L359.55,523.37L359.8,523.32L360.05,523.26L360.3,523.2L360.55,523.13L360.8,523.07L361.05,523.01L361.3,522.95L361.55,522.88L361.8,522.82L362.05,522.76L362.3,522.69L362.55,522.63L362.8,522.57L363.05,522.51L363.3,522.45L363.55,522.39L363.8,522.33L364.05,522.28L364.3,522.22L364.55,522.17L364.8,522.11L365.05,522.06L365.3,522.01L365.55,521.95L365.8,521.9L366.05,521.84L366.3,521.79L366.55,521.73L366.8,521.68L367.05,521.62L367.3,521.57L367.55,521.52L367.8,521.46L368.05,521.41L368.3,521.36L368.55,521.3L368.8,521.25L369.05,521.2L369.3,521.15L369.55,521.09L369.8,521.04L370.05,520.99L370.3,520.95L370.55,520.9L370.8,520.85L371.05,520.8L371.3,520.76L371.55,520.71L371.8,520.67L372.05,520.63L372.3,520.58L372.55,520.54L372.8,520.5L373.05,520.46L373.3,520.42L373.55,520.38L373.8,520.34L374.05,520.3L374.3,520.26L374.55,520.23L374.8,520.19L375.05,520.15L375.3,520.12L375.55,520.08L375.8,520.05L376.05,520.01L376.3,519.98L376.55,519.95L376.8,519.92L377.05,519.89L377.3,519.86L377.55,519.83L377.8,519.8L378.05,519.77L378.3,519.75L378.55,519.72L378.8,519.69L379.05,519.67L379.3,519.64L379.55,519.62L379.8,519.59L380.05,519.57L380.3,519.55L380.55,519.52L380.8,519.5L381.05,519.48L381.3,519.46L381.55,519.44L381.8,519.42L382.05,519.4L382.3,519.38L382.55,519.36L382.8,519.34L383.05,519.33L383.3,519.31" fill="none" stroke="#e23b47" stroke-width="1.4" stroke-linejoin="round"/><path d="M312.4,605.0H333.8" stroke="#3d84c6" stroke-width="1.4"/><text x="338.6" y="609" font-size="10.7" text-anchor="start" fill="#3d84c6" >Rh/In<tspan font-size="7" dy="2.6">2</tspan><tspan dy="-2.6">O</tspan><tspan font-size="7" dy="2.6">3</tspan></text><path d="M312.4,621.7H333.8" stroke="#e23b47" stroke-width="1.4"/><text x="338.6" y="625.7" font-size="10.7" text-anchor="start" fill="#e23b47" >Rh<tspan font-size="7" dy="2.6">2</tspan><tspan dy="-2.6">O</tspan><tspan font-size="7" dy="2.6">3</tspan></text><path d="M312.4,638.0H333.8" stroke="#fdd32e" stroke-width="1.4"/><text x="338.6" y="642" font-size="10.7" text-anchor="start" fill="#fdd32e" >Rh foil</text><path d="M423.5,461.5V650.5H564.4V461.5H423.5" fill="none" stroke="#333333" stroke-width="1"/><path d="M423.5,639.4h-3.5M423.5,594.92h-3.5M423.5,550.44h-3.5M423.5,505.96h-3.5M423.5,461.48h-3.5M423.5,617.16h-2.2M423.5,572.68h-2.2M423.5,528.2h-2.2M423.5,483.72h-2.2" stroke="#333333" stroke-width="1" fill="none"/><path d="M423.5,650.5v3.8M470.47,650.5v3.8M517.43,650.5v3.8M564.4,650.5v3.8M446.98,650.5v2.2M493.95,650.5v2.2M540.92,650.5v2.2" stroke="#333333" stroke-width="1" fill="none"/><text x="417.1" y="642.8" font-size="10.7" text-anchor="end" fill="#111111" >0</text><text x="417.1" y="598.32" font-size="10.7" text-anchor="end" fill="#111111" >2</text><text x="417.1" y="553.84" font-size="10.7" text-anchor="end" fill="#111111" >4</text><text x="417.1" y="509.36" font-size="10.7" text-anchor="end" fill="#111111" >6</text><text x="417.1" y="464.88" font-size="10.7" text-anchor="end" fill="#111111" >8</text><text x="423.5" y="665.1" font-size="10.7" text-anchor="middle" fill="#111111" >0</text><text x="470.47" y="665.1" font-size="10.7" text-anchor="middle" fill="#111111" >2</text><text x="517.43" y="665.1" font-size="10.7" text-anchor="middle" fill="#111111" >4</text><text x="564.4" y="665.1" font-size="10.7" text-anchor="middle" fill="#111111" >6</text><text x="493.65" y="681.9" font-size="10.7" text-anchor="middle" fill="#111111" >Radial distance (Å)</text><text transform="translate(405.2,556) rotate(-90)" font-size="10.7" text-anchor="middle" fill="#111111">|χ(<tspan font-style="italic">R</tspan>)| (Å<tspan font-size="7" dy="-4.8">−3</tspan><tspan dy="4.8">)</tspan></text><text x="426.8" y="474.3" font-size="10.7" text-anchor="start" fill="#111111" >Rh K-edge</text><path d="M423.5,639.4L423.75,639.4L424,639.4L424.25,639.4L424.5,639.4L424.75,639.39L425,639.39L425.25,639.39L425.5,639.38L425.75,639.38L426,639.38L426.25,639.37L426.5,639.37L426.75,639.36L427,639.35L427.25,639.35L427.5,639.34L427.75,639.33L428,639.33L428.25,639.32L428.5,639.31L428.75,639.3L429,639.29L429.25,639.28L429.5,639.27L429.75,639.26L430,639.25L430.25,639.24L430.5,639.23L430.75,639.22L431,639.2L431.25,639.19L431.5,639.17L431.75,639.13L432,639.09L432.25,639.04L432.5,638.98L432.75,638.92L433,638.86L433.25,638.79L433.5,638.72L433.75,638.65L434,638.57L434.25,638.5L434.5,638.43L434.75,638.37L435,638.31L435.25,638.25L435.5,638.21L435.75,638.17L436,638.13L436.25,638.11L436.5,638.1L436.75,638.1L437,638.12L437.25,638.14L437.5,638.17L437.75,638.21L438,638.25L438.25,638.29L438.5,638.34L438.75,638.38L439,638.42L439.25,638.45L439.5,638.48L439.75,638.49L440,638.5L440.25,638.48L440.5,638.43L440.75,638.35L441,638.24L441.25,638.12L441.5,637.97L441.75,637.81L442,637.64L442.25,637.47L442.5,637.29L442.75,637.12L443,636.96L443.25,636.8L443.5,636.66L443.75,636.53L444,636.43L444.25,636.36L444.5,636.31L444.75,636.3L445,636.33L445.25,636.41L445.5,636.52L445.75,636.66L446,636.82L446.25,637.01L446.5,637.2L446.75,637.4L447,637.6L447.25,637.79L447.5,637.98L447.75,638.14L448,638.28L448.25,638.39L448.5,638.47L448.75,638.5L449,638.47L449.25,638.37L449.5,638.2L449.75,637.97L450,637.67L450.25,637.33L450.5,636.94L450.75,636.52L451,636.07L451.25,635.59L451.5,635.1L451.75,634.6L452,634.1L452.25,633.6L452.5,633.11L452.75,632.64L453,632.19L453.25,631.78L453.5,631.4L453.75,631.06L454,630.78L454.25,630.56L454.5,630.4L454.75,630.31L455,630.31L455.25,630.45L455.5,630.73L455.75,631.12L456,631.61L456.25,632.18L456.5,632.8L456.75,633.46L457,634.14L457.25,634.81L457.5,635.45L457.75,636.06L458,636.59L458.25,637.05L458.5,637.4L458.75,637.62L459,637.7L459.25,637.55L459.5,637.13L459.75,636.45L460,635.55L460.25,634.46L460.5,633.2L460.75,631.8L461,630.28L461.25,628.68L461.5,627.03L461.75,625.35L462,623.66L462.25,622L462.5,620.39L462.75,618.87L463,617.45L463.25,616.17L463.5,615.06L463.75,614.13L464,613.24L464.25,612.32L464.5,611.4L464.75,610.48L465,609.58L465.25,608.72L465.5,607.92L465.75,607.18L466,606.53L466.25,605.99L466.5,605.56L466.75,605.26L467,605.11L467.25,605.13L467.5,605.29L467.75,605.58L468,605.98L468.25,606.48L468.5,607.06L468.75,607.69L469,608.37L469.25,609.07L469.5,609.77L469.75,610.47L470,611.14L470.25,611.76L470.5,612.32L470.75,612.8L471,613.19L471.25,613.45L471.5,613.59L471.75,613.53L472,613.15L472.25,612.44L472.5,611.47L472.75,610.27L473,608.87L473.25,607.32L473.5,605.65L473.75,603.92L474,602.15L474.25,600.39L474.5,598.68L474.75,597.06L475,595.57L475.25,594.24L475.5,593.03L475.75,591.76L476,590.43L476.25,589.06L476.5,587.67L476.75,586.25L477,584.83L477.25,583.42L477.5,582.03L477.75,580.67L478,579.35L478.25,578.08L478.5,576.89L478.75,575.77L479,574.74L479.25,573.82L479.5,573.01L479.75,572.32L480,571.78L480.25,571.39L480.5,571.16L480.75,571.1L481,571.19L481.25,571.41L481.5,571.75L481.75,572.19L482,572.73L482.25,573.36L482.5,574.08L482.75,574.87L483,575.73L483.25,576.64L483.5,577.61L483.75,578.61L484,579.65L484.25,580.72L484.5,581.8L484.75,582.88L485,584.07L485.25,585.52L485.5,587.19L485.75,589.06L486,591.06L486.25,593.16L486.5,595.3L486.75,597.46L487,599.57L487.25,601.6L487.5,603.5L487.75,605.41L488,607.45L488.25,609.58L488.5,611.72L488.75,613.84L489,615.86L489.25,617.73L489.5,619.4L489.75,620.81L490,621.9L490.25,622.62L490.5,623.2L490.75,623.76L491,624.3L491.25,624.82L491.5,625.32L491.75,625.8L492,626.26L492.25,626.7L492.5,627.11L492.75,627.5L493,627.87L493.25,628.21L493.5,628.53L493.75,628.82L494,629.09L494.25,629.34L494.5,629.55L494.75,629.74L495,629.91L495.25,630.04L495.5,630.15L495.75,630.23L496,630.28L496.25,630.3L496.5,630.28L496.75,630.19L497,630.03L497.25,629.83L497.5,629.57L497.75,629.27L498,628.93L498.25,628.57L498.5,628.18L498.75,627.77L499,627.35L499.25,626.93L499.5,626.51L499.75,626.1L500,625.71L500.25,625.34L500.5,625L500.75,624.69L501,624.42L501.25,624.2L501.5,624.04L501.75,623.94L502,623.9L502.25,623.94L502.5,624.05L502.75,624.23L503,624.48L503.25,624.78L503.5,625.13L503.75,625.52L504,625.96L504.25,626.43L504.5,626.93L504.75,627.45L505,627.99L505.25,628.54L505.5,629.1L505.75,629.66L506,630.21L506.25,630.75L506.5,631.27L506.75,631.77L507,632.24L507.25,632.67L507.5,633.07L507.75,633.42L508,633.72L508.25,633.97L508.5,634.15L508.75,634.26L509,634.3L509.25,634.27L509.5,634.19L509.75,634.05L510,633.87L510.25,633.66L510.5,633.41L510.75,633.14L511,632.86L511.25,632.56L511.5,632.25L511.75,631.94L512,631.64L512.25,631.36L512.5,631.09L512.75,630.84L513,630.63L513.25,630.45L513.5,630.31L513.75,630.23L514,630.2L514.25,630.23L514.5,630.31L514.75,630.43L515,630.59L515.25,630.78L515.5,631L515.75,631.24L516,631.49L516.25,631.75L516.5,632.01L516.75,632.26L517,632.5L517.25,632.72L517.5,632.91L517.75,633.07L518,633.19L518.25,633.27L518.5,633.3L518.75,633.27L519,633.17L519.25,633.02L519.5,632.81L519.75,632.55L520,632.24L520.25,631.9L520.5,631.52L520.75,631.11L521,630.66L521.25,630.2L521.5,629.72L521.75,629.22L522,628.71L522.25,628.2L522.5,627.69L522.75,627.18L523,626.68L523.25,626.19L523.5,625.72L523.75,625.27L524,624.84L524.25,624.45L524.5,624.09L524.75,623.77L525,623.49L525.25,623.26L525.5,623.08L525.75,622.96L526,622.91L526.25,622.92L526.5,623.04L526.75,623.25L527,623.56L527.25,623.95L527.5,624.42L527.75,624.95L528,625.54L528.25,626.19L528.5,626.87L528.75,627.59L529,628.34L529.25,629.11L529.5,629.89L529.75,630.67L530,631.45L530.25,632.21L530.5,632.95L530.75,633.67L531,634.35L531.25,634.98L531.5,635.56L531.75,636.08L532,636.53L532.25,636.91L532.5,637.2L532.75,637.39L533,637.49L533.25,637.48L533.5,637.4L533.75,637.23L534,637L534.25,636.7L534.5,636.35L534.75,635.94L535,635.49L535.25,635L535.5,634.48L535.75,633.93L536,633.36L536.25,632.78L536.5,632.19L536.75,631.59L537,631L537.25,630.42L537.5,629.86L537.75,629.31L538,628.8L538.25,628.32L538.5,627.87L538.75,627.48L539,627.14L539.25,626.85L539.5,626.63L539.75,626.48L540,626.41L540.25,626.41L540.5,626.45L540.75,626.52L541,626.63L541.25,626.77L541.5,626.94L541.75,627.13L542,627.34L542.25,627.57L542.5,627.82L542.75,628.09L543,628.36L543.25,628.65L543.5,628.94L543.75,629.24L544,629.54L544.25,629.84L544.5,630.13L544.75,630.42L545,630.71L545.25,630.98L545.5,631.23L545.75,631.48L546,631.7L546.25,631.9L546.5,632.08L546.75,632.23L547,632.36L547.25,632.46L547.5,632.55L547.75,632.63L548,632.7L548.25,632.77L548.5,632.84L548.75,632.9L549,632.96L549.25,633.01L549.5,633.07L549.75,633.12L550,633.17L550.25,633.23L550.5,633.28L550.75,633.34L551,633.4L551.25,633.46L551.5,633.52L551.75,633.59L552,633.67L552.25,633.75L552.5,633.83L552.75,633.92L553,634L553.25,634.09L553.5,634.18L553.75,634.27L554,634.36L554.25,634.45L554.5,634.55L554.75,634.65L555,634.75L555.25,634.85L555.5,634.95L555.75,635.05L556,635.16L556.25,635.26L556.5,635.37L556.75,635.48L557,635.59L557.25,635.7L557.5,635.82L557.75,635.93L558,636.05L558.25,636.17L558.5,636.29L558.75,636.41L559,636.54L559.25,636.66L559.5,636.79L559.75,636.92L560,637.05L560.25,637.18L560.5,637.31L560.75,637.45L561,637.59L561.25,637.72L561.5,637.86L561.75,638L562,638.15L562.25,638.29L562.5,638.44L562.75,638.59L563,638.73L563.25,638.89L563.5,639.04L563.75,639.19L564,639.35L564.25,639.5" fill="none" stroke="#fdd32e" stroke-width="1.4" stroke-linejoin="round"/><path d="M423.5,564.1L423.75,564.1L424,564.1L424.25,564.09L424.5,564.09L424.75,564.08L425,564.07L425.25,564.06L425.5,564.05L425.75,564.04L426,564.02L426.25,564.01L426.5,563.99L426.75,563.97L427,563.96L427.25,563.94L427.5,563.92L427.75,563.9L428,563.87L428.25,563.85L428.5,563.83L428.75,563.8L429,563.78L429.25,563.76L429.5,563.73L429.75,563.71L430,563.68L430.25,563.64L430.5,563.59L430.75,563.53L431,563.46L431.25,563.39L431.5,563.31L431.75,563.22L432,563.13L432.25,563.04L432.5,562.95L432.75,562.86L433,562.77L433.25,562.68L433.5,562.59L433.75,562.51L434,562.43L434.25,562.35L434.5,562.29L434.75,562.23L435,562.18L435.25,562.14L435.5,562.12L435.75,562.1L436,562.1L436.25,562.13L436.5,562.18L436.75,562.26L437,562.35L437.25,562.46L437.5,562.57L437.75,562.7L438,562.83L438.25,562.95L438.5,563.07L438.75,563.19L439,563.29L439.25,563.38L439.5,563.44L439.75,563.49L440,563.5L440.25,563.46L440.5,563.36L440.75,563.19L441,562.97L441.25,562.7L441.5,562.38L441.75,562.02L442,561.62L442.25,561.2L442.5,560.75L442.75,560.29L443,559.81L443.25,559.33L443.5,558.85L443.75,558.37L444,557.9L444.25,557.45L444.5,557.02L444.75,556.62L445,556.23L445.25,555.84L445.5,555.45L445.75,555.05L446,554.66L446.25,554.26L446.5,553.86L446.75,553.46L447,553.05L447.25,552.64L447.5,552.22L447.75,551.8L448,551.37L448.25,550.93L448.5,550.48L448.75,550.03L449,549.57L449.25,549.09L449.5,548.61L449.75,548.12L450,547.61L450.25,547.09L450.5,546.54L450.75,545.93L451,545.28L451.25,544.6L451.5,543.9L451.75,543.17L452,542.43L452.25,541.68L452.5,540.92L452.75,540.18L453,539.45L453.25,538.74L453.5,538.05L453.75,537.4L454,536.78L454.25,536.21L454.5,535.7L454.75,535.24L455,534.85L455.25,534.45L455.5,534.06L455.75,533.67L456,533.29L456.25,532.93L456.5,532.59L456.75,532.29L457,532.02L457.25,531.8L457.5,531.64L457.75,531.54L458,531.5L458.25,531.53L458.5,531.6L458.75,531.73L459,531.9L459.25,532.1L459.5,532.35L459.75,532.63L460,532.94L460.25,533.28L460.5,533.64L460.75,534.02L461,534.42L461.25,534.83L461.5,535.26L461.75,535.69L462,536.22L462.25,536.89L462.5,537.68L462.75,538.56L463,539.53L463.25,540.56L463.5,541.64L463.75,542.74L464,543.86L464.25,544.98L464.5,546.07L464.75,547.12L465,548.12L465.25,549.08L465.5,550.11L465.75,551.23L466,552.39L466.25,553.6L466.5,554.82L466.75,556.03L467,557.22L467.25,558.36L467.5,559.44L467.75,560.43L468,561.32L468.25,562.09L468.5,562.71L468.75,563.16L469,563.43L469.25,563.5L469.5,563.45L469.75,563.34L470,563.18L470.25,562.98L470.5,562.73L470.75,562.46L471,562.16L471.25,561.84L471.5,561.52L471.75,561.19L472,560.87L472.25,560.56L472.5,560.27L472.75,560.02L473,559.79L473.25,559.61L473.5,559.48L473.75,559.41L474,559.4L474.25,559.41L474.5,559.42L474.75,559.45L475,559.48L475.25,559.51L475.5,559.55L475.75,559.6L476,559.65L476.25,559.71L476.5,559.78L476.75,559.84L477,559.91L477.25,559.98L477.5,560.09L477.75,560.27L478,560.52L478.25,560.82L478.5,561.15L478.75,561.51L479,561.88L479.25,562.24L479.5,562.58L479.75,562.89L480,563.15L480.25,563.35L480.5,563.47L480.75,563.5L481,563.44L481.25,563.32L481.5,563.13L481.75,562.89L482,562.6L482.25,562.27L482.5,561.91L482.75,561.53L483,561.14L483.25,560.74L483.5,560.35L483.75,559.97L484,559.61L484.25,559.28L484.5,558.99L484.75,558.74L485,558.53L485.25,558.31L485.5,558.08L485.75,557.86L486,557.64L486.25,557.42L486.5,557.2L486.75,557L487,556.8L487.25,556.63L487.5,556.46L487.75,556.32L488,556.2L488.25,556.11L488.5,556.04L488.75,556.01L489,556L489.25,556.05L489.5,556.13L489.75,556.25L490,556.41L490.25,556.59L490.5,556.8L490.75,557.04L491,557.29L491.25,557.56L491.5,557.83L491.75,558.11L492,558.4L492.25,558.68L492.5,558.96L492.75,559.22L493,559.48L493.25,559.71L493.5,559.92L493.75,560.12L494,560.32L494.25,560.54L494.5,560.76L494.75,560.99L495,561.22L495.25,561.44L495.5,561.66L495.75,561.87L496,562.07L496.25,562.25L496.5,562.41L496.75,562.55L497,562.66L497.25,562.74L497.5,562.79L497.75,562.8L498,562.8L498.25,562.8L498.5,562.8L498.75,562.79L499,562.79L499.25,562.79L499.5,562.78L499.75,562.78L500,562.77L500.25,562.77L500.5,562.76L500.75,562.76L501,562.75L501.25,562.74L501.5,562.74L501.75,562.73L502,562.72L502.25,562.71L502.5,562.71L502.75,562.7L503,562.69L503.25,562.68L503.5,562.68L503.75,562.67L504,562.66L504.25,562.65L504.5,562.65L504.75,562.64L505,562.64L505.25,562.63L505.5,562.62L505.75,562.62L506,562.62L506.25,562.61L506.5,562.61L506.75,562.61L507,562.6L507.25,562.6L507.5,562.6L507.75,562.6L508,562.6L508.25,562.6L508.5,562.61L508.75,562.61L509,562.61L509.25,562.62L509.5,562.63L509.75,562.63L510,562.64L510.25,562.65L510.5,562.66L510.75,562.67L511,562.68L511.25,562.7L511.5,562.71L511.75,562.72L512,562.73L512.25,562.75L512.5,562.76L512.75,562.77L513,562.79L513.25,562.8L513.5,562.82L513.75,562.83L514,562.85L514.25,562.86L514.5,562.88L514.75,562.89L515,562.91L515.25,562.92L515.5,562.93L515.75,562.95L516,562.96L516.25,562.97L516.5,562.99L516.75,563L517,563.01L517.25,563.02L517.5,563.03L517.75,563.04L518,563.05L518.25,563.06L518.5,563.07L518.75,563.08L519,563.08L519.25,563.09L519.5,563.09L519.75,563.1L520,563.1L520.25,563.1L520.5,563.1L520.75,563.1L521,563.1L521.25,563.1L521.5,563.1L521.75,563.1L522,563.1L522.25,563.1L522.5,563.1L522.75,563.1L523,563.1L523.25,563.1L523.5,563.1L523.75,563.1L524,563.1L524.25,563.1L524.5,563.1L524.75,563.1L525,563.1L525.25,563.1L525.5,563.1L525.75,563.1L526,563.1L526.25,563.1L526.5,563.1L526.75,563.1L527,563.1L527.25,563.1L527.5,563.1L527.75,563.1L528,563.1L528.25,563.1L528.5,563.1L528.75,563.1L529,563.1L529.25,563.1L529.5,563.1L529.75,563.1L530,563.1L530.25,563.1L530.5,563.1L530.75,563.1L531,563.1L531.25,563.1L531.5,563.1L531.75,563.1L532,563.1L532.25,563.1L532.5,563.1L532.75,563.1L533,563.1L533.25,563.1L533.5,563.1L533.75,563.1L534,563.1L534.25,563.11L534.5,563.11L534.75,563.11L535,563.12L535.25,563.12L535.5,563.13L535.75,563.13L536,563.14L536.25,563.15L536.5,563.15L536.75,563.16L537,563.17L537.25,563.18L537.5,563.19L537.75,563.19L538,563.2L538.25,563.21L538.5,563.22L538.75,563.23L539,563.24L539.25,563.25L539.5,563.26L539.75,563.27L540,563.28L540.25,563.29L540.5,563.3L540.75,563.31L541,563.32L541.25,563.33L541.5,563.34L541.75,563.36L542,563.37L542.25,563.38L542.5,563.39L542.75,563.4L543,563.41L543.25,563.42L543.5,563.43L543.75,563.43L544,563.44L544.25,563.45L544.5,563.46L544.75,563.47L545,563.48L545.25,563.48L545.5,563.49L545.75,563.5L546,563.51L546.25,563.51L546.5,563.52L546.75,563.52L547,563.53L547.25,563.54L547.5,563.54L547.75,563.55L548,563.56L548.25,563.56L548.5,563.57L548.75,563.57L549,563.58L549.25,563.59L549.5,563.59L549.75,563.6L550,563.61L550.25,563.61L550.5,563.62L550.75,563.62L551,563.63L551.25,563.64L551.5,563.64L551.75,563.65L552,563.65L552.25,563.66L552.5,563.67L552.75,563.67L553,563.68L553.25,563.68L553.5,563.69L553.75,563.69L554,563.7L554.25,563.71L554.5,563.71L554.75,563.72L555,563.72L555.25,563.73L555.5,563.73L555.75,563.74L556,563.74L556.25,563.75L556.5,563.75L556.75,563.76L557,563.76L557.25,563.77L557.5,563.77L557.75,563.78L558,563.79L558.25,563.79L558.5,563.8L558.75,563.8L559,563.8L559.25,563.81L559.5,563.81L559.75,563.82L560,563.82L560.25,563.83L560.5,563.83L560.75,563.84L561,563.84L561.25,563.85L561.5,563.85L561.75,563.86L562,563.86L562.25,563.86L562.5,563.87L562.75,563.87L563,563.88L563.25,563.88L563.5,563.89L563.75,563.89L564,563.89L564.25,563.9" fill="none" stroke="#e23b47" stroke-width="1.4" stroke-linejoin="round"/><path d="M423.5,519.6L423.75,519.71L424,519.81L424.25,519.9L424.5,519.98L424.75,520.05L425,520.12L425.25,520.18L425.5,520.23L425.75,520.28L426,520.32L426.25,520.36L426.5,520.39L426.75,520.41L427,520.44L427.25,520.45L427.5,520.47L427.75,520.48L428,520.49L428.25,520.49L428.5,520.5L428.75,520.5L429,520.5L429.25,520.5L429.5,520.47L429.75,520.41L430,520.34L430.25,520.25L430.5,520.14L430.75,520.01L431,519.88L431.25,519.73L431.5,519.58L431.75,519.41L432,519.25L432.25,519.08L432.5,518.92L432.75,518.76L433,518.6L433.25,518.45L433.5,518.31L433.75,518.19L434,518.07L434.25,517.98L434.5,517.9L434.75,517.84L435,517.81L435.25,517.8L435.5,517.83L435.75,517.89L436,517.98L436.25,518.09L436.5,518.23L436.75,518.38L437,518.54L437.25,518.7L437.5,518.86L437.75,519.02L438,519.17L438.25,519.31L438.5,519.42L438.75,519.51L439,519.57L439.25,519.6L439.5,519.57L439.75,519.45L440,519.25L440.25,518.98L440.5,518.64L440.75,518.25L441,517.8L441.25,517.3L441.5,516.77L441.75,516.22L442,515.64L442.25,515.05L442.5,514.45L442.75,513.85L443,513.26L443.25,512.69L443.5,512.15L443.75,511.63L444,511.16L444.25,510.73L444.5,510.35L444.75,510.04L445,509.77L445.25,509.51L445.5,509.28L445.75,509.07L446,508.86L446.25,508.68L446.5,508.5L446.75,508.32L447,508.16L447.25,507.99L447.5,507.82L447.75,507.66L448,507.48L448.25,507.3L448.5,507.1L448.75,506.9L449,506.67L449.25,506.43L449.5,506.17L449.75,505.88L450,505.57L450.25,505.23L450.5,504.8L450.75,504.26L451,503.63L451.25,502.91L451.5,502.13L451.75,501.3L452,500.43L452.25,499.53L452.5,498.62L452.75,497.71L453,496.81L453.25,495.94L453.5,495.1L453.75,494.32L454,493.61L454.25,492.98L454.5,492.35L454.75,491.7L455,491.04L455.25,490.36L455.5,489.69L455.75,489.02L456,488.36L456.25,487.73L456.5,487.13L456.75,486.57L457,486.05L457.25,485.58L457.5,485.18L457.75,484.84L458,484.58L458.25,484.4L458.5,484.31L458.75,484.31L459,484.4L459.25,484.56L459.5,484.79L459.75,485.09L460,485.43L460.25,485.83L460.5,486.27L460.75,486.75L461,487.26L461.25,487.79L461.5,488.34L461.75,488.91L462,489.48L462.25,490.06L462.5,490.64L462.75,491.31L463,492.07L463.25,492.93L463.5,493.87L463.75,494.86L464,495.92L464.25,497.01L464.5,498.13L464.75,499.27L465,500.41L465.25,501.54L465.5,502.66L465.75,503.75L466,504.79L466.25,505.78L466.5,506.7L466.75,507.63L467,508.62L467.25,509.66L467.5,510.73L467.75,511.78L468,512.82L468.25,513.8L468.5,514.7L468.75,515.51L469,516.2L469.25,516.74L469.5,517.11L469.75,517.29L470,517.32L470.25,517.34L470.5,517.36L470.75,517.37L471,517.39L471.25,517.39L471.5,517.4L471.75,517.41L472,517.42L472.25,517.43L472.5,517.44L472.75,517.46L473,517.48L473.25,517.51L473.5,517.59L473.75,517.73L474,517.93L474.25,518.17L474.5,518.44L474.75,518.72L475,519.01L475.25,519.3L475.5,519.56L475.75,519.8L476,519.99L476.25,520.12L476.5,520.19L476.75,520.19L477,520.11L477.25,519.98L477.5,519.79L477.75,519.56L478,519.28L478.25,518.97L478.5,518.63L478.75,518.27L479,517.89L479.25,517.51L479.5,517.12L479.75,516.73L480,516.36L480.25,516L480.5,515.67L480.75,515.36L481,515.09L481.25,514.87L481.5,514.69L481.75,514.57L482,514.51L482.25,514.51L482.5,514.55L482.75,514.62L483,514.72L483.25,514.84L483.5,515L483.75,515.17L484,515.35L484.25,515.55L484.5,515.77L484.75,515.99L485,516.21L485.25,516.44L485.5,516.67L485.75,516.89L486,517.1L486.25,517.31L486.5,517.5L486.75,517.67L487,517.83L487.25,517.96L487.5,518.07L487.75,518.14L488,518.19L488.25,518.2L488.5,518.17L488.75,518.09L489,517.97L489.25,517.81L489.5,517.62L489.75,517.39L490,517.14L490.25,516.86L490.5,516.56L490.75,516.23L491,515.89L491.25,515.54L491.5,515.18L491.75,514.81L492,514.44L492.25,514.06L492.5,513.69L492.75,513.32L493,512.97L493.25,512.62L493.5,512.29L493.75,511.97L494,511.68L494.25,511.41L494.5,511.17L494.75,510.96L495,510.79L495.25,510.65L495.5,510.55L495.75,510.49L496,510.45L496.25,510.41L496.5,510.37L496.75,510.34L497,510.32L497.25,510.31L497.5,510.3L497.75,510.32L498,510.39L498.25,510.49L498.5,510.63L498.75,510.8L499,511L499.25,511.22L499.5,511.46L499.75,511.72L500,512L500.25,512.28L500.5,512.57L500.75,512.87L501,513.16L501.25,513.45L501.5,513.73L501.75,514.01L502,514.26L502.25,514.5L502.5,514.72L502.75,514.92L503,515.12L503.25,515.33L503.5,515.54L503.75,515.76L504,515.99L504.25,516.21L504.5,516.44L504.75,516.67L505,516.9L505.25,517.13L505.5,517.36L505.75,517.59L506,517.81L506.25,518.03L506.5,518.25L506.75,518.46L507,518.67L507.25,518.86L507.5,519.06L507.75,519.24L508,519.41L508.25,519.58L508.5,519.73L508.75,519.87L509,520L509.25,520.12L509.5,520.22L509.75,520.31L510,520.38L510.25,520.44L510.5,520.48L510.75,520.5L511,520.5L511.25,520.46L511.5,520.4L511.75,520.32L512,520.21L512.25,520.1L512.5,519.98L512.75,519.86L513,519.75L513.25,519.65L513.5,519.57L513.75,519.52L514,519.5L514.25,519.5L514.5,519.51L514.75,519.53L515,519.55L515.25,519.57L515.5,519.6L515.75,519.63L516,519.66L516.25,519.7L516.5,519.74L516.75,519.78L517,519.82L517.25,519.86L517.5,519.9L517.75,519.94L518,519.98L518.25,520.02L518.5,520.05L518.75,520.08L519,520.11L519.25,520.14L519.5,520.16L519.75,520.18L520,520.19L520.25,520.2L520.5,520.2L520.75,520.2L521,520.2L521.25,520.2L521.5,520.2L521.75,520.2L522,520.19L522.25,520.19L522.5,520.19L522.75,520.19L523,520.19L523.25,520.18L523.5,520.18L523.75,520.18L524,520.18L524.25,520.17L524.5,520.17L524.75,520.17L525,520.16L525.25,520.16L525.5,520.15L525.75,520.15L526,520.15L526.25,520.14L526.5,520.14L526.75,520.13L527,520.13L527.25,520.12L527.5,520.12L527.75,520.11L528,520.11L528.25,520.1L528.5,520.1L528.75,520.09L529,520.09L529.25,520.08L529.5,520.08L529.75,520.07L530,520.07L530.25,520.06L530.5,520.06L530.75,520.05L531,520.04L531.25,520.04L531.5,520.03L531.75,520.03L532,520.02L532.25,520.02L532.5,520.01L532.75,520.01L533,520L533.25,520L533.5,519.99L533.75,519.98L534,519.98L534.25,519.97L534.5,519.96L534.75,519.95L535,519.95L535.25,519.94L535.5,519.93L535.75,519.92L536,519.91L536.25,519.9L536.5,519.89L536.75,519.88L537,519.87L537.25,519.86L537.5,519.85L537.75,519.84L538,519.83L538.25,519.82L538.5,519.81L538.75,519.8L539,519.79L539.25,519.78L539.5,519.78L539.75,519.77L540,519.76L540.25,519.75L540.5,519.74L540.75,519.74L541,519.73L541.25,519.72L541.5,519.72L541.75,519.71L542,519.71L542.25,519.71L542.5,519.7L542.75,519.7L543,519.7L543.25,519.7L543.5,519.7L543.75,519.71L544,519.71L544.25,519.73L544.5,519.74L544.75,519.76L545,519.78L545.25,519.8L545.5,519.83L545.75,519.85L546,519.88L546.25,519.91L546.5,519.94L546.75,519.97L547,520.01L547.25,520.04L547.5,520.07L547.75,520.11L548,520.14L548.25,520.17L548.5,520.21L548.75,520.24L549,520.27L549.25,520.3L549.5,520.33L549.75,520.36L550,520.39L550.25,520.41L550.5,520.43L550.75,520.45L551,520.47L551.25,520.48L551.5,520.49L551.75,520.5L552,520.5L552.25,520.5L552.5,520.5L552.75,520.5L553,520.5L553.25,520.5L553.5,520.5L553.75,520.5L554,520.5L554.25,520.5L554.5,520.5L554.75,520.5L555,520.5L555.25,520.5L555.5,520.5L555.75,520.5L556,520.5L556.25,520.5L556.5,520.5L556.75,520.5L557,520.5L557.25,520.5L557.5,520.5L557.75,520.5L558,520.5L558.25,520.5L558.5,520.5L558.75,520.5L559,520.5L559.25,520.5L559.5,520.5L559.75,520.5L560,520.5L560.25,520.5L560.5,520.5L560.75,520.5L561,520.5L561.25,520.5L561.5,520.5L561.75,520.5L562,520.5L562.25,520.5L562.5,520.5L562.75,520.5L563,520.5L563.25,520.5L563.5,520.5L563.75,520.5L564,520.5L564.25,520.5" fill="none" stroke="#3d84c6" stroke-width="1.4" stroke-linejoin="round"/><path d="M458.5,479.5V547M488.7,545V568M480.7,565.4V588" stroke="#707070" stroke-width="1" stroke-dasharray="3.4,2.8" fill="none"/><text x="465.8" y="488.3" font-size="10.7" text-anchor="start" fill="#8c8c8c" >Rh–O</text><text x="491.5" y="551.9" font-size="10.7" text-anchor="start" fill="#8c8c8c" >Rh–Rh</text><text x="487.7" y="587.5" font-size="10.7" text-anchor="start" fill="#8c8c8c" >Rh–Rh</text><text x="562" y="511.8" font-size="10.7" text-anchor="end" fill="#3d84c6" >Rh/In<tspan font-size="7" dy="2.6">2</tspan><tspan dy="-2.6">O</tspan><tspan font-size="7" dy="2.6">3</tspan></text><text x="560.8" y="555.9" font-size="10.7" text-anchor="end" fill="#e23b47" >Rh<tspan font-size="7" dy="2.6">2</tspan><tspan dy="-2.6">O</tspan><tspan font-size="7" dy="2.6">3</tspan></text><text x="560" y="615.5" font-size="10.7" text-anchor="end" fill="#fdd32e" >Rh foil</text></svg></body></html>
